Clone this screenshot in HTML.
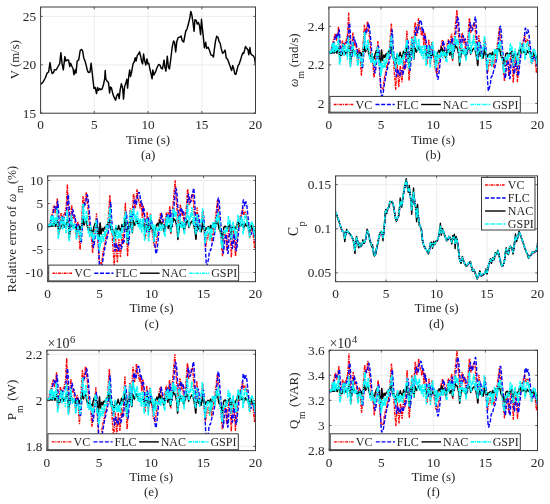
<!DOCTYPE html>
<html><head><meta charset="utf-8"><title>figure</title>
<style>html,body{margin:0;padding:0;background:#fff}svg{display:block}</style></head>
<body>
<svg width="550" height="504" viewBox="0 0 550 504">
<style>text{font-family:"Liberation Serif", "DejaVu Serif", serif;fill:#262626} .tk{font-size:13.3px} .lg{font-size:12px} .lb{font-size:13px} .sm{font-size:10px}</style>
<rect width="550" height="504" fill="#ffffff"/>
<clipPath id="clipa"><rect x="40.6" y="7.0" width="214.9" height="106.2"/></clipPath>
<line x1="94.3" y1="7.0" x2="94.3" y2="113.15" stroke="#e8e8e8" stroke-width="0.8"/>
<line x1="148.1" y1="7.0" x2="148.1" y2="113.15" stroke="#e8e8e8" stroke-width="0.8"/>
<line x1="201.8" y1="7.0" x2="201.8" y2="113.15" stroke="#e8e8e8" stroke-width="0.8"/>
<line x1="40.6" y1="64.8" x2="255.5" y2="64.8" stroke="#e8e8e8" stroke-width="0.8"/>
<line x1="40.6" y1="16.4" x2="255.5" y2="16.4" stroke="#e8e8e8" stroke-width="0.8"/>
<path clip-path="url(#clipa)" d="M40.6,84.6 L43.1,81.9 L45.3,78.0 L47.1,73.1 L48.6,72.0 L50.0,62.6 L51.1,69.8 L52.2,73.6 L53.5,72.5 L54.5,69.8 L56.2,69.8 L57.8,67.0 L59.7,63.7 L60.9,52.7 L62.0,63.2 L63.3,69.8 L64.9,56.6 L66.0,61.0 L67.4,59.9 L68.5,59.9 L69.8,66.5 L70.6,63.2 L72.0,66.5 L73.1,68.7 L73.9,74.7 L75.3,69.8 L76.0,73.1 L77.2,61.0 L78.7,59.9 L80.2,50.5 L81.5,49.4 L82.7,51.1 L83.8,58.2 L84.8,60.4 L86.2,65.4 L87.5,70.9 L88.5,72.5 L90.0,72.0 L91.1,63.2 L92.1,72.0 L93.2,81.9 L94.0,88.5 L95.2,87.5 L96.5,93.6 L97.6,87.5 L98.5,90.3 L99.6,88.6 L100.9,89.7 L102.2,88.6 L103.6,84.2 L104.7,78.7 L105.2,70.5 L105.8,78.7 L106.9,80.9 L108.5,82.6 L109.6,93.0 L110.5,87.0 L111.5,88.1 L112.9,94.1 L113.9,96.9 L115.6,100.2 L116.7,95.8 L118.1,93.6 L119.2,98.5 L120.2,89.7 L121.4,83.7 L122.7,88.6 L123.5,99.1 L124.6,86.4 L125.9,83.1 L126.8,79.3 L127.6,88.1 L128.7,76.5 L129.7,69.9 L130.5,76.5 L131.6,72.1 L133.0,63.9 L134.1,62.2 L135.2,57.8 L136.1,61.1 L137.2,55.6 L138.5,54.0 L139.5,51.8 L140.6,56.2 L141.7,61.7 L142.6,63.9 L143.6,54.0 L144.5,60.0 L145.8,65.0 L147.0,58.9 L147.9,63.9 L148.8,63.3 L149.9,68.8 L150.4,71.1 L152.1,78.8 L152.8,70.0 L153.9,75.0 L155.4,72.2 L157.0,67.8 L158.6,64.5 L160.0,65.1 L161.3,68.4 L162.4,68.9 L164.1,60.1 L164.8,66.7 L165.9,71.1 L167.3,56.3 L168.4,67.3 L169.5,68.9 L170.9,58.0 L172.2,47.0 L173.6,40.9 L174.6,42.6 L175.7,51.9 L176.8,41.5 L178.2,37.6 L179.7,37.1 L181.0,36.0 L182.3,40.9 L183.7,42.0 L184.8,36.0 L185.9,30.5 L186.1,30.7 L187.2,28.5 L188.6,23.0 L189.7,18.6 L190.8,11.5 L191.9,15.3 L193.0,22.5 L194.1,31.3 L194.9,19.7 L196.2,20.3 L197.3,24.1 L198.4,22.5 L199.5,25.8 L200.6,34.6 L201.5,19.2 L202.2,26.9 L203.3,36.8 L204.4,47.8 L205.7,42.3 L206.6,48.3 L208.2,47.2 L209.7,51.1 L211.0,54.9 L212.6,55.5 L213.4,57.1 L214.4,48.9 L215.5,41.2 L216.7,36.2 L218.0,37.3 L219.1,41.7 L220.2,43.4 L221.3,48.9 L222.6,53.3 L223.8,52.2 L225.1,50.0 L226.2,57.7 L227.9,59.9 L231.6,70.6 L232.7,65.6 L233.8,68.9 L234.8,73.9 L235.9,74.4 L237.0,70.0 L238.1,65.6 L239.2,64.0 L240.5,60.1 L241.6,56.3 L242.7,53.0 L243.6,53.6 L244.7,49.7 L245.5,46.4 L246.8,48.6 L247.9,49.7 L248.8,54.7 L249.9,47.5 L250.7,53.6 L252.1,55.2 L253.4,55.8 L254.5,58.0 L255.4,64.0" fill="none" stroke="#000" stroke-width="1.45" stroke-linejoin="round"/>
<rect x="40.6" y="7.0" width="214.9" height="106.2" fill="none" stroke="#3a3a3a" stroke-width="1"/>
<line x1="40.6" y1="113.15" x2="40.6" y2="110.95" stroke="#3a3a3a" stroke-width="0.8"/>
<line x1="40.6" y1="7.0" x2="40.6" y2="9.2" stroke="#3a3a3a" stroke-width="0.8"/>
<text x="40.6" y="129.2" text-anchor="middle" class="tk">0</text>
<line x1="94.3" y1="113.15" x2="94.3" y2="110.95" stroke="#3a3a3a" stroke-width="0.8"/>
<line x1="94.3" y1="7.0" x2="94.3" y2="9.2" stroke="#3a3a3a" stroke-width="0.8"/>
<text x="94.3" y="129.2" text-anchor="middle" class="tk">5</text>
<line x1="148.1" y1="113.15" x2="148.1" y2="110.95" stroke="#3a3a3a" stroke-width="0.8"/>
<line x1="148.1" y1="7.0" x2="148.1" y2="9.2" stroke="#3a3a3a" stroke-width="0.8"/>
<text x="148.1" y="129.2" text-anchor="middle" class="tk">10</text>
<line x1="201.8" y1="113.15" x2="201.8" y2="110.95" stroke="#3a3a3a" stroke-width="0.8"/>
<line x1="201.8" y1="7.0" x2="201.8" y2="9.2" stroke="#3a3a3a" stroke-width="0.8"/>
<text x="201.8" y="129.2" text-anchor="middle" class="tk">15</text>
<line x1="255.5" y1="113.15" x2="255.5" y2="110.95" stroke="#3a3a3a" stroke-width="0.8"/>
<line x1="255.5" y1="7.0" x2="255.5" y2="9.2" stroke="#3a3a3a" stroke-width="0.8"/>
<text x="255.5" y="129.2" text-anchor="middle" class="tk">20</text>
<line x1="40.6" y1="113.2" x2="42.800000000000004" y2="113.2" stroke="#3a3a3a" stroke-width="0.8"/>
<line x1="255.5" y1="113.2" x2="253.3" y2="113.2" stroke="#3a3a3a" stroke-width="0.8"/>
<text x="36.1" y="117.6" text-anchor="end" class="tk">15</text>
<line x1="40.6" y1="64.8" x2="42.800000000000004" y2="64.8" stroke="#3a3a3a" stroke-width="0.8"/>
<line x1="255.5" y1="64.8" x2="253.3" y2="64.8" stroke="#3a3a3a" stroke-width="0.8"/>
<text x="36.1" y="69.2" text-anchor="end" class="tk">20</text>
<line x1="40.6" y1="16.4" x2="42.800000000000004" y2="16.4" stroke="#3a3a3a" stroke-width="0.8"/>
<line x1="255.5" y1="16.4" x2="253.3" y2="16.4" stroke="#3a3a3a" stroke-width="0.8"/>
<text x="36.1" y="20.8" text-anchor="end" class="tk">25</text>
<text x="148.1" y="143.8" text-anchor="middle" class="lb">Time (s)</text>
<text x="148.1" y="158.9" text-anchor="middle" class="lb">(a)</text>
<g transform="translate(18.7,79.3) rotate(-90)">
<text x="0.0" y="0.0" font-size="12.8px">V (m/s)</text>
</g>
<clipPath id="clipb"><rect x="328.9" y="7.1" width="208.6" height="105.9"/></clipPath>
<line x1="381.0" y1="7.1" x2="381.0" y2="113.0" stroke="#e8e8e8" stroke-width="0.8"/>
<line x1="433.2" y1="7.1" x2="433.2" y2="113.0" stroke="#e8e8e8" stroke-width="0.8"/>
<line x1="485.4" y1="7.1" x2="485.4" y2="113.0" stroke="#e8e8e8" stroke-width="0.8"/>
<line x1="328.9" y1="103.4" x2="537.5" y2="103.4" stroke="#e8e8e8" stroke-width="0.8"/>
<line x1="328.9" y1="64.9" x2="537.5" y2="64.9" stroke="#e8e8e8" stroke-width="0.8"/>
<line x1="328.9" y1="26.4" x2="537.5" y2="26.4" stroke="#e8e8e8" stroke-width="0.8"/>
<path clip-path="url(#clipb)" d="M328.9,52.9 L329.2,52.6 L329.4,53.0 L329.7,52.9 L329.9,52.6 L330.2,51.6 L330.5,51.2 L330.7,50.5 L331.0,49.9 L331.2,49.5 L331.5,48.3 L331.8,46.9 L332.0,44.6 L332.3,43.7 L332.6,43.1 L332.8,43.0 L333.1,42.5 L333.3,40.9 L333.6,40.3 L333.9,39.2 L334.1,39.0 L334.4,36.6 L334.6,34.8 L334.9,34.3 L335.2,34.5 L335.4,33.8 L335.7,35.2 L335.9,37.1 L336.2,39.4 L336.5,40.1 L336.7,37.3 L337.0,36.6 L337.2,36.0 L337.5,36.0 L337.8,34.0 L338.0,31.6 L338.3,29.1 L338.5,26.6 L338.8,33.9 L339.1,41.9 L339.3,49.9 L339.6,57.7 L339.9,61.4 L340.1,59.7 L340.4,57.5 L340.6,54.6 L340.9,51.9 L341.2,51.3 L341.4,49.5 L341.7,47.4 L341.9,44.2 L342.2,41.9 L342.5,40.3 L342.7,41.4 L343.0,44.0 L343.2,45.6 L343.5,48.8 L343.8,47.9 L344.0,48.7 L344.3,46.5 L344.5,44.8 L344.8,43.2 L345.1,42.1 L345.3,42.4 L345.6,41.4 L345.8,41.5 L346.1,40.9 L346.4,39.9 L346.6,38.0 L346.9,37.1 L347.2,36.0 L347.4,36.2 L347.7,30.9 L347.9,26.6 L348.2,21.6 L348.5,17.7 L348.7,13.3 L349.0,21.9 L349.2,28.9 L349.5,37.2 L349.8,43.7 L350.0,51.6 L350.3,58.7 L350.5,66.2 L350.8,64.3 L351.1,59.9 L351.3,56.6 L351.6,55.0 L351.8,51.6 L352.1,46.6 L352.4,40.4 L352.6,35.6 L352.9,33.1 L353.1,35.3 L353.4,37.1 L353.7,39.2 L353.9,41.6 L354.2,43.9 L354.5,45.4 L354.7,44.0 L355.0,44.1 L355.2,44.9 L355.5,44.7 L355.8,42.9 L356.0,44.9 L356.3,48.3 L356.5,52.1 L356.8,54.6 L357.1,57.0 L357.3,59.6 L357.6,62.9 L357.8,62.5 L358.1,58.8 L358.4,55.9 L358.6,52.4 L358.9,49.2 L359.1,48.6 L359.4,50.2 L359.7,50.8 L359.9,52.9 L360.2,56.3 L360.5,61.5 L360.7,66.1 L361.0,70.3 L361.2,73.8 L361.5,75.2 L361.8,70.3 L362.0,65.9 L362.3,61.5 L362.5,56.8 L362.8,50.6 L363.1,45.4 L363.3,41.2 L363.6,37.6 L363.8,34.0 L364.1,29.6 L364.4,25.1 L364.6,27.1 L364.9,29.8 L365.1,32.7 L365.4,34.4 L365.7,34.6 L365.9,31.8 L366.2,30.5 L366.4,28.5 L366.7,27.3 L367.0,25.3 L367.2,23.5 L367.5,21.8 L367.8,21.3 L368.0,23.6 L368.3,26.8 L368.5,28.7 L368.8,31.6 L369.1,33.1 L369.3,35.9 L369.6,38.3 L369.8,41.6 L370.1,43.7 L370.4,47.2 L370.6,50.2 L370.9,53.9 L371.1,57.3 L371.4,57.5 L371.7,58.2 L371.9,59.1 L372.2,60.5 L372.4,61.9 L372.7,61.6 L373.0,65.2 L373.2,68.2 L373.5,71.9 L373.7,76.0 L374.0,77.8 L374.3,75.8 L374.5,73.6 L374.8,71.0 L375.1,67.0 L375.3,63.4 L375.6,59.6 L375.8,57.1 L376.1,55.0 L376.4,53.3 L376.6,52.8 L376.9,51.1 L377.1,49.6 L377.4,46.4 L377.7,43.6 L377.9,41.4 L378.2,46.9 L378.4,53.3 L378.7,58.1 L379.0,62.8 L379.2,65.7 L379.5,70.0 L379.7,73.1 L380.0,76.7 L380.3,80.3 L380.5,85.6 L380.8,87.0 L381.0,87.4 L381.3,87.6 L381.6,87.7 L381.8,87.9 L382.1,87.6 L382.4,87.8 L382.6,88.8 L382.9,88.5 L383.1,87.6 L383.4,86.2 L383.7,83.6 L383.9,81.9 L384.2,78.8 L384.4,78.3 L384.7,76.2 L385.0,75.4 L385.2,74.0 L385.5,72.7 L385.7,72.1 L386.0,71.2 L386.3,70.2 L386.5,69.2 L386.8,66.8 L387.0,65.8 L387.3,63.5 L387.6,64.9 L387.8,63.8 L388.1,63.5 L388.4,61.2 L388.6,59.6 L388.9,58.6 L389.1,55.8 L389.4,52.1 L389.7,47.0 L389.9,42.7 L390.2,38.6 L390.4,36.2 L390.7,32.0 L391.0,28.7 L391.2,24.4 L391.5,24.2 L391.7,31.8 L392.0,40.3 L392.3,50.0 L392.5,52.8 L392.8,54.6 L393.0,55.9 L393.3,58.2 L393.6,60.2 L393.8,63.7 L394.1,68.9 L394.3,72.6 L394.6,76.7 L394.9,79.3 L395.1,82.3 L395.4,86.2 L395.7,89.3 L395.9,86.6 L396.2,81.7 L396.4,77.2 L396.7,73.7 L397.0,70.0 L397.2,65.3 L397.5,69.2 L397.7,71.5 L398.0,76.1 L398.3,79.2 L398.5,83.3 L398.8,86.5 L399.0,83.0 L399.3,80.2 L399.6,75.4 L399.8,72.3 L400.1,68.2 L400.3,65.7 L400.6,68.0 L400.9,71.9 L401.1,74.4 L401.4,77.8 L401.6,79.1 L401.9,81.7 L402.2,79.8 L402.4,76.8 L402.7,72.1 L403.0,67.5 L403.2,63.5 L403.5,60.9 L403.7,63.7 L404.0,64.6 L404.3,65.3 L404.5,67.8 L404.8,69.3 L405.0,66.0 L405.3,61.1 L405.6,56.9 L405.8,51.2 L406.1,46.7 L406.3,40.5 L406.6,35.8 L406.9,31.3 L407.1,36.2 L407.4,42.6 L407.6,46.8 L407.9,52.2 L408.2,59.4 L408.4,67.1 L408.7,73.3 L409.0,79.8 L409.2,80.7 L409.5,74.9 L409.7,68.4 L410.0,63.9 L410.3,58.2 L410.5,53.2 L410.8,50.3 L411.0,46.6 L411.3,43.9 L411.6,39.0 L411.8,36.4 L412.1,37.1 L412.3,39.6 L412.6,41.1 L412.9,44.5 L413.1,48.1 L413.4,52.6 L413.6,48.5 L413.9,42.6 L414.2,36.5 L414.4,31.1 L414.7,26.3 L414.9,22.5 L415.2,22.2 L415.5,24.1 L415.7,25.9 L416.0,29.6 L416.3,33.2 L416.5,35.5 L416.8,35.6 L417.0,33.7 L417.3,31.1 L417.6,30.2 L417.8,27.0 L418.1,23.8 L418.3,19.6 L418.6,18.6 L418.9,20.8 L419.1,24.7 L419.4,25.2 L419.6,26.9 L419.9,27.3 L420.2,28.8 L420.4,30.2 L420.7,30.4 L420.9,31.7 L421.2,32.9 L421.5,35.7 L421.7,35.6 L422.0,34.7 L422.2,32.2 L422.5,30.3 L422.8,29.8 L423.0,33.9 L423.3,37.5 L423.6,41.6 L423.8,44.7 L424.1,41.6 L424.3,39.3 L424.6,35.7 L424.9,33.4 L425.1,36.4 L425.4,41.1 L425.6,44.1 L425.9,49.4 L426.2,53.0 L426.4,57.9 L426.7,61.0 L426.9,64.5 L427.2,61.1 L427.5,58.1 L427.7,55.5 L428.0,51.0 L428.2,47.5 L428.5,43.1 L428.8,40.1 L429.0,42.7 L429.3,47.7 L429.5,51.5 L429.8,56.0 L430.1,60.8 L430.3,64.2 L430.6,60.6 L430.9,58.5 L431.1,55.4 L431.4,51.9 L431.6,46.5 L431.9,41.8 L432.2,42.5 L432.4,45.3 L432.7,49.1 L432.9,51.6 L433.2,53.4 L433.5,54.3 L433.7,57.0 L434.0,59.3 L434.2,61.5 L434.5,61.9 L434.8,63.8 L435.0,66.5 L435.3,69.5 L435.5,70.8 L435.8,71.8 L436.1,71.9 L436.3,72.1 L436.6,72.3 L436.9,73.0 L437.1,73.2 L437.4,71.6 L437.6,70.6 L437.9,68.5 L438.2,66.2 L438.4,64.2 L438.7,63.5 L438.9,62.5 L439.2,61.0 L439.5,59.0 L439.7,57.5 L440.0,54.8 L440.2,51.2 L440.5,49.2 L440.8,47.4 L441.0,45.9 L441.3,44.8 L441.5,44.0 L441.8,43.3 L442.1,41.1 L442.3,40.6 L442.6,40.7 L442.8,42.1 L443.1,42.4 L443.4,43.1 L443.6,45.8 L443.9,47.4 L444.2,49.9 L444.4,51.9 L444.7,53.9 L444.9,55.8 L445.2,56.1 L445.5,58.0 L445.7,58.5 L446.0,56.2 L446.2,53.9 L446.5,51.6 L446.8,49.2 L447.0,46.8 L447.3,44.8 L447.5,43.4 L447.8,41.7 L448.1,41.0 L448.3,39.8 L448.6,40.3 L448.8,41.0 L449.1,42.7 L449.4,44.4 L449.6,48.0 L449.9,49.9 L450.1,46.4 L450.4,42.7 L450.7,40.1 L450.9,38.3 L451.2,36.6 L451.5,34.1 L451.7,34.3 L452.0,43.4 L452.2,51.9 L452.5,60.1 L452.8,60.5 L453.0,56.5 L453.3,53.4 L453.5,49.5 L453.8,45.7 L454.1,40.3 L454.3,37.1 L454.6,33.3 L454.8,31.0 L455.1,29.4 L455.4,26.4 L455.6,22.6 L455.9,19.8 L456.1,17.7 L456.4,15.0 L456.7,12.2 L456.9,10.0 L457.2,15.0 L457.4,19.1 L457.7,23.4 L458.0,27.1 L458.2,31.0 L458.5,34.5 L458.8,39.0 L459.0,40.9 L459.3,45.1 L459.5,45.5 L459.8,48.4 L460.1,49.3 L460.3,50.6 L460.6,47.7 L460.8,44.3 L461.1,41.7 L461.4,38.5 L461.6,35.8 L461.9,33.0 L462.1,33.1 L462.4,34.5 L462.7,36.1 L462.9,37.2 L463.2,39.6 L463.4,42.1 L463.7,42.7 L464.0,42.2 L464.2,40.4 L464.5,38.3 L464.8,38.4 L465.0,42.2 L465.3,47.5 L465.5,52.0 L465.8,56.7 L466.1,58.8 L466.3,54.7 L466.6,52.1 L466.8,49.8 L467.1,46.5 L467.4,42.2 L467.6,39.6 L467.9,37.3 L468.1,34.7 L468.4,31.1 L468.7,26.7 L468.9,22.5 L469.2,20.1 L469.4,18.2 L469.7,19.2 L470.0,23.2 L470.2,26.8 L470.5,30.8 L470.7,32.6 L471.0,31.1 L471.3,30.5 L471.5,30.1 L471.8,30.7 L472.1,30.1 L472.3,29.1 L472.6,28.2 L472.8,26.3 L473.1,25.1 L473.4,23.8 L473.6,24.2 L473.9,24.7 L474.1,24.5 L474.4,22.5 L474.7,22.3 L474.9,24.9 L475.2,29.5 L475.4,32.3 L475.7,36.6 L476.0,40.6 L476.2,45.3 L476.5,48.8 L476.7,52.0 L477.0,55.5 L477.3,59.8 L477.5,64.0 L477.8,64.2 L478.0,55.2 L478.3,47.0 L478.6,40.1 L478.8,35.7 L479.1,38.6 L479.4,40.6 L479.6,43.2 L479.9,45.9 L480.1,48.5 L480.4,49.9 L480.7,53.1 L480.9,53.7 L481.2,55.6 L481.4,56.1 L481.7,57.1 L482.0,56.4 L482.2,55.1 L482.5,53.1 L482.7,51.8 L483.0,51.3 L483.3,50.3 L483.5,48.3 L483.8,47.7 L484.0,44.1 L484.3,41.8 L484.6,38.9 L484.8,38.3 L485.1,42.9 L485.4,47.7 L485.6,51.9 L485.9,57.1 L486.1,60.8 L486.4,63.1 L486.7,65.4 L486.9,66.8 L487.2,69.5 L487.4,73.2 L487.7,71.5 L488.0,70.1 L488.2,68.1 L488.5,67.3 L488.7,65.5 L489.0,63.3 L489.3,62.3 L489.5,61.7 L489.8,61.1 L490.0,59.9 L490.3,61.0 L490.6,62.6 L490.8,64.4 L491.1,65.3 L491.3,65.6 L491.6,65.5 L491.9,64.2 L492.1,62.7 L492.4,62.2 L492.7,59.6 L492.9,61.8 L493.2,62.9 L493.4,65.8 L493.7,67.6 L494.0,66.7 L494.2,63.9 L494.5,62.1 L494.7,60.3 L495.0,60.3 L495.3,59.4 L495.5,57.5 L495.8,54.6 L496.0,53.1 L496.3,52.1 L496.6,51.2 L496.8,48.8 L497.1,47.3 L497.3,45.3 L497.6,42.6 L497.9,40.7 L498.1,38.8 L498.4,36.9 L498.6,33.8 L498.9,32.3 L499.2,29.8 L499.4,28.3 L499.7,29.7 L500.0,33.7 L500.2,37.8 L500.5,40.1 L500.7,44.5 L501.0,46.7 L501.3,50.7 L501.5,52.6 L501.8,54.8 L502.0,56.4 L502.3,59.2 L502.6,61.1 L502.8,64.6 L503.1,66.5 L503.3,70.3 L503.6,72.5 L503.9,75.7 L504.1,77.3 L504.4,81.0 L504.6,78.0 L504.9,75.3 L505.2,69.9 L505.4,66.8 L505.7,61.3 L505.9,61.8 L506.2,61.2 L506.5,62.0 L506.7,61.0 L507.0,59.0 L507.3,57.7 L507.5,60.0 L507.8,63.1 L508.0,66.0 L508.3,70.5 L508.6,73.1 L508.8,75.4 L509.1,71.6 L509.3,70.0 L509.6,68.4 L509.9,64.3 L510.1,60.7 L510.4,57.4 L510.6,57.4 L510.9,55.4 L511.2,54.0 L511.4,52.6 L511.7,52.5 L511.9,50.9 L512.2,54.1 L512.5,61.4 L512.7,68.8 L513.0,77.3 L513.3,82.7 L513.5,78.8 L513.8,74.6 L514.0,69.9 L514.3,65.4 L514.6,61.5 L514.8,60.9 L515.1,60.1 L515.3,58.5 L515.6,57.3 L515.9,60.5 L516.1,65.0 L516.4,68.4 L516.6,71.3 L516.9,74.7 L517.2,77.5 L517.4,81.5 L517.7,78.6 L517.9,76.8 L518.2,72.8 L518.5,69.5 L518.7,65.2 L519.0,61.8 L519.2,58.2 L519.5,57.1 L519.8,56.7 L520.0,54.8 L520.3,52.6 L520.6,50.4 L520.8,48.7 L521.1,47.9 L521.3,46.7 L521.6,46.5 L521.9,44.5 L522.1,43.8 L522.4,43.8 L522.6,44.7 L522.9,43.2 L523.2,41.9 L523.4,40.5 L523.7,40.1 L523.9,39.0 L524.2,37.1 L524.5,35.4 L524.7,35.6 L525.0,36.7 L525.2,39.3 L525.5,40.5 L525.8,42.2 L526.0,42.7 L526.3,41.6 L526.5,40.4 L526.8,40.4 L527.1,39.6 L527.3,40.2 L527.6,40.2 L527.9,40.5 L528.1,40.7 L528.4,43.1 L528.6,44.6 L528.9,46.0 L529.2,47.3 L529.4,49.6 L529.7,51.3 L529.9,51.8 L530.2,53.0 L530.5,54.8 L530.7,56.8 L531.0,58.6 L531.2,60.7 L531.5,63.1 L531.8,63.9 L532.0,62.8 L532.3,59.7 L532.5,58.2 L532.8,56.7 L533.1,56.8 L533.3,55.7 L533.6,56.2 L533.8,56.1 L534.1,56.4 L534.4,56.2 L534.6,57.3 L534.9,57.4 L535.2,59.9 L535.4,62.7 L535.7,65.3 L535.9,68.2 L536.2,70.3 L536.5,73.2 L536.7,72.7 L537.0,70.3 L537.2,68.9 L537.5,66.9" fill="none" stroke="#ff0000" stroke-width="1.4" stroke-dasharray="2.8 0.9 1.0 0.9" stroke-linejoin="round" />
<path clip-path="url(#clipb)" d="M328.9,53.2 L329.2,53.0 L329.4,53.2 L329.7,53.3 L329.9,53.6 L330.2,53.1 L330.5,52.6 L330.7,51.8 L331.0,51.3 L331.2,50.7 L331.5,49.9 L331.8,49.7 L332.0,48.8 L332.3,48.2 L332.6,47.4 L332.8,45.9 L333.1,44.1 L333.3,44.2 L333.6,44.6 L333.9,43.9 L334.1,41.9 L334.4,40.5 L334.6,39.3 L334.9,39.1 L335.2,37.5 L335.4,36.9 L335.7,35.1 L335.9,34.6 L336.2,34.4 L336.5,35.3 L336.7,36.6 L337.0,37.7 L337.2,37.8 L337.5,37.9 L337.8,37.2 L338.0,35.9 L338.3,33.5 L338.5,32.2 L338.8,30.5 L339.1,29.6 L339.3,31.3 L339.6,34.7 L339.9,39.2 L340.1,44.7 L340.4,49.1 L340.6,52.5 L340.9,53.6 L341.2,54.6 L341.4,52.8 L341.7,51.6 L341.9,50.3 L342.2,49.9 L342.5,48.8 L342.7,47.7 L343.0,45.6 L343.2,44.5 L343.5,43.7 L343.8,44.8 L344.0,44.9 L344.3,45.9 L344.5,46.5 L344.8,47.4 L345.1,46.6 L345.3,45.1 L345.6,44.9 L345.8,44.1 L346.1,43.1 L346.4,42.3 L346.6,42.1 L346.9,42.6 L347.2,41.4 L347.4,39.9 L347.7,38.1 L347.9,37.0 L348.2,35.0 L348.5,32.6 L348.7,29.4 L349.0,26.6 L349.2,23.1 L349.5,23.0 L349.8,25.0 L350.0,28.2 L350.3,32.7 L350.5,37.9 L350.8,44.6 L351.1,52.1 L351.3,55.7 L351.6,57.3 L351.8,56.8 L352.1,56.1 L352.4,53.7 L352.6,50.3 L352.9,46.9 L353.1,43.5 L353.4,40.0 L353.7,38.1 L353.9,36.9 L354.2,37.9 L354.5,38.7 L354.7,39.8 L355.0,41.0 L355.2,42.4 L355.5,43.6 L355.8,44.2 L356.0,44.0 L356.3,43.6 L356.5,44.6 L356.8,46.9 L357.1,48.7 L357.3,50.2 L357.6,51.3 L357.8,53.3 L358.1,55.8 L358.4,57.7 L358.6,58.1 L358.9,57.5 L359.1,55.3 L359.4,53.6 L359.7,52.0 L359.9,51.7 L360.2,51.5 L360.5,52.6 L360.7,54.1 L361.0,57.3 L361.2,59.4 L361.5,62.3 L361.8,64.1 L362.0,67.3 L362.3,68.5 L362.5,68.8 L362.8,66.0 L363.1,63.2 L363.3,58.6 L363.6,56.4 L363.8,51.8 L364.1,47.8 L364.4,42.6 L364.6,38.3 L364.9,34.6 L365.1,32.8 L365.4,31.4 L365.7,30.9 L365.9,31.2 L366.2,32.3 L366.4,32.9 L366.7,31.9 L367.0,30.6 L367.2,29.4 L367.5,28.5 L367.8,27.1 L368.0,25.6 L368.3,23.5 L368.5,23.2 L368.8,23.7 L369.1,25.2 L369.3,26.7 L369.6,28.9 L369.8,31.0 L370.1,33.8 L370.4,35.8 L370.6,38.3 L370.9,41.2 L371.1,44.5 L371.4,48.2 L371.7,51.0 L371.9,52.8 L372.2,54.3 L372.4,55.9 L372.7,57.6 L373.0,58.2 L373.2,59.0 L373.5,61.0 L373.7,63.9 L374.0,66.1 L374.3,68.8 L374.5,71.4 L374.8,72.9 L375.1,72.9 L375.3,71.5 L375.6,70.9 L375.8,68.1 L376.1,66.5 L376.4,63.9 L376.6,61.9 L376.9,59.9 L377.1,56.8 L377.4,54.4 L377.7,51.9 L377.9,50.1 L378.2,48.0 L378.4,46.0 L378.7,47.1 L379.0,50.8 L379.2,55.0 L379.5,61.2 L379.7,66.9 L380.0,72.4 L380.3,78.2 L380.5,83.2 L380.8,89.2 L381.0,93.6 L381.3,95.5 L381.6,96.1 L381.8,95.3 L382.1,95.9 L382.4,95.2 L382.6,95.0 L382.9,93.9 L383.1,92.9 L383.4,91.2 L383.7,88.9 L383.9,87.3 L384.2,85.5 L384.4,84.4 L384.7,82.5 L385.0,81.4 L385.2,79.1 L385.5,77.8 L385.7,75.9 L386.0,75.1 L386.3,73.4 L386.5,72.1 L386.8,71.0 L387.0,70.2 L387.3,69.3 L387.6,68.0 L387.8,66.9 L388.1,65.5 L388.4,64.2 L388.6,63.1 L388.9,63.2 L389.1,62.1 L389.4,60.5 L389.7,58.6 L389.9,57.1 L390.2,55.9 L390.4,52.3 L390.7,49.0 L391.0,43.8 L391.2,41.2 L391.5,36.8 L391.7,33.2 L392.0,29.9 L392.3,31.4 L392.5,35.1 L392.8,40.4 L393.0,44.8 L393.3,48.7 L393.6,51.8 L393.8,54.5 L394.1,56.6 L394.3,58.9 L394.6,60.9 L394.9,63.5 L395.1,65.1 L395.4,67.6 L395.7,69.0 L395.9,72.4 L396.2,74.2 L396.4,76.4 L396.7,75.0 L397.0,74.0 L397.2,72.8 L397.5,72.1 L397.7,70.1 L398.0,69.2 L398.3,69.3 L398.5,71.4 L398.8,73.4 L399.0,75.1 L399.3,75.6 L399.6,75.8 L399.8,75.5 L400.1,75.8 L400.3,73.7 L400.6,72.4 L400.9,70.4 L401.1,70.8 L401.4,70.8 L401.6,71.1 L401.9,70.8 L402.2,72.2 L402.4,73.2 L402.7,74.5 L403.0,73.7 L403.2,73.3 L403.5,72.2 L403.7,70.6 L404.0,67.4 L404.3,66.2 L404.5,65.8 L404.8,66.4 L405.0,67.6 L405.3,68.0 L405.6,67.6 L405.8,64.5 L406.1,61.3 L406.3,57.6 L406.6,53.8 L406.9,49.8 L407.1,45.3 L407.4,41.2 L407.6,39.8 L407.9,41.0 L408.2,42.3 L408.4,45.8 L408.7,49.2 L409.0,53.7 L409.2,57.9 L409.5,63.4 L409.7,68.5 L410.0,70.3 L410.3,69.1 L410.5,66.7 L410.8,63.4 L411.0,59.3 L411.3,56.2 L411.6,52.8 L411.8,50.4 L412.1,46.4 L412.3,42.5 L412.6,40.8 L412.9,40.4 L413.1,41.0 L413.4,42.3 L413.6,45.3 L413.9,47.3 L414.2,47.5 L414.4,45.3 L414.7,43.2 L414.9,40.0 L415.2,36.4 L415.5,32.3 L415.7,29.0 L416.0,27.3 L416.3,27.6 L416.5,28.2 L416.8,29.9 L417.0,31.3 L417.3,32.6 L417.6,32.6 L417.8,32.6 L418.1,31.7 L418.3,30.1 L418.6,27.4 L418.9,25.5 L419.1,23.7 L419.4,23.2 L419.6,21.6 L419.9,21.3 L420.2,21.0 L420.4,21.8 L420.7,22.1 L420.9,21.3 L421.2,22.1 L421.5,23.0 L421.7,26.1 L422.0,29.0 L422.2,30.6 L422.5,30.6 L422.8,29.5 L423.0,29.1 L423.3,30.1 L423.6,32.2 L423.8,34.6 L424.1,35.8 L424.3,38.5 L424.6,39.2 L424.9,39.6 L425.1,38.3 L425.4,36.5 L425.6,36.8 L425.9,39.1 L426.2,42.2 L426.4,44.1 L426.7,46.3 L426.9,49.4 L427.2,53.9 L427.5,57.2 L427.7,58.3 L428.0,57.7 L428.2,56.9 L428.5,54.9 L428.8,52.3 L429.0,48.9 L429.3,45.1 L429.5,44.4 L429.8,45.8 L430.1,48.2 L430.3,50.2 L430.6,53.6 L430.9,57.1 L431.1,58.5 L431.4,57.9 L431.6,56.7 L431.9,54.7 L432.2,51.9 L432.4,48.8 L432.7,47.1 L432.9,47.0 L433.2,48.0 L433.5,49.4 L433.7,50.6 L434.0,51.9 L434.2,53.2 L434.5,55.2 L434.8,57.1 L435.0,59.1 L435.3,61.7 L435.5,63.7 L435.8,66.1 L436.1,67.2 L436.3,69.5 L436.6,71.3 L436.9,74.0 L437.1,75.8 L437.4,77.8 L437.6,79.0 L437.9,79.2 L438.2,78.6 L438.4,76.8 L438.7,75.1 L438.9,73.1 L439.2,71.2 L439.5,69.0 L439.7,66.5 L440.0,63.6 L440.2,61.2 L440.5,58.5 L440.8,56.8 L441.0,54.3 L441.3,52.8 L441.5,51.3 L441.8,49.8 L442.1,48.9 L442.3,46.8 L442.6,45.0 L442.8,42.2 L443.1,40.8 L443.4,41.5 L443.6,42.9 L443.9,43.6 L444.2,44.2 L444.4,44.8 L444.7,47.3 L444.9,49.1 L445.2,51.7 L445.5,53.1 L445.7,53.8 L446.0,55.0 L446.2,56.0 L446.5,56.5 L446.8,55.2 L447.0,54.4 L447.3,53.0 L447.5,50.7 L447.8,49.2 L448.1,47.1 L448.3,45.5 L448.6,43.1 L448.8,41.0 L449.1,41.6 L449.4,41.8 L449.6,43.5 L449.9,43.5 L450.1,44.8 L450.4,45.7 L450.7,46.1 L450.9,45.1 L451.2,44.6 L451.5,42.2 L451.7,40.6 L452.0,38.5 L452.2,38.0 L452.5,40.3 L452.8,44.1 L453.0,48.9 L453.3,52.0 L453.5,52.8 L453.8,53.2 L454.1,53.1 L454.3,51.2 L454.6,48.3 L454.8,44.6 L455.1,41.9 L455.4,37.4 L455.6,35.1 L455.9,31.8 L456.1,29.2 L456.4,25.9 L456.7,23.6 L456.9,20.9 L457.2,18.9 L457.4,17.0 L457.7,17.8 L458.0,18.0 L458.2,19.1 L458.5,21.3 L458.8,23.8 L459.0,27.3 L459.3,30.4 L459.5,34.6 L459.8,37.3 L460.1,40.0 L460.3,42.4 L460.6,44.4 L460.8,45.9 L461.1,45.7 L461.4,46.1 L461.6,45.5 L461.9,43.9 L462.1,41.2 L462.4,38.3 L462.7,36.4 L462.9,35.5 L463.2,35.9 L463.4,36.6 L463.7,38.2 L464.0,39.5 L464.2,40.4 L464.5,40.1 L464.8,39.5 L465.0,39.2 L465.3,39.0 L465.5,40.1 L465.8,41.7 L466.1,44.7 L466.3,47.6 L466.6,51.2 L466.8,53.0 L467.1,53.9 L467.4,53.5 L467.6,51.3 L467.9,48.9 L468.1,46.0 L468.4,43.5 L468.7,40.0 L468.9,36.1 L469.2,33.1 L469.4,29.8 L469.7,27.4 L470.0,23.9 L470.2,22.6 L470.5,23.2 L470.7,24.7 L471.0,26.2 L471.3,28.5 L471.5,29.9 L471.8,30.7 L472.1,29.9 L472.3,30.0 L472.6,29.7 L472.8,28.9 L473.1,27.0 L473.4,25.9 L473.6,24.7 L473.9,24.1 L474.1,22.6 L474.4,21.6 L474.7,20.3 L474.9,19.1 L475.2,17.3 L475.4,17.0 L475.7,18.4 L476.0,21.0 L476.2,25.3 L476.5,29.2 L476.7,35.1 L477.0,40.1 L477.3,44.8 L477.5,48.4 L477.8,51.6 L478.0,55.2 L478.3,57.8 L478.6,57.6 L478.8,55.6 L479.1,51.3 L479.4,46.7 L479.6,44.3 L479.9,42.6 L480.1,42.9 L480.4,42.9 L480.7,44.8 L480.9,46.3 L481.2,49.1 L481.4,50.8 L481.7,52.4 L482.0,53.1 L482.2,53.5 L482.5,54.5 L482.7,55.5 L483.0,55.9 L483.3,54.8 L483.5,53.9 L483.8,52.9 L484.0,52.1 L484.3,50.5 L484.6,48.6 L484.8,46.8 L485.1,45.1 L485.4,43.1 L485.6,44.1 L485.9,47.5 L486.1,52.3 L486.4,57.7 L486.7,62.6 L486.9,67.6 L487.2,72.9 L487.4,77.7 L487.7,82.4 L488.0,86.7 L488.2,89.8 L488.5,91.0 L488.7,90.9 L489.0,89.3 L489.3,88.3 L489.5,86.9 L489.8,86.3 L490.0,85.2 L490.3,84.8 L490.6,82.6 L490.8,80.1 L491.1,77.4 L491.3,77.0 L491.6,76.7 L491.9,76.3 L492.1,75.5 L492.4,75.9 L492.7,75.0 L492.9,74.1 L493.2,72.6 L493.4,71.6 L493.7,70.6 L494.0,69.4 L494.2,68.8 L494.5,68.2 L494.7,67.9 L495.0,67.1 L495.3,65.8 L495.5,63.9 L495.8,62.7 L496.0,61.7 L496.3,60.7 L496.6,59.4 L496.8,57.4 L497.1,55.5 L497.3,53.3 L497.6,51.0 L497.9,49.4 L498.1,47.2 L498.4,45.7 L498.6,41.8 L498.9,39.6 L499.2,36.0 L499.4,33.3 L499.7,29.8 L500.0,27.0 L500.2,26.3 L500.5,26.3 L500.7,27.2 L501.0,28.8 L501.3,32.0 L501.5,35.9 L501.8,40.0 L502.0,43.7 L502.3,47.3 L502.6,49.2 L502.8,52.7 L503.1,54.5 L503.3,57.7 L503.6,59.5 L503.9,62.6 L504.1,66.0 L504.4,68.9 L504.6,73.2 L504.9,76.6 L505.2,78.6 L505.4,77.3 L505.7,75.6 L505.9,72.7 L506.2,68.9 L506.5,66.7 L506.7,64.4 L507.0,63.8 L507.3,62.7 L507.5,62.5 L507.8,60.6 L508.0,61.2 L508.3,62.5 L508.6,65.7 L508.8,68.4 L509.1,72.1 L509.3,76.0 L509.6,78.5 L509.9,78.7 L510.1,77.3 L510.4,73.5 L510.6,69.4 L510.9,65.6 L511.2,62.3 L511.4,60.3 L511.7,58.5 L511.9,56.9 L512.2,54.6 L512.5,52.1 L512.7,53.1 L513.0,55.8 L513.3,60.3 L513.5,65.5 L513.8,71.3 L514.0,73.4 L514.3,73.9 L514.6,73.4 L514.8,71.2 L515.1,69.1 L515.3,66.3 L515.6,64.6 L515.9,61.9 L516.1,60.7 L516.4,60.8 L516.6,61.7 L516.9,63.8 L517.2,66.1 L517.4,68.8 L517.7,71.7 L517.9,75.1 L518.2,76.0 L518.5,75.0 L518.7,73.7 L519.0,72.1 L519.2,69.9 L519.5,66.3 L519.8,63.1 L520.0,61.7 L520.3,60.2 L520.6,58.3 L520.8,55.0 L521.1,53.5 L521.3,53.0 L521.6,52.0 L521.9,50.6 L522.1,48.9 L522.4,48.4 L522.6,46.9 L522.9,45.8 L523.2,44.3 L523.4,44.2 L523.7,43.6 L523.9,42.4 L524.2,39.5 L524.5,37.1 L524.7,33.8 L525.0,30.6 L525.2,28.3 L525.5,28.1 L525.8,28.8 L526.0,29.1 L526.3,30.6 L526.5,32.7 L526.8,33.6 L527.1,33.3 L527.3,32.4 L527.6,31.3 L527.9,29.8 L528.1,30.8 L528.4,31.4 L528.6,33.1 L528.9,34.3 L529.2,36.6 L529.4,38.8 L529.7,41.0 L529.9,43.4 L530.2,45.7 L530.5,48.0 L530.7,50.3 L531.0,52.6 L531.2,54.5 L531.5,55.7 L531.8,56.9 L532.0,58.3 L532.3,59.2 L532.5,60.1 L532.8,60.4 L533.1,60.8 L533.3,60.4 L533.6,59.4 L533.8,57.6 L534.1,57.3 L534.4,56.6 L534.6,57.1 L534.9,56.3 L535.2,56.8 L535.4,56.7 L535.7,58.0 L535.9,58.6 L536.2,60.9 L536.5,62.0 L536.7,63.5 L537.0,65.0 L537.2,65.8 L537.5,67.0" fill="none" stroke="#0000ff" stroke-width="1.4" stroke-dasharray="4 1.7" stroke-linejoin="round" />
<path clip-path="url(#clipb)" d="M328.9,53.3 L329.2,53.2 L329.4,53.2 L329.7,52.9 L329.9,52.9 L330.2,53.0 L330.5,52.7 L330.7,52.7 L331.0,52.3 L331.2,53.3 L331.5,52.8 L331.8,52.3 L332.0,52.4 L332.3,52.8 L332.6,52.4 L332.8,50.9 L333.1,52.0 L333.3,52.9 L333.6,52.5 L333.9,52.2 L334.1,52.5 L334.4,53.0 L334.6,51.6 L334.9,50.4 L335.2,49.9 L335.4,49.0 L335.7,49.8 L335.9,51.5 L336.2,52.3 L336.5,52.8 L336.7,52.7 L337.0,53.2 L337.2,51.6 L337.5,50.9 L337.8,50.0 L338.0,49.4 L338.3,48.7 L338.5,47.6 L338.8,50.5 L339.1,51.3 L339.3,53.7 L339.6,55.3 L339.9,56.1 L340.1,55.5 L340.4,55.4 L340.6,55.6 L340.9,54.6 L341.2,54.3 L341.4,54.8 L341.7,55.4 L341.9,54.6 L342.2,53.2 L342.5,52.8 L342.7,53.0 L343.0,52.6 L343.2,52.2 L343.5,51.7 L343.8,51.8 L344.0,50.6 L344.3,51.1 L344.5,50.8 L344.8,51.8 L345.1,52.4 L345.3,52.4 L345.6,53.8 L345.8,53.3 L346.1,53.8 L346.4,52.5 L346.6,53.4 L346.9,53.2 L347.2,52.1 L347.4,52.0 L347.7,50.3 L347.9,49.9 L348.2,48.7 L348.5,46.8 L348.7,46.2 L349.0,48.1 L349.2,50.5 L349.5,51.3 L349.8,52.7 L350.0,55.1 L350.3,57.9 L350.5,62.1 L350.8,61.3 L351.1,59.5 L351.3,55.8 L351.6,54.6 L351.8,54.1 L352.1,52.5 L352.4,51.9 L352.6,50.2 L352.9,50.2 L353.1,50.2 L353.4,50.0 L353.7,50.6 L353.9,51.4 L354.2,52.3 L354.5,53.4 L354.7,53.0 L355.0,53.9 L355.2,54.0 L355.5,53.6 L355.8,54.1 L356.0,54.0 L356.3,54.7 L356.5,54.7 L356.8,54.0 L357.1,54.6 L357.3,55.1 L357.6,56.0 L357.8,55.6 L358.1,55.3 L358.4,54.6 L358.6,54.1 L358.9,53.9 L359.1,54.2 L359.4,53.8 L359.7,53.1 L359.9,53.0 L360.2,53.9 L360.5,53.7 L360.7,53.0 L361.0,53.4 L361.2,54.7 L361.5,55.7 L361.8,54.7 L362.0,53.8 L362.3,54.4 L362.5,54.0 L362.8,53.0 L363.1,52.9 L363.3,50.5 L363.6,49.0 L363.8,47.4 L364.1,48.0 L364.4,46.6 L364.6,48.4 L364.9,50.8 L365.1,51.7 L365.4,51.9 L365.7,51.4 L365.9,50.8 L366.2,49.2 L366.4,48.9 L366.7,49.0 L367.0,48.3 L367.2,48.2 L367.5,48.2 L367.8,48.0 L368.0,49.2 L368.3,50.5 L368.5,52.9 L368.8,53.3 L369.1,54.2 L369.3,55.7 L369.6,56.2 L369.8,55.9 L370.1,55.2 L370.4,55.7 L370.6,56.1 L370.9,55.6 L371.1,55.4 L371.4,55.7 L371.7,56.2 L371.9,56.9 L372.2,57.2 L372.4,57.3 L372.7,56.3 L373.0,57.6 L373.2,58.5 L373.5,58.0 L373.7,57.7 L374.0,58.4 L374.3,58.6 L374.5,57.6 L374.8,56.0 L375.1,53.9 L375.3,54.0 L375.6,52.8 L375.8,52.1 L376.1,51.1 L376.4,50.5 L376.6,51.6 L376.9,51.5 L377.1,51.9 L377.4,50.8 L377.7,50.5 L377.9,50.4 L378.2,51.8 L378.4,53.1 L378.7,53.2 L379.0,55.3 L379.2,56.9 L379.5,58.4 L379.7,60.0 L380.0,60.2 L380.3,63.6 L380.5,64.7 L380.8,61.0 L381.0,55.8 L381.3,50.9 L381.6,49.9 L381.8,52.0 L382.1,56.8 L382.4,60.1 L382.6,60.6 L382.9,58.5 L383.1,57.1 L383.4,56.3 L383.7,55.2 L383.9,55.0 L384.2,55.5 L384.4,56.3 L384.7,57.5 L385.0,57.5 L385.2,56.1 L385.5,55.7 L385.7,54.3 L386.0,54.5 L386.3,54.2 L386.5,53.8 L386.8,54.6 L387.0,54.1 L387.3,54.2 L387.6,53.3 L387.8,52.5 L388.1,52.2 L388.4,51.5 L388.6,51.9 L388.9,52.1 L389.1,51.3 L389.4,50.0 L389.7,49.7 L389.9,50.3 L390.2,49.5 L390.4,47.8 L390.7,48.0 L391.0,47.8 L391.2,47.6 L391.5,47.6 L391.7,50.1 L392.0,53.2 L392.3,55.6 L392.5,56.8 L392.8,55.5 L393.0,55.6 L393.3,56.3 L393.6,56.8 L393.8,56.8 L394.1,56.2 L394.3,57.7 L394.6,58.4 L394.9,58.2 L395.1,59.4 L395.4,61.0 L395.7,62.7 L395.9,64.1 L396.2,63.7 L396.4,61.9 L396.7,58.4 L397.0,55.3 L397.2,54.4 L397.5,54.5 L397.7,55.7 L398.0,56.2 L398.3,56.5 L398.5,57.8 L398.8,57.5 L399.0,56.6 L399.3,55.1 L399.6,55.0 L399.8,53.8 L400.1,52.3 L400.3,52.8 L400.6,55.2 L400.9,55.0 L401.1,55.7 L401.4,55.9 L401.6,57.1 L401.9,57.5 L402.2,55.7 L402.4,56.3 L402.7,54.8 L403.0,54.5 L403.2,52.8 L403.5,51.3 L403.7,52.4 L404.0,53.0 L404.3,52.8 L404.5,53.5 L404.8,54.1 L405.0,54.4 L405.3,53.5 L405.6,51.5 L405.8,51.4 L406.1,50.0 L406.3,48.7 L406.6,46.2 L406.9,45.7 L407.1,48.2 L407.4,51.1 L407.6,53.2 L407.9,56.2 L408.2,58.6 L408.4,61.5 L408.7,62.9 L409.0,65.1 L409.2,67.0 L409.5,62.9 L409.7,59.0 L410.0,54.6 L410.3,53.3 L410.5,51.6 L410.8,49.8 L411.0,49.5 L411.3,49.1 L411.6,49.5 L411.8,48.6 L412.1,50.6 L412.3,52.0 L412.6,53.4 L412.9,53.8 L413.1,54.4 L413.4,57.9 L413.6,58.7 L413.9,59.2 L414.2,55.6 L414.4,52.3 L414.7,49.6 L414.9,47.8 L415.2,48.9 L415.5,49.5 L415.7,50.3 L416.0,51.7 L416.3,52.1 L416.5,52.1 L416.8,51.1 L417.0,50.1 L417.3,49.4 L417.6,48.6 L417.8,47.3 L418.1,47.4 L418.3,47.7 L418.6,47.2 L418.9,48.7 L419.1,48.5 L419.4,50.5 L419.6,50.4 L419.9,49.8 L420.2,51.2 L420.4,50.8 L420.7,51.2 L420.9,51.0 L421.2,51.6 L421.5,52.5 L421.7,52.3 L422.0,52.7 L422.2,52.6 L422.5,51.9 L422.8,51.9 L423.0,52.4 L423.3,52.5 L423.6,52.9 L423.8,52.8 L424.1,52.6 L424.3,51.8 L424.6,51.3 L424.9,51.1 L425.1,50.8 L425.4,52.4 L425.6,53.4 L425.9,54.4 L426.2,55.3 L426.4,54.8 L426.7,57.0 L426.9,57.8 L427.2,56.2 L427.5,55.4 L427.7,53.7 L428.0,53.0 L428.2,51.0 L428.5,50.2 L428.8,49.4 L429.0,49.7 L429.3,51.6 L429.5,52.5 L429.8,55.0 L430.1,55.7 L430.3,56.6 L430.6,56.3 L430.9,56.0 L431.1,56.6 L431.4,54.7 L431.6,54.6 L431.9,53.8 L432.2,54.3 L432.4,54.6 L432.7,54.8 L432.9,55.2 L433.2,55.4 L433.5,55.3 L433.7,55.2 L434.0,54.7 L434.2,55.3 L434.5,55.9 L434.8,56.8 L435.0,57.6 L435.3,57.5 L435.5,58.2 L435.8,59.0 L436.1,61.5 L436.3,61.7 L436.6,59.0 L436.9,57.3 L437.1,55.5 L437.4,54.5 L437.6,52.7 L437.9,52.6 L438.2,51.7 L438.4,51.4 L438.7,51.2 L438.9,50.1 L439.2,51.0 L439.5,50.8 L439.7,52.4 L440.0,52.3 L440.2,51.2 L440.5,52.1 L440.8,49.9 L441.0,48.8 L441.3,47.5 L441.5,47.1 L441.8,48.7 L442.1,48.7 L442.3,49.2 L442.6,50.1 L442.8,51.4 L443.1,52.0 L443.4,51.0 L443.6,50.2 L443.9,51.2 L444.2,51.4 L444.4,51.4 L444.7,52.4 L444.9,53.8 L445.2,55.4 L445.5,56.3 L445.7,57.3 L446.0,56.6 L446.2,55.5 L446.5,53.6 L446.8,52.5 L447.0,51.3 L447.3,50.3 L447.5,50.1 L447.8,49.3 L448.1,50.2 L448.3,49.6 L448.6,50.4 L448.8,51.2 L449.1,52.7 L449.4,53.1 L449.6,54.0 L449.9,55.2 L450.1,53.6 L450.4,52.7 L450.7,52.3 L450.9,52.8 L451.2,52.2 L451.5,51.7 L451.7,52.4 L452.0,55.4 L452.2,57.7 L452.5,58.8 L452.8,57.5 L453.0,54.9 L453.3,53.8 L453.5,51.8 L453.8,50.2 L454.1,48.6 L454.3,48.8 L454.6,48.7 L454.8,46.9 L455.1,46.1 L455.4,45.4 L455.6,46.5 L455.9,46.5 L456.1,47.1 L456.4,46.9 L456.7,47.4 L456.9,47.1 L457.2,47.9 L457.4,49.3 L457.7,49.6 L458.0,51.4 L458.2,52.3 L458.5,53.5 L458.8,54.7 L459.0,57.6 L459.3,62.2 L459.5,65.6 L459.8,64.8 L460.1,60.9 L460.3,59.5 L460.6,57.5 L460.8,56.4 L461.1,54.4 L461.4,52.9 L461.6,52.5 L461.9,49.9 L462.1,49.2 L462.4,50.1 L462.7,51.6 L462.9,51.7 L463.2,51.3 L463.4,52.9 L463.7,53.2 L464.0,52.2 L464.2,52.5 L464.5,53.2 L464.8,53.3 L465.0,54.6 L465.3,55.4 L465.5,56.5 L465.8,56.9 L466.1,56.8 L466.3,56.1 L466.6,54.2 L466.8,52.5 L467.1,52.0 L467.4,50.6 L467.6,49.9 L467.9,49.3 L468.1,49.3 L468.4,49.2 L468.7,47.6 L468.9,47.6 L469.2,48.1 L469.4,48.2 L469.7,48.2 L470.0,50.2 L470.2,51.7 L470.5,53.3 L470.7,54.2 L471.0,52.8 L471.3,52.3 L471.5,51.1 L471.8,51.9 L472.1,50.8 L472.3,49.8 L472.6,50.1 L472.8,49.6 L473.1,49.3 L473.4,48.8 L473.6,48.3 L473.9,48.2 L474.1,48.3 L474.4,48.4 L474.7,48.8 L474.9,48.8 L475.2,50.5 L475.4,51.8 L475.7,52.7 L476.0,53.4 L476.2,55.1 L476.5,57.4 L476.7,58.3 L477.0,59.2 L477.3,61.2 L477.5,64.8 L477.8,65.5 L478.0,61.8 L478.3,57.2 L478.6,54.3 L478.8,52.7 L479.1,52.8 L479.4,53.3 L479.6,52.1 L479.9,52.9 L480.1,53.4 L480.4,54.0 L480.7,56.1 L480.9,54.4 L481.2,55.3 L481.4,54.5 L481.7,54.8 L482.0,55.7 L482.2,55.3 L482.5,56.6 L482.7,56.9 L483.0,58.3 L483.3,57.1 L483.5,56.2 L483.8,55.1 L484.0,53.5 L484.3,52.4 L484.6,50.7 L484.8,50.2 L485.1,51.0 L485.4,52.2 L485.6,54.5 L485.9,55.8 L486.1,55.9 L486.4,56.9 L486.7,57.1 L486.9,57.2 L487.2,56.8 L487.4,56.3 L487.7,55.9 L488.0,54.5 L488.2,55.5 L488.5,55.7 L488.7,55.3 L489.0,54.3 L489.3,55.1 L489.5,55.9 L489.8,54.4 L490.0,53.2 L490.3,53.8 L490.6,55.9 L490.8,55.0 L491.1,54.5 L491.3,54.6 L491.6,55.2 L491.9,54.1 L492.1,53.0 L492.4,52.5 L492.7,52.1 L492.9,52.9 L493.2,54.0 L493.4,55.1 L493.7,54.8 L494.0,55.0 L494.2,54.4 L494.5,53.9 L494.7,53.2 L495.0,52.1 L495.3,52.2 L495.5,50.4 L495.8,50.1 L496.0,50.2 L496.3,50.0 L496.6,51.1 L496.8,50.4 L497.1,51.1 L497.3,51.4 L497.6,51.6 L497.9,50.3 L498.1,48.4 L498.4,48.9 L498.6,49.3 L498.9,49.5 L499.2,48.1 L499.4,48.6 L499.7,49.9 L500.0,50.9 L500.2,52.2 L500.5,53.2 L500.7,55.3 L501.0,55.7 L501.3,56.4 L501.5,56.9 L501.8,56.8 L502.0,57.3 L502.3,57.9 L502.6,59.1 L502.8,59.7 L503.1,60.2 L503.3,60.1 L503.6,59.7 L503.9,60.1 L504.1,62.0 L504.4,63.8 L504.6,64.7 L504.9,62.7 L505.2,59.2 L505.4,56.0 L505.7,54.2 L505.9,54.1 L506.2,53.2 L506.5,53.4 L506.7,53.5 L507.0,53.6 L507.3,53.0 L507.5,53.5 L507.8,53.2 L508.0,54.8 L508.3,55.4 L508.6,55.6 L508.8,56.0 L509.1,55.9 L509.3,55.9 L509.6,53.7 L509.9,53.5 L510.1,54.0 L510.4,53.5 L510.6,52.8 L510.9,53.0 L511.2,52.5 L511.4,52.4 L511.7,51.1 L511.9,52.0 L512.2,53.7 L512.5,55.5 L512.7,58.3 L513.0,59.5 L513.3,60.4 L513.5,58.8 L513.8,56.6 L514.0,55.5 L514.3,54.9 L514.6,54.2 L514.8,53.3 L515.1,52.9 L515.3,54.3 L515.6,54.1 L515.9,54.0 L516.1,54.5 L516.4,56.1 L516.6,56.0 L516.9,55.0 L517.2,55.2 L517.4,55.8 L517.7,55.2 L517.9,54.1 L518.2,53.0 L518.5,52.9 L518.7,52.6 L519.0,51.5 L519.2,49.9 L519.5,49.9 L519.8,49.4 L520.0,48.9 L520.3,49.0 L520.6,49.6 L520.8,50.9 L521.1,51.2 L521.3,52.6 L521.6,53.1 L521.9,52.0 L522.1,52.9 L522.4,51.9 L522.6,51.7 L522.9,50.7 L523.2,50.9 L523.4,52.4 L523.7,51.3 L523.9,51.5 L524.2,51.1 L524.5,51.6 L524.7,52.3 L525.0,52.0 L525.2,52.8 L525.5,53.9 L525.8,54.4 L526.0,54.5 L526.3,53.3 L526.5,52.4 L526.8,51.9 L527.1,50.8 L527.3,50.8 L527.6,51.9 L527.9,52.1 L528.1,52.7 L528.4,52.9 L528.6,52.9 L528.9,52.8 L529.2,52.1 L529.4,51.9 L529.7,51.6 L529.9,51.4 L530.2,52.3 L530.5,53.9 L530.7,55.8 L531.0,57.6 L531.2,57.2 L531.5,58.0 L531.8,58.2 L532.0,56.3 L532.3,53.9 L532.5,52.8 L532.8,53.3 L533.1,52.6 L533.3,52.2 L533.6,52.9 L533.8,54.8 L534.1,55.1 L534.4,55.5 L534.6,55.7 L534.9,55.0 L535.2,56.1 L535.4,56.1 L535.7,56.2 L535.9,57.5 L536.2,58.1 L536.5,59.0 L536.7,57.4 L537.0,56.7 L537.2,56.2 L537.5,55.5" fill="none" stroke="#000000" stroke-width="1.4" stroke-linejoin="round" />
<path clip-path="url(#clipb)" d="M328.9,53.3 L329.2,53.3 L329.4,52.8 L329.7,52.3 L329.9,52.6 L330.2,51.1 L330.5,51.4 L330.7,52.7 L331.0,52.4 L331.2,51.3 L331.5,52.0 L331.8,49.4 L332.0,44.2 L332.3,44.5 L332.6,44.5 L332.8,43.3 L333.1,49.2 L333.3,51.8 L333.6,43.5 L333.9,46.9 L334.1,43.0 L334.4,42.9 L334.6,48.9 L334.9,46.4 L335.2,52.3 L335.4,51.4 L335.7,50.9 L335.9,50.6 L336.2,45.4 L336.5,46.6 L336.7,46.5 L337.0,48.7 L337.2,50.4 L337.5,47.7 L337.8,42.5 L338.0,42.1 L338.3,37.2 L338.5,36.6 L338.8,48.6 L339.1,52.6 L339.3,59.0 L339.6,64.2 L339.9,62.1 L340.1,60.6 L340.4,60.8 L340.6,56.2 L340.9,55.4 L341.2,54.2 L341.4,51.2 L341.7,48.7 L341.9,49.0 L342.2,49.6 L342.5,46.9 L342.7,47.5 L343.0,44.4 L343.2,44.8 L343.5,51.8 L343.8,52.9 L344.0,55.5 L344.3,51.4 L344.5,47.2 L344.8,46.0 L345.1,45.2 L345.3,46.5 L345.6,45.5 L345.8,51.1 L346.1,50.6 L346.4,49.8 L346.6,54.2 L346.9,53.7 L347.2,56.3 L347.4,59.1 L347.7,52.1 L347.9,45.2 L348.2,39.9 L348.5,37.7 L348.7,40.2 L349.0,45.2 L349.2,50.6 L349.5,51.7 L349.8,54.4 L350.0,63.9 L350.3,62.2 L350.5,66.6 L350.8,62.9 L351.1,58.6 L351.3,57.7 L351.6,54.9 L351.8,52.7 L352.1,47.7 L352.4,48.5 L352.6,42.4 L352.9,45.1 L353.1,45.3 L353.4,47.9 L353.7,53.0 L353.9,51.8 L354.2,53.4 L354.5,55.9 L354.7,55.9 L355.0,53.1 L355.2,55.0 L355.5,53.0 L355.8,50.9 L356.0,53.0 L356.3,53.9 L356.5,54.1 L356.8,58.0 L357.1,57.7 L357.3,60.5 L357.6,65.1 L357.8,61.7 L358.1,64.4 L358.4,62.4 L358.6,57.8 L358.9,55.7 L359.1,54.0 L359.4,53.4 L359.7,54.4 L359.9,55.8 L360.2,58.0 L360.5,58.6 L360.7,56.8 L361.0,59.9 L361.2,61.5 L361.5,64.8 L361.8,66.3 L362.0,65.7 L362.3,64.6 L362.5,61.4 L362.8,56.7 L363.1,51.0 L363.3,47.7 L363.6,43.9 L363.8,45.4 L364.1,40.3 L364.4,32.5 L364.6,34.9 L364.9,32.6 L365.1,38.1 L365.4,42.9 L365.7,44.8 L365.9,48.3 L366.2,46.1 L366.4,49.3 L366.7,46.6 L367.0,44.7 L367.2,47.3 L367.5,42.4 L367.8,39.5 L368.0,39.4 L368.3,40.0 L368.5,42.8 L368.8,48.5 L369.1,53.0 L369.3,53.4 L369.6,59.8 L369.8,59.2 L370.1,58.0 L370.4,59.0 L370.6,58.7 L370.9,62.4 L371.1,61.5 L371.4,59.5 L371.7,54.8 L371.9,52.5 L372.2,56.1 L372.4,57.8 L372.7,59.4 L373.0,62.3 L373.2,58.6 L373.5,62.8 L373.7,60.7 L374.0,62.1 L374.3,64.4 L374.5,61.4 L374.8,66.2 L375.1,64.4 L375.3,61.4 L375.6,63.3 L375.8,60.9 L376.1,61.5 L376.4,61.3 L376.6,54.5 L376.9,52.9 L377.1,49.6 L377.4,47.4 L377.7,51.4 L377.9,49.2 L378.2,52.9 L378.4,57.5 L378.7,61.4 L379.0,65.7 L379.2,64.4 L379.5,62.4 L379.7,61.2 L380.0,61.4 L380.3,66.1 L380.5,72.6 L380.8,75.5 L381.0,71.9 L381.3,73.0 L381.6,70.2 L381.8,63.1 L382.1,67.4 L382.4,65.6 L382.6,65.5 L382.9,68.7 L383.1,66.3 L383.4,65.6 L383.7,62.8 L383.9,60.0 L384.2,62.1 L384.4,63.3 L384.7,66.1 L385.0,67.8 L385.2,66.3 L385.5,61.0 L385.7,60.7 L386.0,59.8 L386.3,57.5 L386.5,63.0 L386.8,60.1 L387.0,57.6 L387.3,54.7 L387.6,52.2 L387.8,53.8 L388.1,54.2 L388.4,57.5 L388.6,58.2 L388.9,55.0 L389.1,54.8 L389.4,51.4 L389.7,48.8 L389.9,47.0 L390.2,45.3 L390.4,45.8 L390.7,40.2 L391.0,38.2 L391.2,37.8 L391.5,35.3 L391.7,38.7 L392.0,45.4 L392.3,51.0 L392.5,53.4 L392.8,55.3 L393.0,58.7 L393.3,53.0 L393.6,55.3 L393.8,59.3 L394.1,56.3 L394.3,60.7 L394.6,59.0 L394.9,60.1 L395.1,62.9 L395.4,64.6 L395.7,67.9 L395.9,65.6 L396.2,62.8 L396.4,61.0 L396.7,57.2 L397.0,56.4 L397.2,52.7 L397.5,52.7 L397.7,56.6 L398.0,59.6 L398.3,63.6 L398.5,63.6 L398.8,64.5 L399.0,59.0 L399.3,57.3 L399.6,59.1 L399.8,59.2 L400.1,63.6 L400.3,61.2 L400.6,61.9 L400.9,62.0 L401.1,57.7 L401.4,61.7 L401.6,59.5 L401.9,63.6 L402.2,64.0 L402.4,62.4 L402.7,64.6 L403.0,57.3 L403.2,59.2 L403.5,54.6 L403.7,55.0 L404.0,58.1 L404.3,55.5 L404.5,55.2 L404.8,54.6 L405.0,51.7 L405.3,48.0 L405.6,46.0 L405.8,45.1 L406.1,46.4 L406.3,44.7 L406.6,45.0 L406.9,39.5 L407.1,40.5 L407.4,47.9 L407.6,48.0 L407.9,55.9 L408.2,61.3 L408.4,59.8 L408.7,68.5 L409.0,67.4 L409.2,66.8 L409.5,64.9 L409.7,58.1 L410.0,61.4 L410.3,56.4 L410.5,55.4 L410.8,54.0 L411.0,47.5 L411.3,42.6 L411.6,40.7 L411.8,39.7 L412.1,38.2 L412.3,41.7 L412.6,41.2 L412.9,45.8 L413.1,54.7 L413.4,58.8 L413.6,58.3 L413.9,51.7 L414.2,40.7 L414.4,40.0 L414.7,38.3 L414.9,35.9 L415.2,41.2 L415.5,37.9 L415.7,39.2 L416.0,43.8 L416.3,41.4 L416.5,44.1 L416.8,46.8 L417.0,44.5 L417.3,47.8 L417.6,50.8 L417.8,45.6 L418.1,43.6 L418.3,43.2 L418.6,40.5 L418.9,39.7 L419.1,41.2 L419.4,43.0 L419.6,46.8 L419.9,53.3 L420.2,52.5 L420.4,48.5 L420.7,47.3 L420.9,49.9 L421.2,51.8 L421.5,55.6 L421.7,50.8 L422.0,47.3 L422.2,46.4 L422.5,49.5 L422.8,54.2 L423.0,55.7 L423.3,58.5 L423.6,55.2 L423.8,51.7 L424.1,51.9 L424.3,45.9 L424.6,47.0 L424.9,49.0 L425.1,45.8 L425.4,56.2 L425.6,59.6 L425.9,62.3 L426.2,66.2 L426.4,60.7 L426.7,57.0 L426.9,58.8 L427.2,55.0 L427.5,55.9 L427.7,52.9 L428.0,49.5 L428.2,46.8 L428.5,46.2 L428.8,45.8 L429.0,49.8 L429.3,54.4 L429.5,58.1 L429.8,62.3 L430.1,63.4 L430.3,67.0 L430.6,61.1 L430.9,57.3 L431.1,53.5 L431.4,49.1 L431.6,46.4 L431.9,43.9 L432.2,42.7 L432.4,43.7 L432.7,42.3 L432.9,47.0 L433.2,48.5 L433.5,52.8 L433.7,53.0 L434.0,53.3 L434.2,55.5 L434.5,51.1 L434.8,57.3 L435.0,59.3 L435.3,64.1 L435.5,67.8 L435.8,63.3 L436.1,61.5 L436.3,54.3 L436.6,52.3 L436.9,57.8 L437.1,60.5 L437.4,63.4 L437.6,62.8 L437.9,61.3 L438.2,57.0 L438.4,54.5 L438.7,55.6 L438.9,57.4 L439.2,57.6 L439.5,56.8 L439.7,57.0 L440.0,55.4 L440.2,56.1 L440.5,57.1 L440.8,54.9 L441.0,52.2 L441.3,52.3 L441.5,51.3 L441.8,51.9 L442.1,53.3 L442.3,54.0 L442.6,56.6 L442.8,57.8 L443.1,56.7 L443.4,53.1 L443.6,51.8 L443.9,51.1 L444.2,54.7 L444.4,54.5 L444.7,53.5 L444.9,53.2 L445.2,52.5 L445.5,54.9 L445.7,58.1 L446.0,60.9 L446.2,59.2 L446.5,61.0 L446.8,62.4 L447.0,57.3 L447.3,54.6 L447.5,48.8 L447.8,45.3 L448.1,45.7 L448.3,45.0 L448.6,48.0 L448.8,52.5 L449.1,49.0 L449.4,48.7 L449.6,46.3 L449.9,42.9 L450.1,47.8 L450.4,48.8 L450.7,49.5 L450.9,51.2 L451.2,49.3 L451.5,47.1 L451.7,44.6 L452.0,45.4 L452.2,49.9 L452.5,58.2 L452.8,57.3 L453.0,55.8 L453.3,51.0 L453.5,45.9 L453.8,50.7 L454.1,44.4 L454.3,43.2 L454.6,39.4 L454.8,37.0 L455.1,40.3 L455.4,37.7 L455.6,39.8 L455.9,38.6 L456.1,39.9 L456.4,44.6 L456.7,41.2 L456.9,39.6 L457.2,43.5 L457.4,39.9 L457.7,41.2 L458.0,40.9 L458.2,43.1 L458.5,47.6 L458.8,49.1 L459.0,55.1 L459.3,54.4 L459.5,55.6 L459.8,63.1 L460.1,61.0 L460.3,57.8 L460.6,54.0 L460.8,44.8 L461.1,43.3 L461.4,43.7 L461.6,43.8 L461.9,46.9 L462.1,49.4 L462.4,52.1 L462.7,53.1 L462.9,53.8 L463.2,52.4 L463.4,51.8 L463.7,49.6 L464.0,48.9 L464.2,52.8 L464.5,54.4 L464.8,51.8 L465.0,51.4 L465.3,50.0 L465.5,50.5 L465.8,56.7 L466.1,61.1 L466.3,57.9 L466.6,54.1 L466.8,49.6 L467.1,47.6 L467.4,47.0 L467.6,47.5 L467.9,48.5 L468.1,44.1 L468.4,43.7 L468.7,37.0 L468.9,34.6 L469.2,33.2 L469.4,32.3 L469.7,38.0 L470.0,42.8 L470.2,47.4 L470.5,52.1 L470.7,51.4 L471.0,53.2 L471.3,52.0 L471.5,45.1 L471.8,45.7 L472.1,42.1 L472.3,42.7 L472.6,44.8 L472.8,43.7 L473.1,41.3 L473.4,39.4 L473.6,35.6 L473.9,35.8 L474.1,38.6 L474.4,40.7 L474.7,46.2 L474.9,48.9 L475.2,51.2 L475.4,48.5 L475.7,46.7 L476.0,44.0 L476.2,48.6 L476.5,53.4 L476.7,53.8 L477.0,58.3 L477.3,56.7 L477.5,58.3 L477.8,60.4 L478.0,56.2 L478.3,50.4 L478.6,44.7 L478.8,41.5 L479.1,42.7 L479.4,44.7 L479.6,47.1 L479.9,50.4 L480.1,51.0 L480.4,53.0 L480.7,53.3 L480.9,53.2 L481.2,54.7 L481.4,54.6 L481.7,58.7 L482.0,55.5 L482.2,54.8 L482.5,53.3 L482.7,47.5 L483.0,49.4 L483.3,49.3 L483.5,46.1 L483.8,42.6 L484.0,40.9 L484.3,36.6 L484.6,37.7 L484.8,43.6 L485.1,45.3 L485.4,48.6 L485.6,50.9 L485.9,50.6 L486.1,55.0 L486.4,63.4 L486.7,64.4 L486.9,69.4 L487.2,68.4 L487.4,66.2 L487.7,65.4 L488.0,59.7 L488.2,62.2 L488.5,60.3 L488.7,60.2 L489.0,58.4 L489.3,54.5 L489.5,55.7 L489.8,56.3 L490.0,55.1 L490.3,57.4 L490.6,56.0 L490.8,54.6 L491.1,61.1 L491.3,61.3 L491.6,65.8 L491.9,67.3 L492.1,62.7 L492.4,59.7 L492.7,58.8 L492.9,54.9 L493.2,60.0 L493.4,63.4 L493.7,57.0 L494.0,58.2 L494.2,54.8 L494.5,48.9 L494.7,51.7 L495.0,51.2 L495.3,51.5 L495.5,54.2 L495.8,53.6 L496.0,51.1 L496.3,50.4 L496.6,49.8 L496.8,53.4 L497.1,58.4 L497.3,55.0 L497.6,54.6 L497.9,50.1 L498.1,44.7 L498.4,46.2 L498.6,44.6 L498.9,43.8 L499.2,48.7 L499.4,46.1 L499.7,44.2 L500.0,43.1 L500.2,40.6 L500.5,43.1 L500.7,47.1 L501.0,48.0 L501.3,47.2 L501.5,50.0 L501.8,52.0 L502.0,56.4 L502.3,61.0 L502.6,62.4 L502.8,63.3 L503.1,68.7 L503.3,68.3 L503.6,69.4 L503.9,73.1 L504.1,69.9 L504.4,73.5 L504.6,68.1 L504.9,65.2 L505.2,62.0 L505.4,57.3 L505.7,59.1 L505.9,59.1 L506.2,58.1 L506.5,59.4 L506.7,59.3 L507.0,59.5 L507.3,58.8 L507.5,56.4 L507.8,57.1 L508.0,54.5 L508.3,55.0 L508.6,57.4 L508.8,58.8 L509.1,57.0 L509.3,56.2 L509.6,51.5 L509.9,48.3 L510.1,45.7 L510.4,44.0 L510.6,47.3 L510.9,49.2 L511.2,50.2 L511.4,48.2 L511.7,49.8 L511.9,46.7 L512.2,51.3 L512.5,58.0 L512.7,60.6 L513.0,63.6 L513.3,65.3 L513.5,64.0 L513.8,63.4 L514.0,61.8 L514.3,58.4 L514.6,50.7 L514.8,50.4 L515.1,49.1 L515.3,50.1 L515.6,55.2 L515.9,53.6 L516.1,56.0 L516.4,55.6 L516.6,59.1 L516.9,57.6 L517.2,55.9 L517.4,59.9 L517.7,58.4 L517.9,63.0 L518.2,64.7 L518.5,63.3 L518.7,58.1 L519.0,56.2 L519.2,49.4 L519.5,47.5 L519.8,48.6 L520.0,42.7 L520.3,47.1 L520.6,46.2 L520.8,44.9 L521.1,47.4 L521.3,48.4 L521.6,48.1 L521.9,49.0 L522.1,52.7 L522.4,52.3 L522.6,52.1 L522.9,47.6 L523.2,44.1 L523.4,43.8 L523.7,43.6 L523.9,45.3 L524.2,49.9 L524.5,49.8 L524.7,54.7 L525.0,60.2 L525.2,57.9 L525.5,58.0 L525.8,54.2 L526.0,51.1 L526.3,46.5 L526.5,44.9 L526.8,43.7 L527.1,44.2 L527.3,42.7 L527.6,41.7 L527.9,44.3 L528.1,45.5 L528.4,48.4 L528.6,49.6 L528.9,49.6 L529.2,46.7 L529.4,51.5 L529.7,54.6 L529.9,52.7 L530.2,56.9 L530.5,54.9 L530.7,55.3 L531.0,58.6 L531.2,61.9 L531.5,63.5 L531.8,63.1 L532.0,61.3 L532.3,55.1 L532.5,51.7 L532.8,52.0 L533.1,52.1 L533.3,49.5 L533.6,49.8 L533.8,49.2 L534.1,49.3 L534.4,50.7 L534.6,50.5 L534.9,50.9 L535.2,50.8 L535.4,54.1 L535.7,57.5 L535.9,54.7 L536.2,59.3 L536.5,58.9 L536.7,59.9 L537.0,64.0 L537.2,58.7 L537.5,62.0" fill="none" stroke="#00ffff" stroke-width="1.5999999999999999" stroke-dasharray="3.4 0.9 1.1 0.9" stroke-linejoin="round" />
<rect x="328.9" y="7.1" width="208.6" height="105.9" fill="none" stroke="#3a3a3a" stroke-width="1"/>
<line x1="328.9" y1="113.0" x2="328.9" y2="110.8" stroke="#3a3a3a" stroke-width="0.8"/>
<line x1="328.9" y1="7.1" x2="328.9" y2="9.3" stroke="#3a3a3a" stroke-width="0.8"/>
<text x="328.9" y="129.1" text-anchor="middle" class="tk">0</text>
<line x1="381.0" y1="113.0" x2="381.0" y2="110.8" stroke="#3a3a3a" stroke-width="0.8"/>
<line x1="381.0" y1="7.1" x2="381.0" y2="9.3" stroke="#3a3a3a" stroke-width="0.8"/>
<text x="381.0" y="129.1" text-anchor="middle" class="tk">5</text>
<line x1="433.2" y1="113.0" x2="433.2" y2="110.8" stroke="#3a3a3a" stroke-width="0.8"/>
<line x1="433.2" y1="7.1" x2="433.2" y2="9.3" stroke="#3a3a3a" stroke-width="0.8"/>
<text x="433.2" y="129.1" text-anchor="middle" class="tk">10</text>
<line x1="485.4" y1="113.0" x2="485.4" y2="110.8" stroke="#3a3a3a" stroke-width="0.8"/>
<line x1="485.4" y1="7.1" x2="485.4" y2="9.3" stroke="#3a3a3a" stroke-width="0.8"/>
<text x="485.4" y="129.1" text-anchor="middle" class="tk">15</text>
<line x1="537.5" y1="113.0" x2="537.5" y2="110.8" stroke="#3a3a3a" stroke-width="0.8"/>
<line x1="537.5" y1="7.1" x2="537.5" y2="9.3" stroke="#3a3a3a" stroke-width="0.8"/>
<text x="537.5" y="129.1" text-anchor="middle" class="tk">20</text>
<line x1="328.9" y1="103.4" x2="331.09999999999997" y2="103.4" stroke="#3a3a3a" stroke-width="0.8"/>
<line x1="537.5" y1="103.4" x2="535.3" y2="103.4" stroke="#3a3a3a" stroke-width="0.8"/>
<text x="324.4" y="107.8" text-anchor="end" class="tk">2</text>
<line x1="328.9" y1="64.9" x2="331.09999999999997" y2="64.9" stroke="#3a3a3a" stroke-width="0.8"/>
<line x1="537.5" y1="64.9" x2="535.3" y2="64.9" stroke="#3a3a3a" stroke-width="0.8"/>
<text x="324.4" y="69.3" text-anchor="end" class="tk">2.2</text>
<line x1="328.9" y1="26.4" x2="331.09999999999997" y2="26.4" stroke="#3a3a3a" stroke-width="0.8"/>
<line x1="537.5" y1="26.4" x2="535.3" y2="26.4" stroke="#3a3a3a" stroke-width="0.8"/>
<text x="324.4" y="30.8" text-anchor="end" class="tk">2.4</text>
<rect x="329.9" y="96.4" width="190.4" height="15.8" fill="#ffffff" stroke="#3a3a3a" stroke-width="1"/>
<line x1="333.7" y1="104.5" x2="353.5" y2="104.5" stroke="#ff0000" stroke-width="1.4" stroke-dasharray="2.8 0.9 1.0 0.9"/>
<text x="355.5" y="108.7" class="lg">VC</text>
<line x1="375.5" y1="104.5" x2="394.7" y2="104.5" stroke="#0000ff" stroke-width="1.4" stroke-dasharray="4 1.7"/>
<text x="396.5" y="108.7" class="lg">FLC</text>
<line x1="421.1" y1="104.5" x2="440.8" y2="104.5" stroke="#000000" stroke-width="1.4"/>
<text x="442.7" y="108.7" class="lg">NAC</text>
<line x1="470.5" y1="104.5" x2="490.5" y2="104.5" stroke="#00ffff" stroke-width="1.5999999999999999" stroke-dasharray="3.4 0.9 1.1 0.9"/>
<text x="492.4" y="108.7" class="lg">GSPI</text>
<text x="433.2" y="143.6" text-anchor="middle" class="lb">Time (s)</text>
<text x="433.2" y="158.8" text-anchor="middle" class="lb">(b)</text>
<g transform="translate(297.9,86.9) rotate(-90)">
<text x="0.0" y="0.0" font-size="11.8px" font-style="italic">&#969;</text>
<text x="8.3" y="6.2" font-size="9.5px">m</text>
<text x="19.6" y="0.0" font-size="13px">(rad/s)</text>
</g>
<clipPath id="clipc"><rect x="47.7" y="175.9" width="207.8" height="105.8"/></clipPath>
<line x1="99.7" y1="175.9" x2="99.7" y2="281.75" stroke="#e8e8e8" stroke-width="0.8"/>
<line x1="151.6" y1="175.9" x2="151.6" y2="281.75" stroke="#e8e8e8" stroke-width="0.8"/>
<line x1="203.6" y1="175.9" x2="203.6" y2="281.75" stroke="#e8e8e8" stroke-width="0.8"/>
<line x1="47.7" y1="272.5" x2="255.5" y2="272.5" stroke="#e8e8e8" stroke-width="0.8"/>
<line x1="47.7" y1="249.5" x2="255.5" y2="249.5" stroke="#e8e8e8" stroke-width="0.8"/>
<line x1="47.7" y1="226.5" x2="255.5" y2="226.5" stroke="#e8e8e8" stroke-width="0.8"/>
<line x1="47.7" y1="203.5" x2="255.5" y2="203.5" stroke="#e8e8e8" stroke-width="0.8"/>
<line x1="47.7" y1="180.5" x2="255.5" y2="180.5" stroke="#e8e8e8" stroke-width="0.8"/>
<path clip-path="url(#clipc)" d="M47.7,226.1 L48.0,225.8 L48.2,226.2 L48.5,226.0 L48.7,225.8 L49.0,224.7 L49.3,224.3 L49.5,223.5 L49.8,223.0 L50.0,222.5 L50.3,221.3 L50.6,219.7 L50.8,217.3 L51.1,216.4 L51.3,215.7 L51.6,215.6 L51.9,215.1 L52.1,213.4 L52.4,212.8 L52.6,211.6 L52.9,211.4 L53.2,208.8 L53.4,207.0 L53.7,206.4 L53.9,206.6 L54.2,205.9 L54.5,207.4 L54.7,209.4 L55.0,211.8 L55.2,212.6 L55.5,209.6 L55.8,208.8 L56.0,208.2 L56.3,208.2 L56.5,206.1 L56.8,203.5 L57.1,200.9 L57.3,198.3 L57.6,205.9 L57.8,214.4 L58.1,222.9 L58.3,231.2 L58.6,235.1 L58.9,233.3 L59.1,230.9 L59.4,227.9 L59.6,225.1 L59.9,224.4 L60.2,222.4 L60.4,220.3 L60.7,216.9 L60.9,214.4 L61.2,212.8 L61.5,213.9 L61.7,216.7 L62.0,218.3 L62.2,221.8 L62.5,220.8 L62.8,221.7 L63.0,219.3 L63.3,217.5 L63.5,215.8 L63.8,214.7 L64.1,215.0 L64.3,213.9 L64.6,214.0 L64.8,213.4 L65.1,212.3 L65.4,210.4 L65.6,209.4 L65.9,208.2 L66.1,208.5 L66.4,202.8 L66.7,198.3 L66.9,193.0 L67.2,188.9 L67.4,184.2 L67.7,193.3 L68.0,200.7 L68.2,209.5 L68.5,216.4 L68.7,224.7 L69.0,232.3 L69.3,240.2 L69.5,238.1 L69.8,233.5 L70.0,230.0 L70.3,228.3 L70.6,224.7 L70.8,219.4 L71.1,212.9 L71.3,207.8 L71.6,205.1 L71.9,207.5 L72.1,209.4 L72.4,211.6 L72.6,214.1 L72.9,216.6 L73.2,218.1 L73.4,216.7 L73.7,216.8 L73.9,217.7 L74.2,217.4 L74.5,215.5 L74.7,217.6 L75.0,221.2 L75.2,225.3 L75.5,227.9 L75.8,230.4 L76.0,233.2 L76.3,236.6 L76.5,236.3 L76.8,232.3 L77.1,229.3 L77.3,225.5 L77.6,222.2 L77.8,221.6 L78.1,223.2 L78.4,223.8 L78.6,226.1 L78.9,229.7 L79.1,235.2 L79.4,240.1 L79.6,244.5 L79.9,248.2 L80.2,249.6 L80.4,244.5 L80.7,239.9 L80.9,235.1 L81.2,230.3 L81.5,223.6 L81.7,218.1 L82.0,213.7 L82.2,209.9 L82.5,206.1 L82.8,201.4 L83.0,196.7 L83.3,198.8 L83.5,201.6 L83.8,204.7 L84.1,206.5 L84.3,206.8 L84.6,203.7 L84.8,202.4 L85.1,200.3 L85.4,199.0 L85.6,196.9 L85.9,195.0 L86.1,193.2 L86.4,192.7 L86.7,195.1 L86.9,198.5 L87.2,200.5 L87.4,203.6 L87.7,205.1 L88.0,208.1 L88.2,210.6 L88.5,214.2 L88.7,216.4 L89.0,220.1 L89.3,223.2 L89.5,227.2 L89.8,230.7 L90.0,231.0 L90.3,231.7 L90.6,232.6 L90.8,234.2 L91.1,235.6 L91.3,235.3 L91.6,239.1 L91.9,242.3 L92.1,246.2 L92.4,250.5 L92.6,252.4 L92.9,250.3 L93.2,248.0 L93.4,245.3 L93.7,241.0 L93.9,237.1 L94.2,233.2 L94.5,230.5 L94.7,228.3 L95.0,226.5 L95.2,226.0 L95.5,224.2 L95.8,222.6 L96.0,219.2 L96.3,216.2 L96.5,213.9 L96.8,219.8 L97.1,226.5 L97.3,231.6 L97.6,236.6 L97.8,239.6 L98.1,244.2 L98.4,247.4 L98.6,251.2 L98.9,255.0 L99.1,260.7 L99.4,262.1 L99.7,262.5 L99.9,262.8 L100.2,262.9 L100.4,263.1 L100.7,262.8 L100.9,263.0 L101.2,264.0 L101.5,263.7 L101.7,262.8 L102.0,261.3 L102.2,258.6 L102.5,256.8 L102.8,253.5 L103.0,253.0 L103.3,250.7 L103.5,249.9 L103.8,248.4 L104.1,247.0 L104.3,246.4 L104.6,245.4 L104.8,244.4 L105.1,243.3 L105.4,240.8 L105.6,239.7 L105.9,237.3 L106.1,238.8 L106.4,237.6 L106.7,237.3 L106.9,234.8 L107.2,233.2 L107.4,232.1 L107.7,229.1 L108.0,225.3 L108.2,219.8 L108.5,215.3 L108.7,210.9 L109.0,208.4 L109.3,204.0 L109.5,200.5 L109.8,195.9 L110.0,195.7 L110.3,203.8 L110.6,212.8 L110.8,223.0 L111.1,226.0 L111.3,227.9 L111.6,229.3 L111.9,231.6 L112.1,233.8 L112.4,237.5 L112.6,243.0 L112.9,246.9 L113.2,251.3 L113.4,254.0 L113.7,257.2 L113.9,261.3 L114.2,264.6 L114.5,261.7 L114.7,256.5 L115.0,251.7 L115.2,248.1 L115.5,244.2 L115.8,239.2 L116.0,243.3 L116.3,245.7 L116.5,250.6 L116.8,253.9 L117.1,258.3 L117.3,261.7 L117.6,258.0 L117.8,255.0 L118.1,249.9 L118.4,246.7 L118.6,242.2 L118.9,239.6 L119.1,242.0 L119.4,246.2 L119.7,248.8 L119.9,252.4 L120.2,253.8 L120.4,256.5 L120.7,254.5 L120.9,251.3 L121.2,246.4 L121.5,241.5 L121.7,237.3 L122.0,234.5 L122.2,237.5 L122.5,238.5 L122.8,239.2 L123.0,241.9 L123.3,243.4 L123.5,240.0 L123.8,234.8 L124.1,230.3 L124.3,224.3 L124.6,219.6 L124.8,213.0 L125.1,208.0 L125.4,203.2 L125.6,208.4 L125.9,215.2 L126.1,219.6 L126.4,225.4 L126.7,232.9 L126.9,241.1 L127.2,247.7 L127.4,254.5 L127.7,255.5 L128.0,249.4 L128.2,242.5 L128.5,237.8 L128.7,231.7 L129.0,226.4 L129.3,223.4 L129.5,219.4 L129.8,216.5 L130.0,211.4 L130.3,208.6 L130.6,209.3 L130.8,212.1 L131.1,213.6 L131.3,217.2 L131.6,221.0 L131.9,225.8 L132.1,221.5 L132.4,215.1 L132.6,208.7 L132.9,203.1 L133.2,198.0 L133.4,193.9 L133.7,193.7 L133.9,195.6 L134.2,197.6 L134.5,201.4 L134.7,205.2 L135.0,207.7 L135.2,207.8 L135.5,205.7 L135.8,203.0 L136.0,202.1 L136.3,198.7 L136.5,195.4 L136.8,190.9 L137.1,189.8 L137.3,192.2 L137.6,196.2 L137.8,196.8 L138.1,198.6 L138.4,199.1 L138.6,200.6 L138.9,202.1 L139.1,202.3 L139.4,203.7 L139.7,204.9 L139.9,207.9 L140.2,207.8 L140.4,206.8 L140.7,204.2 L141.0,202.1 L141.2,201.6 L141.5,206.0 L141.7,209.8 L142.0,214.2 L142.2,217.4 L142.5,214.1 L142.8,211.7 L143.0,207.9 L143.3,205.5 L143.5,208.7 L143.8,213.7 L144.1,216.7 L144.3,222.3 L144.6,226.2 L144.8,231.4 L145.1,234.6 L145.4,238.4 L145.6,234.8 L145.9,231.6 L146.1,228.9 L146.4,224.0 L146.7,220.3 L146.9,215.7 L147.2,212.5 L147.4,215.3 L147.7,220.6 L148.0,224.6 L148.2,229.4 L148.5,234.4 L148.7,238.0 L149.0,234.3 L149.3,232.0 L149.5,228.7 L149.8,225.0 L150.0,219.3 L150.3,214.3 L150.6,215.1 L150.8,218.0 L151.1,222.0 L151.3,224.7 L151.6,226.6 L151.9,227.6 L152.1,230.5 L152.4,232.8 L152.6,235.1 L152.9,235.6 L153.2,237.6 L153.4,240.5 L153.7,243.6 L153.9,245.0 L154.2,246.1 L154.5,246.2 L154.7,246.4 L155.0,246.6 L155.2,247.4 L155.5,247.5 L155.8,245.8 L156.0,244.8 L156.3,242.6 L156.5,240.2 L156.8,238.1 L157.1,237.3 L157.3,236.2 L157.6,234.7 L157.8,232.6 L158.1,231.0 L158.4,228.1 L158.6,224.3 L158.9,222.2 L159.1,220.3 L159.4,218.6 L159.7,217.5 L159.9,216.7 L160.2,215.9 L160.4,213.7 L160.7,213.1 L161.0,213.2 L161.2,214.7 L161.5,215.0 L161.7,215.8 L162.0,218.6 L162.2,220.3 L162.5,222.9 L162.8,225.0 L163.0,227.1 L163.3,229.1 L163.5,229.5 L163.8,231.5 L164.1,232.0 L164.3,229.6 L164.6,227.1 L164.8,224.7 L165.1,222.2 L165.4,219.7 L165.6,217.5 L165.9,216.0 L166.1,214.3 L166.4,213.5 L166.7,212.2 L166.9,212.7 L167.2,213.5 L167.4,215.3 L167.7,217.1 L168.0,220.9 L168.2,222.9 L168.5,219.3 L168.7,215.3 L169.0,212.6 L169.3,210.7 L169.5,208.9 L169.8,206.2 L170.0,206.4 L170.3,216.1 L170.6,225.0 L170.8,233.7 L171.1,234.1 L171.3,229.9 L171.6,226.6 L171.9,222.5 L172.1,218.5 L172.4,212.8 L172.6,209.4 L172.9,205.3 L173.2,203.0 L173.4,201.3 L173.7,198.1 L173.9,194.1 L174.2,191.1 L174.5,188.8 L174.7,186.1 L175.0,183.0 L175.2,180.7 L175.5,186.0 L175.8,190.3 L176.0,194.9 L176.3,198.8 L176.5,202.9 L176.8,206.7 L177.1,211.4 L177.3,213.4 L177.6,217.9 L177.8,218.3 L178.1,221.3 L178.4,222.3 L178.6,223.7 L178.9,220.6 L179.1,217.0 L179.4,214.3 L179.7,210.8 L179.9,208.0 L180.2,205.1 L180.4,205.1 L180.7,206.6 L181.0,208.4 L181.2,209.5 L181.5,212.0 L181.7,214.7 L182.0,215.3 L182.3,214.8 L182.5,212.9 L182.8,210.7 L183.0,210.7 L183.3,214.8 L183.5,220.3 L183.8,225.1 L184.1,230.1 L184.3,232.4 L184.6,228.0 L184.8,225.3 L185.1,222.8 L185.4,219.3 L185.6,214.8 L185.9,212.0 L186.1,209.6 L186.4,206.8 L186.7,203.1 L186.9,198.4 L187.2,194.0 L187.4,191.4 L187.7,189.3 L188.0,190.4 L188.2,194.6 L188.5,198.5 L188.7,202.7 L189.0,204.7 L189.3,203.1 L189.5,202.3 L189.8,202.0 L190.0,202.6 L190.3,202.0 L190.6,200.9 L190.8,200.0 L191.1,197.9 L191.3,196.7 L191.6,195.3 L191.9,195.7 L192.1,196.2 L192.4,196.0 L192.6,193.9 L192.9,193.8 L193.2,196.5 L193.4,201.4 L193.7,204.3 L193.9,208.8 L194.2,213.1 L194.5,218.0 L194.7,221.8 L195.0,225.1 L195.2,228.9 L195.5,233.4 L195.8,237.9 L196.0,238.0 L196.3,228.5 L196.5,219.9 L196.8,212.6 L197.1,207.9 L197.3,210.9 L197.6,213.1 L197.8,215.8 L198.1,218.7 L198.4,221.4 L198.6,222.9 L198.9,226.3 L199.1,226.9 L199.4,229.0 L199.7,229.4 L199.9,230.6 L200.2,229.8 L200.4,228.4 L200.7,226.3 L201.0,224.9 L201.2,224.4 L201.5,223.4 L201.7,221.3 L202.0,220.5 L202.3,216.8 L202.5,214.3 L202.8,211.3 L203.0,210.7 L203.3,215.5 L203.6,220.6 L203.8,225.0 L204.1,230.6 L204.3,234.4 L204.6,236.9 L204.8,239.3 L205.1,240.8 L205.4,243.7 L205.6,247.5 L205.9,245.8 L206.1,244.2 L206.4,242.1 L206.7,241.3 L206.9,239.4 L207.2,237.1 L207.4,236.0 L207.7,235.4 L208.0,234.8 L208.2,233.5 L208.5,234.7 L208.7,236.3 L209.0,238.3 L209.3,239.2 L209.5,239.5 L209.8,239.5 L210.0,238.0 L210.3,236.5 L210.6,235.9 L210.8,233.2 L211.1,235.5 L211.3,236.6 L211.6,239.7 L211.9,241.6 L212.1,240.7 L212.4,237.7 L212.6,235.8 L212.9,233.9 L213.2,233.9 L213.4,232.9 L213.7,231.0 L213.9,227.9 L214.2,226.3 L214.5,225.2 L214.7,224.2 L215.0,221.8 L215.2,220.2 L215.5,218.1 L215.8,215.2 L216.0,213.2 L216.3,211.2 L216.5,209.2 L216.8,205.9 L217.1,204.4 L217.3,201.7 L217.6,200.1 L217.8,201.6 L218.1,205.8 L218.4,210.1 L218.6,212.5 L218.9,217.2 L219.1,219.5 L219.4,223.7 L219.7,225.7 L219.9,228.1 L220.2,229.8 L220.4,232.7 L220.7,234.8 L221.0,238.4 L221.2,240.5 L221.5,244.5 L221.7,246.8 L222.0,250.2 L222.3,251.9 L222.5,255.8 L222.8,252.6 L223.0,249.8 L223.3,244.0 L223.6,240.8 L223.8,235.0 L224.1,235.5 L224.3,234.9 L224.6,235.8 L224.8,234.7 L225.1,232.5 L225.4,231.1 L225.6,233.6 L225.9,236.8 L226.1,239.9 L226.4,244.7 L226.7,247.5 L226.9,249.9 L227.2,245.8 L227.4,244.1 L227.7,242.4 L228.0,238.2 L228.2,234.4 L228.5,230.9 L228.7,230.9 L229.0,228.7 L229.3,227.2 L229.5,225.8 L229.8,225.7 L230.0,223.9 L230.3,227.4 L230.6,235.0 L230.8,242.9 L231.1,251.9 L231.3,257.6 L231.6,253.5 L231.9,249.1 L232.1,244.0 L232.4,239.3 L232.6,235.2 L232.9,234.6 L233.2,233.7 L233.4,232.0 L233.7,230.8 L233.9,234.1 L234.2,238.9 L234.5,242.5 L234.7,245.6 L235.0,249.1 L235.2,252.1 L235.5,256.3 L235.8,253.3 L236.0,251.4 L236.3,247.1 L236.5,243.7 L236.8,239.1 L237.1,235.5 L237.3,231.7 L237.6,230.5 L237.8,230.1 L238.1,228.1 L238.4,225.8 L238.6,223.4 L238.9,221.7 L239.1,220.8 L239.4,219.5 L239.7,219.4 L239.9,217.2 L240.2,216.4 L240.4,216.4 L240.7,217.4 L241.0,215.8 L241.2,214.4 L241.5,213.0 L241.7,212.6 L242.0,211.4 L242.3,209.4 L242.5,207.6 L242.8,207.7 L243.0,208.9 L243.3,211.7 L243.6,213.0 L243.8,214.7 L244.1,215.3 L244.3,214.1 L244.6,212.8 L244.9,212.9 L245.1,212.0 L245.4,212.6 L245.6,212.6 L245.9,212.9 L246.1,213.2 L246.4,215.7 L246.7,217.4 L246.9,218.8 L247.2,220.2 L247.4,222.6 L247.7,224.4 L248.0,224.9 L248.2,226.2 L248.5,228.1 L248.7,230.2 L249.0,232.1 L249.3,234.4 L249.5,236.9 L249.8,237.7 L250.0,236.5 L250.3,233.3 L250.6,231.7 L250.8,230.1 L251.1,230.2 L251.3,229.0 L251.6,229.6 L251.9,229.5 L252.1,229.8 L252.4,229.6 L252.6,230.7 L252.9,230.9 L253.2,233.5 L253.4,236.5 L253.7,239.2 L253.9,242.3 L254.2,244.5 L254.5,247.6 L254.7,247.1 L255.0,244.5 L255.2,243.0 L255.5,240.9" fill="none" stroke="#ff0000" stroke-width="1.4" stroke-dasharray="2.8 0.9 1.0 0.9" stroke-linejoin="round" />
<path clip-path="url(#clipc)" d="M47.7,226.4 L48.0,226.2 L48.2,226.4 L48.5,226.6 L48.7,226.8 L49.0,226.3 L49.3,225.7 L49.5,224.9 L49.8,224.4 L50.0,223.8 L50.3,223.0 L50.6,222.8 L50.8,221.8 L51.1,221.1 L51.3,220.3 L51.6,218.7 L51.9,216.7 L52.1,216.8 L52.4,217.3 L52.6,216.5 L52.9,214.5 L53.2,212.9 L53.4,211.7 L53.7,211.5 L53.9,209.8 L54.2,209.2 L54.5,207.2 L54.7,206.8 L55.0,206.5 L55.2,207.5 L55.5,208.8 L55.8,210.0 L56.0,210.1 L56.3,210.2 L56.5,209.4 L56.8,208.1 L57.1,205.5 L57.3,204.2 L57.6,202.4 L57.8,201.4 L58.1,203.3 L58.3,206.9 L58.6,211.6 L58.9,217.4 L59.1,222.0 L59.4,225.6 L59.6,226.9 L59.9,227.9 L60.2,226.0 L60.4,224.7 L60.7,223.4 L60.9,222.9 L61.2,221.7 L61.5,220.6 L61.7,218.3 L62.0,217.2 L62.2,216.3 L62.5,217.5 L62.8,217.6 L63.0,218.7 L63.3,219.3 L63.5,220.3 L63.8,219.4 L64.1,217.9 L64.3,217.6 L64.6,216.8 L64.8,215.7 L65.1,214.9 L65.4,214.6 L65.6,215.2 L65.9,213.9 L66.1,212.4 L66.4,210.5 L66.7,209.3 L66.9,207.2 L67.2,204.7 L67.4,201.2 L67.7,198.3 L68.0,194.5 L68.2,194.4 L68.5,196.6 L68.7,200.0 L69.0,204.7 L69.3,210.2 L69.5,217.3 L69.8,225.2 L70.0,229.1 L70.3,230.7 L70.6,230.2 L70.8,229.5 L71.1,226.9 L71.3,223.4 L71.6,219.7 L71.9,216.1 L72.1,212.4 L72.4,210.4 L72.6,209.2 L72.9,210.2 L73.2,211.0 L73.4,212.3 L73.7,213.5 L73.9,215.0 L74.2,216.2 L74.5,216.9 L74.7,216.7 L75.0,216.2 L75.2,217.3 L75.5,219.7 L75.8,221.6 L76.0,223.2 L76.3,224.4 L76.5,226.5 L76.8,229.2 L77.1,231.2 L77.3,231.6 L77.6,231.0 L77.8,228.7 L78.1,226.8 L78.4,225.1 L78.6,224.8 L78.9,224.6 L79.1,225.8 L79.4,227.4 L79.6,230.8 L79.9,233.0 L80.2,236.0 L80.4,237.9 L80.7,241.3 L80.9,242.6 L81.2,242.9 L81.5,239.9 L81.7,236.9 L82.0,232.1 L82.2,229.7 L82.5,224.9 L82.8,220.7 L83.0,215.2 L83.3,210.7 L83.5,206.8 L83.8,204.8 L84.1,203.4 L84.3,202.8 L84.6,203.1 L84.8,204.3 L85.1,204.9 L85.4,203.9 L85.6,202.5 L85.9,201.3 L86.1,200.3 L86.4,198.8 L86.7,197.2 L86.9,195.0 L87.2,194.7 L87.4,195.2 L87.7,196.8 L88.0,198.4 L88.2,200.7 L88.5,202.9 L88.7,205.9 L89.0,208.0 L89.3,210.7 L89.5,213.7 L89.8,217.2 L90.0,221.2 L90.3,224.1 L90.6,226.0 L90.8,227.5 L91.1,229.3 L91.3,231.0 L91.6,231.7 L91.9,232.6 L92.1,234.7 L92.4,237.7 L92.6,240.1 L92.9,243.0 L93.2,245.7 L93.4,247.2 L93.7,247.2 L93.9,245.7 L94.2,245.1 L94.5,242.2 L94.7,240.5 L95.0,237.7 L95.2,235.6 L95.5,233.5 L95.8,230.3 L96.0,227.7 L96.3,225.0 L96.5,223.2 L96.8,220.9 L97.1,218.8 L97.3,220.0 L97.6,223.9 L97.8,228.3 L98.1,234.9 L98.4,240.9 L98.6,246.7 L98.9,252.8 L99.1,258.1 L99.4,264.5 L99.7,269.2 L99.9,271.2 L100.2,271.8 L100.4,270.9 L100.7,271.6 L100.9,270.8 L101.2,270.6 L101.5,269.5 L101.7,268.4 L102.0,266.6 L102.2,264.1 L102.5,262.5 L102.8,260.6 L103.0,259.4 L103.3,257.4 L103.5,256.2 L103.8,253.8 L104.1,252.4 L104.3,250.4 L104.6,249.6 L104.8,247.8 L105.1,246.4 L105.4,245.2 L105.6,244.4 L105.9,243.4 L106.1,242.0 L106.4,240.8 L106.7,239.4 L106.9,238.0 L107.2,236.9 L107.4,236.9 L107.7,235.8 L108.0,234.2 L108.2,232.1 L108.5,230.6 L108.7,229.3 L109.0,225.4 L109.3,222.0 L109.5,216.5 L109.8,213.7 L110.0,209.0 L110.3,205.2 L110.6,201.8 L110.8,203.3 L111.1,207.3 L111.3,212.9 L111.6,217.6 L111.9,221.6 L112.1,225.0 L112.4,227.8 L112.6,230.1 L112.9,232.4 L113.2,234.5 L113.4,237.4 L113.7,239.0 L113.9,241.7 L114.2,243.1 L114.5,246.7 L114.7,248.6 L115.0,250.9 L115.2,249.4 L115.5,248.4 L115.8,247.2 L116.0,246.4 L116.3,244.3 L116.5,243.4 L116.8,243.4 L117.1,245.7 L117.3,247.8 L117.6,249.6 L117.8,250.1 L118.1,250.3 L118.4,250.0 L118.6,250.3 L118.9,248.1 L119.1,246.8 L119.4,244.6 L119.7,245.0 L119.9,245.0 L120.2,245.4 L120.4,245.0 L120.7,246.5 L120.9,247.6 L121.2,248.9 L121.5,248.1 L121.7,247.7 L122.0,246.5 L122.2,244.8 L122.5,241.4 L122.8,240.2 L123.0,239.7 L123.3,240.4 L123.5,241.7 L123.8,242.1 L124.1,241.7 L124.3,238.4 L124.6,235.0 L124.8,231.0 L125.1,227.1 L125.4,222.8 L125.6,218.1 L125.9,213.8 L126.1,212.2 L126.4,213.5 L126.7,214.9 L126.9,218.6 L127.2,222.2 L127.4,226.9 L127.7,231.4 L128.0,237.2 L128.2,242.5 L128.5,244.5 L128.7,243.2 L129.0,240.6 L129.3,237.2 L129.5,232.8 L129.8,229.5 L130.0,226.0 L130.3,223.4 L130.6,219.2 L130.8,215.1 L131.1,213.3 L131.3,212.9 L131.6,213.5 L131.9,214.9 L132.1,218.1 L132.4,220.2 L132.6,220.4 L132.9,218.1 L133.2,215.8 L133.4,212.5 L133.7,208.6 L133.9,204.3 L134.2,200.8 L134.5,199.1 L134.7,199.3 L135.0,200.0 L135.2,201.8 L135.5,203.2 L135.8,204.6 L136.0,204.6 L136.3,204.6 L136.5,203.7 L136.8,202.0 L137.1,199.1 L137.3,197.1 L137.6,195.2 L137.8,194.7 L138.1,193.0 L138.4,192.7 L138.6,192.4 L138.9,193.2 L139.1,193.5 L139.4,192.7 L139.7,193.6 L139.9,194.5 L140.2,197.7 L140.4,200.8 L140.7,202.5 L141.0,202.5 L141.2,201.3 L141.5,200.9 L141.7,202.0 L142.0,204.2 L142.2,206.7 L142.5,208.0 L142.8,210.9 L143.0,211.6 L143.3,212.0 L143.5,210.7 L143.8,208.7 L144.1,209.0 L144.3,211.5 L144.6,214.8 L144.8,216.8 L145.1,219.1 L145.4,222.4 L145.6,227.1 L145.9,230.6 L146.1,231.8 L146.4,231.1 L146.7,230.3 L146.9,228.2 L147.2,225.5 L147.4,221.8 L147.7,217.8 L148.0,217.1 L148.2,218.5 L148.5,221.1 L148.7,223.2 L149.0,226.8 L149.3,230.5 L149.5,232.0 L149.8,231.4 L150.0,230.1 L150.3,228.0 L150.6,225.0 L150.8,221.7 L151.1,219.9 L151.3,219.8 L151.6,220.9 L151.9,222.4 L152.1,223.6 L152.4,225.0 L152.6,226.4 L152.9,228.5 L153.2,230.5 L153.4,232.6 L153.7,235.4 L153.9,237.5 L154.2,240.0 L154.5,241.2 L154.7,243.6 L155.0,245.6 L155.2,248.4 L155.5,250.3 L155.8,252.4 L156.0,253.7 L156.3,253.9 L156.5,253.2 L156.8,251.3 L157.1,249.6 L157.3,247.4 L157.6,245.5 L157.8,243.2 L158.1,240.4 L158.4,237.4 L158.6,234.8 L158.9,232.0 L159.1,230.3 L159.4,227.5 L159.7,226.0 L159.9,224.4 L160.2,222.8 L160.4,221.9 L160.7,219.6 L161.0,217.7 L161.2,214.8 L161.5,213.3 L161.7,214.1 L162.0,215.5 L162.2,216.2 L162.5,216.9 L162.8,217.5 L163.0,220.1 L163.3,222.0 L163.5,224.9 L163.8,226.3 L164.1,227.0 L164.3,228.3 L164.6,229.3 L164.8,229.9 L165.1,228.5 L165.4,227.7 L165.6,226.2 L165.9,223.7 L166.1,222.2 L166.4,220.0 L166.7,218.3 L166.9,215.7 L167.2,213.5 L167.4,214.2 L167.7,214.4 L168.0,216.1 L168.2,216.1 L168.5,217.5 L168.7,218.4 L169.0,218.9 L169.3,217.8 L169.5,217.3 L169.8,214.8 L170.0,213.1 L170.3,210.9 L170.6,210.3 L170.8,212.8 L171.1,216.7 L171.3,221.9 L171.6,225.1 L171.9,226.0 L172.1,226.4 L172.4,226.3 L172.6,224.3 L172.9,221.3 L173.2,217.3 L173.4,214.4 L173.7,209.7 L173.9,207.3 L174.2,203.8 L174.5,201.0 L174.7,197.5 L175.0,195.1 L175.2,192.3 L175.5,190.1 L175.8,188.1 L176.0,189.0 L176.3,189.1 L176.5,190.3 L176.8,192.7 L177.1,195.3 L177.3,199.0 L177.6,202.3 L177.8,206.8 L178.1,209.6 L178.4,212.5 L178.6,215.0 L178.9,217.1 L179.1,218.7 L179.4,218.5 L179.7,218.9 L179.9,218.3 L180.2,216.6 L180.4,213.7 L180.7,210.6 L181.0,208.7 L181.2,207.7 L181.5,208.1 L181.7,208.8 L182.0,210.5 L182.3,211.9 L182.5,212.8 L182.8,212.5 L183.0,211.9 L183.3,211.6 L183.5,211.4 L183.8,212.6 L184.1,214.3 L184.3,217.5 L184.6,220.5 L184.8,224.3 L185.1,226.2 L185.4,227.1 L185.6,226.8 L185.9,224.4 L186.1,221.8 L186.4,218.8 L186.7,216.1 L186.9,212.4 L187.2,208.3 L187.4,205.2 L187.7,201.7 L188.0,199.2 L188.2,195.4 L188.5,194.1 L188.7,194.6 L189.0,196.2 L189.3,197.9 L189.5,200.3 L189.8,201.7 L190.0,202.7 L190.3,201.8 L190.6,201.9 L190.8,201.6 L191.1,200.7 L191.3,198.7 L191.6,197.5 L191.9,196.3 L192.1,195.6 L192.4,194.0 L192.6,193.0 L192.9,191.6 L193.2,190.4 L193.4,188.5 L193.7,188.1 L193.9,189.6 L194.2,192.4 L194.5,196.9 L194.7,201.0 L195.0,207.2 L195.2,212.5 L195.5,217.6 L195.8,221.3 L196.0,224.7 L196.3,228.5 L196.5,231.3 L196.8,231.1 L197.1,228.9 L197.3,224.3 L197.6,219.5 L197.8,216.9 L198.1,215.2 L198.4,215.6 L198.6,215.5 L198.9,217.5 L199.1,219.1 L199.4,222.0 L199.7,223.8 L199.9,225.6 L200.2,226.3 L200.4,226.7 L200.7,227.8 L201.0,228.9 L201.2,229.3 L201.5,228.1 L201.7,227.1 L202.0,226.1 L202.3,225.2 L202.5,223.5 L202.8,221.5 L203.0,219.7 L203.3,217.9 L203.6,215.7 L203.8,216.7 L204.1,220.4 L204.3,225.4 L204.6,231.2 L204.8,236.3 L205.1,241.7 L205.4,247.2 L205.6,252.3 L205.9,257.3 L206.1,261.8 L206.4,265.2 L206.7,266.3 L206.9,266.2 L207.2,264.6 L207.4,263.5 L207.7,262.1 L208.0,261.4 L208.2,260.2 L208.5,259.8 L208.7,257.4 L209.0,254.9 L209.3,252.0 L209.5,251.6 L209.8,251.3 L210.0,250.9 L210.3,250.0 L210.6,250.4 L210.8,249.5 L211.1,248.5 L211.3,246.9 L211.6,245.9 L211.9,244.8 L212.1,243.6 L212.4,242.9 L212.6,242.3 L212.9,241.9 L213.2,241.1 L213.4,239.7 L213.7,237.7 L213.9,236.5 L214.2,235.4 L214.5,234.3 L214.7,232.9 L215.0,230.8 L215.2,228.8 L215.5,226.5 L215.8,224.1 L216.0,222.4 L216.3,220.1 L216.5,218.5 L216.8,214.4 L217.1,212.0 L217.3,208.3 L217.6,205.3 L217.8,201.7 L218.1,198.7 L218.4,197.9 L218.6,197.9 L218.9,198.9 L219.1,200.6 L219.4,204.0 L219.7,208.2 L219.9,212.4 L220.2,216.3 L220.4,220.2 L220.7,222.2 L221.0,225.9 L221.2,227.8 L221.5,231.1 L221.7,233.1 L222.0,236.3 L222.3,239.9 L222.5,243.0 L222.8,247.6 L223.0,251.2 L223.3,253.2 L223.6,251.9 L223.8,250.1 L224.1,247.0 L224.3,243.0 L224.6,240.7 L224.8,238.2 L225.1,237.6 L225.4,236.4 L225.6,236.2 L225.9,234.3 L226.1,234.9 L226.4,236.3 L226.7,239.6 L226.9,242.5 L227.2,246.4 L227.4,250.5 L227.7,253.2 L228.0,253.4 L228.2,251.9 L228.5,247.8 L228.7,243.5 L229.0,239.5 L229.3,236.1 L229.5,233.9 L229.8,232.0 L230.0,230.4 L230.3,227.9 L230.6,225.3 L230.8,226.3 L231.1,229.2 L231.3,233.9 L231.6,239.4 L231.9,245.5 L232.1,247.8 L232.4,248.3 L232.6,247.8 L232.9,245.4 L233.2,243.2 L233.4,240.3 L233.7,238.5 L233.9,235.6 L234.2,234.4 L234.5,234.4 L234.7,235.4 L235.0,237.6 L235.2,240.0 L235.5,242.9 L235.8,246.0 L236.0,249.5 L236.3,250.5 L236.5,249.4 L236.8,248.1 L237.1,246.4 L237.3,244.1 L237.6,240.3 L237.8,236.9 L238.1,235.4 L238.4,233.9 L238.6,231.8 L238.9,228.3 L239.1,226.7 L239.4,226.1 L239.7,225.1 L239.9,223.6 L240.2,221.8 L240.4,221.3 L240.7,219.7 L241.0,218.5 L241.2,217.0 L241.5,216.9 L241.7,216.3 L242.0,214.9 L242.3,211.9 L242.5,209.4 L242.8,205.9 L243.0,202.5 L243.3,200.1 L243.6,199.9 L243.8,200.6 L244.1,200.9 L244.3,202.5 L244.6,204.7 L244.9,205.7 L245.1,205.4 L245.4,204.4 L245.6,203.3 L245.9,201.7 L246.1,202.8 L246.4,203.4 L246.7,205.1 L246.9,206.4 L247.2,208.9 L247.4,211.2 L247.7,213.5 L248.0,216.0 L248.2,218.5 L248.5,220.9 L248.7,223.4 L249.0,225.8 L249.3,227.8 L249.5,229.1 L249.8,230.3 L250.0,231.8 L250.3,232.7 L250.6,233.7 L250.8,234.0 L251.1,234.5 L251.3,234.1 L251.6,233.0 L251.9,231.1 L252.1,230.7 L252.4,230.1 L252.6,230.5 L252.9,229.6 L253.2,230.2 L253.4,230.1 L253.7,231.4 L253.9,232.1 L254.2,234.6 L254.5,235.7 L254.7,237.3 L255.0,238.9 L255.2,239.8 L255.5,241.0" fill="none" stroke="#0000ff" stroke-width="1.4" stroke-dasharray="4 1.7" stroke-linejoin="round" />
<path clip-path="url(#clipc)" d="M47.7,226.5 L48.0,226.4 L48.2,226.4 L48.5,226.1 L48.7,226.0 L49.0,226.2 L49.3,225.9 L49.5,225.9 L49.8,225.5 L50.0,226.5 L50.3,226.0 L50.6,225.4 L50.8,225.5 L51.1,225.9 L51.3,225.6 L51.6,223.9 L51.9,225.1 L52.1,226.0 L52.4,225.7 L52.6,225.4 L52.9,225.6 L53.2,226.2 L53.4,224.7 L53.7,223.5 L53.9,222.9 L54.2,222.0 L54.5,222.8 L54.7,224.6 L55.0,225.4 L55.2,226.0 L55.5,225.9 L55.8,226.4 L56.0,224.7 L56.3,224.0 L56.5,223.1 L56.8,222.4 L57.1,221.6 L57.3,220.5 L57.6,223.5 L57.8,224.4 L58.1,227.0 L58.3,228.6 L58.6,229.5 L58.9,228.8 L59.1,228.8 L59.4,228.9 L59.6,227.9 L59.9,227.5 L60.2,228.1 L60.4,228.7 L60.7,227.9 L60.9,226.5 L61.2,226.0 L61.5,226.1 L61.7,225.8 L62.0,225.4 L62.2,224.8 L62.5,224.9 L62.8,223.6 L63.0,224.2 L63.3,223.8 L63.5,225.0 L63.8,225.6 L64.1,225.6 L64.3,227.0 L64.6,226.5 L64.8,227.0 L65.1,225.7 L65.4,226.6 L65.6,226.4 L65.9,225.2 L66.1,225.2 L66.4,223.3 L66.7,222.9 L66.9,221.6 L67.2,219.7 L67.4,219.0 L67.7,221.0 L68.0,223.5 L68.2,224.4 L68.5,225.8 L68.7,228.4 L69.0,231.4 L69.3,235.8 L69.5,235.0 L69.8,233.1 L70.0,229.1 L70.3,227.9 L70.6,227.4 L70.8,225.7 L71.1,225.0 L71.3,223.3 L71.6,223.2 L71.9,223.3 L72.1,223.1 L72.4,223.6 L72.6,224.5 L72.9,225.5 L73.2,226.7 L73.4,226.2 L73.7,227.1 L73.9,227.3 L74.2,226.9 L74.5,227.3 L74.7,227.2 L75.0,228.0 L75.2,228.0 L75.5,227.2 L75.8,227.9 L76.0,228.4 L76.3,229.4 L76.5,229.0 L76.8,228.7 L77.1,227.9 L77.3,227.3 L77.6,227.1 L77.8,227.5 L78.1,227.0 L78.4,226.3 L78.6,226.1 L78.9,227.1 L79.1,226.9 L79.4,226.2 L79.6,226.6 L79.9,228.0 L80.2,229.0 L80.4,228.0 L80.7,227.0 L80.9,227.7 L81.2,227.3 L81.5,226.2 L81.7,226.1 L82.0,223.6 L82.2,222.0 L82.5,220.3 L82.8,220.9 L83.0,219.4 L83.3,221.3 L83.5,223.8 L83.8,224.8 L84.1,225.0 L84.3,224.5 L84.6,223.9 L84.8,222.2 L85.1,221.9 L85.4,222.0 L85.6,221.2 L85.9,221.1 L86.1,221.1 L86.4,220.9 L86.7,222.1 L86.9,223.5 L87.2,226.1 L87.4,226.5 L87.7,227.5 L88.0,229.1 L88.2,229.5 L88.5,229.2 L88.7,228.5 L89.0,229.1 L89.3,229.4 L89.5,229.0 L89.8,228.8 L90.0,229.1 L90.3,229.6 L90.6,230.3 L90.8,230.7 L91.1,230.7 L91.3,229.7 L91.6,231.0 L91.9,232.0 L92.1,231.5 L92.4,231.2 L92.6,231.9 L92.9,232.1 L93.2,231.0 L93.4,229.3 L93.7,227.2 L93.9,227.2 L94.2,225.9 L94.5,225.2 L94.7,224.2 L95.0,223.5 L95.2,224.8 L95.5,224.6 L95.8,225.0 L96.0,223.9 L96.3,223.6 L96.5,223.4 L96.8,224.9 L97.1,226.3 L97.3,226.4 L97.6,228.7 L97.8,230.3 L98.1,231.9 L98.4,233.6 L98.6,233.9 L98.9,237.4 L99.1,238.5 L99.4,234.7 L99.7,229.1 L99.9,224.0 L100.2,222.9 L100.4,225.1 L100.7,230.2 L100.9,233.7 L101.2,234.2 L101.5,232.0 L101.7,230.6 L102.0,229.7 L102.2,228.5 L102.5,228.3 L102.8,228.9 L103.0,229.7 L103.3,231.0 L103.5,230.9 L103.8,229.5 L104.1,229.1 L104.3,227.6 L104.6,227.8 L104.8,227.4 L105.1,227.0 L105.4,227.9 L105.6,227.3 L105.9,227.4 L106.1,226.5 L106.4,225.6 L106.7,225.4 L106.9,224.6 L107.2,225.1 L107.4,225.2 L107.7,224.4 L108.0,223.0 L108.2,222.7 L108.5,223.4 L108.7,222.5 L109.0,220.7 L109.3,220.9 L109.5,220.7 L109.8,220.5 L110.0,220.5 L110.3,223.2 L110.6,226.4 L110.8,229.0 L111.1,230.2 L111.3,228.8 L111.6,229.0 L111.9,229.7 L112.1,230.2 L112.4,230.2 L112.6,229.6 L112.9,231.2 L113.2,231.9 L113.4,231.7 L113.7,232.9 L113.9,234.7 L114.2,236.4 L114.5,238.0 L114.7,237.6 L115.0,235.6 L115.2,231.9 L115.5,228.6 L115.8,227.7 L116.0,227.8 L116.3,229.1 L116.5,229.6 L116.8,229.9 L117.1,231.3 L117.3,231.0 L117.6,230.0 L117.8,228.4 L118.1,228.3 L118.4,227.0 L118.6,225.4 L118.9,226.0 L119.1,228.5 L119.4,228.4 L119.7,229.1 L119.9,229.3 L120.2,230.5 L120.4,231.0 L120.7,229.1 L120.9,229.7 L121.2,228.1 L121.5,227.8 L121.7,226.0 L122.0,224.4 L122.2,225.6 L122.5,226.2 L122.8,226.0 L123.0,226.7 L123.3,227.3 L123.5,227.7 L123.8,226.7 L124.1,224.6 L124.3,224.5 L124.6,223.0 L124.8,221.7 L125.1,219.0 L125.4,218.5 L125.6,221.1 L125.9,224.1 L126.1,226.4 L126.4,229.6 L126.7,232.1 L126.9,235.1 L127.2,236.7 L127.4,239.0 L127.7,241.0 L128.0,236.7 L128.2,232.6 L128.5,227.9 L128.7,226.5 L129.0,224.8 L129.3,222.8 L129.5,222.5 L129.8,222.1 L130.0,222.5 L130.3,221.5 L130.6,223.7 L130.8,225.1 L131.1,226.6 L131.3,227.1 L131.6,227.7 L131.9,231.4 L132.1,232.3 L132.4,232.7 L132.6,229.0 L132.9,225.4 L133.2,222.6 L133.4,220.7 L133.7,221.9 L133.9,222.5 L134.2,223.4 L134.5,224.8 L134.7,225.3 L135.0,225.2 L135.2,224.2 L135.5,223.1 L135.8,222.4 L136.0,221.6 L136.3,220.1 L136.5,220.3 L136.8,220.6 L137.1,220.1 L137.3,221.6 L137.6,221.4 L137.8,223.6 L138.1,223.4 L138.4,222.8 L138.6,224.3 L138.9,223.9 L139.1,224.3 L139.4,224.1 L139.7,224.7 L139.9,225.7 L140.2,225.5 L140.4,225.9 L140.7,225.8 L141.0,225.0 L141.2,225.0 L141.5,225.6 L141.7,225.7 L142.0,226.1 L142.2,226.0 L142.5,225.7 L142.8,224.9 L143.0,224.4 L143.3,224.2 L143.5,223.9 L143.8,225.5 L144.1,226.6 L144.3,227.7 L144.6,228.6 L144.8,228.1 L145.1,230.4 L145.4,231.3 L145.6,229.5 L145.9,228.8 L146.1,226.9 L146.4,226.2 L146.7,224.0 L146.9,223.2 L147.2,222.3 L147.4,222.7 L147.7,224.7 L148.0,225.7 L148.2,228.3 L148.5,229.1 L148.7,230.0 L149.0,229.7 L149.3,229.3 L149.5,230.0 L149.8,228.0 L150.0,227.8 L150.3,227.0 L150.6,227.6 L150.8,227.9 L151.1,228.1 L151.3,228.5 L151.6,228.7 L151.9,228.6 L152.1,228.5 L152.4,228.0 L152.6,228.6 L152.9,229.3 L153.2,230.2 L153.4,231.1 L153.7,230.9 L153.9,231.7 L154.2,232.5 L154.5,235.2 L154.7,235.4 L155.0,232.6 L155.2,230.8 L155.5,228.9 L155.8,227.7 L156.0,225.8 L156.3,225.7 L156.5,224.8 L156.8,224.5 L157.1,224.3 L157.3,223.2 L157.6,224.1 L157.8,223.8 L158.1,225.6 L158.4,225.5 L158.6,224.3 L158.9,225.2 L159.1,222.9 L159.4,221.7 L159.7,220.3 L159.9,219.9 L160.2,221.7 L160.4,221.7 L160.7,222.2 L161.0,223.1 L161.2,224.5 L161.5,225.2 L161.7,224.1 L162.0,223.2 L162.2,224.3 L162.5,224.5 L162.8,224.5 L163.0,225.5 L163.3,227.0 L163.5,228.7 L163.8,229.6 L164.1,230.8 L164.3,230.1 L164.6,228.9 L164.8,226.8 L165.1,225.6 L165.4,224.4 L165.6,223.4 L165.9,223.1 L166.1,222.3 L166.4,223.2 L166.7,222.6 L166.9,223.5 L167.2,224.2 L167.4,225.9 L167.7,226.3 L168.0,227.2 L168.2,228.5 L168.5,226.8 L168.7,225.9 L169.0,225.5 L169.3,226.0 L169.5,225.3 L169.8,224.8 L170.0,225.6 L170.3,228.8 L170.6,231.1 L170.8,232.3 L171.1,231.0 L171.3,228.2 L171.6,227.1 L171.9,224.9 L172.1,223.2 L172.4,221.6 L172.6,221.7 L172.9,221.6 L173.2,219.8 L173.4,218.9 L173.7,218.2 L173.9,219.3 L174.2,219.3 L174.5,220.0 L174.7,219.8 L175.0,220.3 L175.2,220.0 L175.5,220.8 L175.8,222.3 L176.0,222.6 L176.3,224.5 L176.5,225.5 L176.8,226.7 L177.1,228.0 L177.3,231.0 L177.6,235.9 L177.8,239.5 L178.1,238.7 L178.4,234.6 L178.6,233.0 L178.9,231.0 L179.1,229.8 L179.4,227.7 L179.7,226.0 L179.9,225.7 L180.2,222.9 L180.4,222.2 L180.7,223.2 L181.0,224.7 L181.2,224.8 L181.5,224.4 L181.7,226.1 L182.0,226.4 L182.3,225.4 L182.5,225.6 L182.8,226.4 L183.0,226.5 L183.3,227.8 L183.5,228.7 L183.8,229.9 L184.1,230.4 L184.3,230.2 L184.6,229.4 L184.8,227.4 L185.1,225.6 L185.4,225.2 L185.6,223.7 L185.9,222.9 L186.1,222.3 L186.4,222.3 L186.7,222.2 L186.9,220.5 L187.2,220.5 L187.4,221.0 L187.7,221.1 L188.0,221.1 L188.2,223.2 L188.5,224.8 L188.7,226.5 L189.0,227.5 L189.3,226.0 L189.5,225.5 L189.8,224.2 L190.0,225.0 L190.3,223.9 L190.6,222.8 L190.8,223.1 L191.1,222.6 L191.3,222.2 L191.6,221.7 L191.9,221.3 L192.1,221.1 L192.4,221.2 L192.6,221.3 L192.9,221.7 L193.2,221.8 L193.4,223.6 L193.7,225.0 L193.9,225.9 L194.2,226.6 L194.5,228.4 L194.7,230.8 L195.0,231.8 L195.2,232.8 L195.5,234.9 L195.8,238.7 L196.0,239.4 L196.3,235.5 L196.5,230.6 L196.8,227.6 L197.1,225.9 L197.3,226.0 L197.6,226.5 L197.8,225.3 L198.1,226.1 L198.4,226.6 L198.6,227.3 L198.9,229.4 L199.1,227.6 L199.4,228.6 L199.7,227.8 L199.9,228.1 L200.2,229.1 L200.4,228.7 L200.7,230.0 L201.0,230.3 L201.2,231.8 L201.5,230.5 L201.7,229.6 L202.0,228.5 L202.3,226.7 L202.5,225.6 L202.8,223.8 L203.0,223.3 L203.3,224.1 L203.6,225.4 L203.8,227.8 L204.1,229.1 L204.3,229.2 L204.6,230.4 L204.8,230.5 L205.1,230.6 L205.4,230.2 L205.6,229.7 L205.9,229.2 L206.1,227.8 L206.4,228.8 L206.7,229.1 L206.9,228.6 L207.2,227.6 L207.4,228.5 L207.7,229.2 L208.0,227.7 L208.2,226.4 L208.5,227.0 L208.7,229.3 L209.0,228.3 L209.3,227.7 L209.5,227.9 L209.8,228.5 L210.0,227.4 L210.3,226.2 L210.6,225.7 L210.8,225.2 L211.1,226.1 L211.3,227.3 L211.6,228.4 L211.9,228.1 L212.1,228.3 L212.4,227.6 L212.6,227.1 L212.9,226.4 L213.2,225.3 L213.4,225.3 L213.7,223.5 L213.9,223.1 L214.2,223.3 L214.5,223.0 L214.7,224.2 L215.0,223.5 L215.2,224.1 L215.5,224.5 L215.8,224.7 L216.0,223.4 L216.3,221.4 L216.5,221.9 L216.8,222.3 L217.1,222.5 L217.3,221.1 L217.6,221.6 L217.8,222.9 L218.1,223.9 L218.4,225.4 L218.6,226.4 L218.9,228.6 L219.1,229.1 L219.4,229.8 L219.7,230.4 L219.9,230.2 L220.2,230.8 L220.4,231.3 L220.7,232.7 L221.0,233.3 L221.2,233.8 L221.5,233.7 L221.7,233.3 L222.0,233.7 L222.3,235.7 L222.5,237.6 L222.8,238.6 L223.0,236.4 L223.3,232.8 L223.6,229.4 L223.8,227.4 L224.1,227.4 L224.3,226.4 L224.6,226.6 L224.8,226.8 L225.1,226.8 L225.4,226.1 L225.6,226.7 L225.9,226.4 L226.1,228.1 L226.4,228.7 L226.7,228.9 L226.9,229.4 L227.2,229.2 L227.4,229.3 L227.7,226.9 L228.0,226.8 L228.2,227.3 L228.5,226.7 L228.7,225.9 L229.0,226.2 L229.3,225.6 L229.5,225.5 L229.8,224.2 L230.0,225.2 L230.3,226.9 L230.6,228.9 L230.8,231.8 L231.1,233.0 L231.3,234.0 L231.6,232.3 L231.9,230.0 L232.1,228.8 L232.4,228.2 L232.6,227.5 L232.9,226.6 L233.2,226.1 L233.4,227.6 L233.7,227.3 L233.9,227.3 L234.2,227.8 L234.5,229.5 L234.7,229.4 L235.0,228.3 L235.2,228.5 L235.5,229.1 L235.8,228.5 L236.0,227.4 L236.3,226.2 L236.5,226.1 L236.8,225.7 L237.1,224.6 L237.3,223.0 L237.6,222.9 L237.8,222.4 L238.1,221.9 L238.4,222.0 L238.6,222.6 L238.9,224.0 L239.1,224.3 L239.4,225.7 L239.7,226.3 L239.9,225.2 L240.2,226.0 L240.4,225.0 L240.7,224.8 L241.0,223.8 L241.2,224.0 L241.5,225.5 L241.7,224.4 L242.0,224.6 L242.3,224.2 L242.5,224.7 L242.8,225.4 L243.0,225.1 L243.3,226.0 L243.6,227.2 L243.8,227.7 L244.1,227.8 L244.3,226.5 L244.6,225.6 L244.9,225.0 L245.1,223.9 L245.4,223.8 L245.6,225.0 L245.9,225.3 L246.1,225.8 L246.4,226.1 L246.7,226.0 L246.9,226.0 L247.2,225.3 L247.4,225.1 L247.7,224.7 L248.0,224.5 L248.2,225.4 L248.5,227.1 L248.7,229.2 L249.0,231.1 L249.3,230.7 L249.5,231.5 L249.8,231.7 L250.0,229.7 L250.3,227.2 L250.6,226.0 L250.8,226.5 L251.1,225.8 L251.3,225.4 L251.6,226.1 L251.9,228.1 L252.1,228.5 L252.4,228.9 L252.6,229.0 L252.9,228.3 L253.2,229.4 L253.4,229.4 L253.7,229.6 L253.9,231.0 L254.2,231.6 L254.5,232.6 L254.7,230.9 L255.0,230.1 L255.2,229.6 L255.5,228.8" fill="none" stroke="#000000" stroke-width="1.4" stroke-linejoin="round" />
<path clip-path="url(#clipc)" d="M47.7,226.5 L48.0,226.5 L48.2,226.0 L48.5,225.4 L48.7,225.7 L49.0,224.2 L49.3,224.5 L49.5,225.8 L49.8,225.6 L50.0,224.4 L50.3,225.2 L50.6,222.4 L50.8,216.9 L51.1,217.3 L51.3,217.2 L51.6,216.0 L51.9,222.2 L52.1,224.9 L52.4,216.1 L52.6,219.7 L52.9,215.6 L53.2,215.5 L53.4,221.8 L53.7,219.3 L53.9,225.5 L54.2,224.6 L54.5,224.0 L54.7,223.7 L55.0,218.1 L55.2,219.5 L55.5,219.3 L55.8,221.6 L56.0,223.4 L56.3,220.5 L56.5,215.1 L56.8,214.7 L57.1,209.4 L57.3,208.8 L57.6,221.5 L57.8,225.8 L58.1,232.5 L58.3,238.1 L58.6,235.8 L58.9,234.2 L59.1,234.4 L59.4,229.6 L59.6,228.8 L59.9,227.5 L60.2,224.3 L60.4,221.6 L60.7,222.0 L60.9,222.6 L61.2,219.8 L61.5,220.4 L61.7,217.1 L62.0,217.5 L62.2,224.9 L62.5,226.1 L62.8,228.9 L63.0,224.5 L63.3,220.0 L63.5,218.8 L63.8,217.9 L64.1,219.3 L64.3,218.2 L64.6,224.2 L64.8,223.7 L65.1,222.8 L65.4,227.4 L65.6,226.9 L65.9,229.7 L66.1,232.6 L66.4,225.2 L66.7,218.0 L66.9,212.3 L67.2,210.0 L67.4,212.7 L67.7,218.0 L68.0,223.7 L68.2,224.8 L68.5,227.7 L68.7,237.8 L69.0,235.9 L69.3,240.6 L69.5,236.7 L69.8,232.1 L70.0,231.1 L70.3,228.2 L70.6,225.9 L70.8,220.6 L71.1,221.4 L71.3,215.0 L71.6,217.9 L71.9,218.1 L72.1,220.8 L72.4,226.2 L72.6,224.9 L72.9,226.6 L73.2,229.2 L73.4,229.2 L73.7,226.3 L73.9,228.3 L74.2,226.2 L74.5,224.0 L74.7,226.2 L75.0,227.1 L75.2,227.4 L75.5,231.5 L75.8,231.2 L76.0,234.1 L76.3,239.0 L76.5,235.4 L76.8,238.3 L77.1,236.1 L77.3,231.3 L77.6,229.0 L77.8,227.3 L78.1,226.7 L78.4,227.6 L78.6,229.2 L78.9,231.5 L79.1,232.1 L79.4,230.2 L79.6,233.5 L79.9,235.2 L80.2,238.6 L80.4,240.3 L80.7,239.6 L80.9,238.5 L81.2,235.0 L81.5,230.1 L81.7,224.1 L82.0,220.6 L82.2,216.5 L82.5,218.2 L82.8,212.7 L83.0,204.5 L83.3,207.1 L83.5,204.6 L83.8,210.4 L84.1,215.5 L84.3,217.5 L84.6,221.2 L84.8,218.9 L85.1,222.3 L85.4,219.4 L85.6,217.4 L85.9,220.2 L86.1,214.9 L86.4,211.9 L86.7,211.8 L86.9,212.5 L87.2,215.4 L87.4,221.5 L87.7,226.2 L88.0,226.6 L88.2,233.4 L88.5,232.7 L88.7,231.5 L89.0,232.5 L89.3,232.2 L89.5,236.2 L89.8,235.1 L90.0,233.1 L90.3,228.1 L90.6,225.6 L90.8,229.4 L91.1,231.3 L91.3,233.0 L91.6,236.0 L91.9,232.2 L92.1,236.5 L92.4,234.3 L92.6,235.8 L92.9,238.3 L93.2,235.1 L93.4,240.2 L93.7,238.2 L93.9,235.1 L94.2,237.1 L94.5,234.5 L94.7,235.2 L95.0,235.0 L95.2,227.8 L95.5,226.1 L95.8,222.6 L96.0,220.3 L96.3,224.5 L96.5,222.2 L96.8,226.0 L97.1,230.9 L97.3,235.1 L97.6,239.7 L97.8,238.2 L98.1,236.1 L98.4,234.9 L98.6,235.1 L98.9,240.1 L99.1,246.9 L99.4,250.0 L99.7,246.2 L99.9,247.3 L100.2,244.3 L100.4,236.9 L100.7,241.4 L100.9,239.5 L101.2,239.4 L101.5,242.8 L101.7,240.3 L102.0,239.5 L102.2,236.5 L102.5,233.6 L102.8,235.8 L103.0,237.0 L103.3,240.0 L103.5,241.8 L103.8,240.3 L104.1,234.7 L104.3,234.3 L104.6,233.4 L104.8,230.9 L105.1,236.8 L105.4,233.7 L105.6,231.1 L105.9,228.0 L106.1,225.4 L106.4,227.0 L106.7,227.5 L106.9,231.0 L107.2,231.7 L107.4,228.3 L107.7,228.1 L108.0,224.5 L108.2,221.8 L108.5,219.8 L108.7,218.1 L109.0,218.6 L109.3,212.6 L109.5,210.6 L109.8,210.1 L110.0,207.5 L110.3,211.1 L110.6,218.1 L110.8,224.1 L111.1,226.7 L111.3,228.7 L111.6,232.3 L111.9,226.2 L112.1,228.7 L112.4,232.8 L112.6,229.7 L112.9,234.3 L113.2,232.6 L113.4,233.8 L113.7,236.7 L113.9,238.4 L114.2,242.0 L114.5,239.5 L114.7,236.6 L115.0,234.7 L115.2,230.7 L115.5,229.8 L115.8,225.9 L116.0,225.8 L116.3,230.0 L116.5,233.2 L116.8,237.4 L117.1,237.4 L117.3,238.4 L117.6,232.5 L117.8,230.8 L118.1,232.6 L118.4,232.7 L118.6,237.4 L118.9,234.8 L119.1,235.6 L119.4,235.7 L119.7,231.2 L119.9,235.4 L120.2,233.0 L120.4,237.4 L120.7,237.8 L120.9,236.2 L121.2,238.5 L121.5,230.8 L121.7,232.7 L122.0,227.9 L122.2,228.3 L122.5,231.6 L122.8,228.8 L123.0,228.5 L123.3,227.9 L123.5,224.8 L123.8,220.9 L124.1,218.8 L124.3,217.8 L124.6,219.2 L124.8,217.4 L125.1,217.7 L125.4,211.9 L125.6,212.9 L125.9,220.8 L126.1,220.9 L126.4,229.3 L126.7,235.0 L126.9,233.4 L127.2,242.6 L127.4,241.5 L127.7,240.8 L128.0,238.8 L128.2,231.5 L128.5,235.1 L128.7,229.8 L129.0,228.8 L129.3,227.2 L129.5,220.4 L129.8,215.2 L130.0,213.2 L130.3,212.1 L130.6,210.5 L130.8,214.2 L131.1,213.8 L131.3,218.6 L131.6,228.0 L131.9,232.3 L132.1,231.8 L132.4,224.8 L132.6,213.2 L132.9,212.4 L133.2,210.6 L133.4,208.1 L133.7,213.7 L133.9,210.2 L134.2,211.6 L134.5,216.5 L134.7,213.9 L135.0,216.8 L135.2,219.7 L135.5,217.2 L135.8,220.7 L136.0,223.8 L136.3,218.4 L136.5,216.2 L136.8,215.8 L137.1,213.0 L137.3,212.1 L137.6,213.7 L137.8,215.6 L138.1,219.6 L138.4,226.5 L138.6,225.6 L138.9,221.4 L139.1,220.2 L139.4,222.9 L139.7,224.9 L139.9,228.9 L140.2,223.9 L140.4,220.2 L140.7,219.2 L141.0,222.5 L141.2,227.5 L141.5,229.0 L141.7,232.1 L142.0,228.5 L142.2,224.8 L142.5,225.0 L142.8,218.6 L143.0,219.9 L143.3,222.0 L143.5,218.5 L143.8,229.6 L144.1,233.2 L144.3,236.0 L144.6,240.2 L144.8,234.3 L145.1,230.5 L145.4,232.4 L145.6,228.3 L145.9,229.2 L146.1,226.1 L146.4,222.5 L146.7,219.7 L146.9,219.0 L147.2,218.6 L147.4,222.8 L147.7,227.7 L148.0,231.5 L148.2,236.1 L148.5,237.2 L148.7,241.0 L149.0,234.8 L149.3,230.7 L149.5,226.8 L149.8,222.1 L150.0,219.2 L150.3,216.5 L150.6,215.3 L150.8,216.4 L151.1,214.8 L151.3,219.8 L151.6,221.5 L151.9,226.0 L152.1,226.2 L152.4,226.6 L152.6,228.9 L152.9,224.2 L153.2,230.7 L153.4,232.9 L153.7,237.9 L153.9,241.8 L154.2,237.1 L154.5,235.2 L154.7,227.6 L155.0,225.4 L155.2,231.2 L155.5,234.1 L155.8,237.2 L156.0,236.5 L156.3,234.9 L156.5,230.4 L156.8,227.8 L157.1,229.0 L157.3,230.8 L157.6,231.0 L157.8,230.2 L158.1,230.4 L158.4,228.8 L158.6,229.5 L158.9,230.5 L159.1,228.2 L159.4,225.3 L159.7,225.4 L159.9,224.4 L160.2,225.0 L160.4,226.5 L160.7,227.3 L161.0,230.0 L161.2,231.3 L161.5,230.2 L161.7,226.3 L162.0,224.9 L162.2,224.2 L162.5,228.0 L162.8,227.8 L163.0,226.8 L163.3,226.4 L163.5,225.6 L163.8,228.2 L164.1,231.6 L164.3,234.5 L164.6,232.8 L164.8,234.6 L165.1,236.2 L165.4,230.8 L165.6,227.9 L165.9,221.8 L166.1,218.0 L166.4,218.4 L166.7,217.7 L166.9,220.9 L167.2,225.7 L167.4,222.0 L167.7,221.6 L168.0,219.1 L168.2,215.5 L168.5,220.7 L168.7,221.8 L169.0,222.5 L169.3,224.3 L169.5,222.3 L169.8,220.0 L170.0,217.3 L170.3,218.1 L170.6,222.9 L170.8,231.7 L171.1,230.8 L171.3,229.2 L171.6,224.0 L171.9,218.7 L172.1,223.8 L172.4,217.1 L172.6,215.8 L172.9,211.8 L173.2,209.2 L173.4,212.8 L173.7,210.0 L173.9,212.2 L174.2,211.0 L174.5,212.4 L174.7,217.3 L175.0,213.7 L175.2,212.0 L175.5,216.1 L175.8,212.3 L176.0,213.7 L176.3,213.4 L176.5,215.7 L176.8,220.5 L177.1,222.0 L177.3,228.4 L177.6,227.6 L177.8,229.0 L178.1,236.9 L178.4,234.7 L178.6,231.3 L178.9,227.2 L179.1,217.5 L179.4,215.9 L179.7,216.4 L179.9,216.5 L180.2,219.7 L180.4,222.4 L180.7,225.3 L181.0,226.3 L181.2,227.1 L181.5,225.6 L181.7,224.9 L182.0,222.6 L182.3,221.9 L182.5,226.0 L182.8,227.7 L183.0,224.9 L183.3,224.5 L183.5,223.1 L183.8,223.6 L184.1,230.1 L184.3,234.8 L184.6,231.3 L184.8,227.4 L185.1,222.6 L185.4,220.5 L185.6,219.8 L185.9,220.4 L186.1,221.4 L186.4,216.8 L186.7,216.3 L186.9,209.3 L187.2,206.8 L187.4,205.3 L187.7,204.3 L188.0,210.3 L188.2,215.4 L188.5,220.3 L188.7,225.2 L189.0,224.5 L189.3,226.4 L189.5,225.1 L189.8,217.8 L190.0,218.5 L190.3,214.6 L190.6,215.3 L190.8,217.6 L191.1,216.4 L191.3,213.8 L191.6,211.8 L191.9,207.8 L192.1,208.0 L192.4,210.9 L192.6,213.2 L192.9,219.0 L193.2,221.9 L193.4,224.3 L193.7,221.4 L193.9,219.6 L194.2,216.7 L194.5,221.5 L194.7,226.6 L195.0,227.0 L195.2,231.8 L195.5,230.1 L195.8,231.8 L196.0,234.0 L196.3,229.6 L196.5,223.5 L196.8,217.4 L197.1,214.0 L197.3,215.3 L197.6,217.4 L197.8,219.9 L198.1,223.4 L198.4,224.1 L198.6,226.2 L198.9,226.5 L199.1,226.4 L199.4,228.0 L199.7,227.9 L199.9,232.2 L200.2,228.8 L200.4,228.1 L200.7,226.5 L201.0,220.4 L201.2,222.4 L201.5,222.2 L201.7,218.9 L202.0,215.2 L202.3,213.4 L202.5,208.8 L202.8,210.0 L203.0,216.2 L203.3,218.1 L203.6,221.5 L203.8,224.0 L204.1,223.7 L204.3,228.3 L204.6,237.2 L204.8,238.2 L205.1,243.6 L205.4,242.5 L205.6,240.1 L205.9,239.3 L206.1,233.3 L206.4,235.9 L206.7,234.0 L206.9,233.8 L207.2,231.9 L207.4,227.8 L207.7,229.0 L208.0,229.7 L208.2,228.4 L208.5,230.9 L208.7,229.4 L209.0,227.9 L209.3,234.7 L209.5,234.9 L209.8,239.7 L210.0,241.3 L210.3,236.5 L210.6,233.3 L210.8,232.3 L211.1,228.2 L211.3,233.6 L211.6,237.2 L211.9,230.4 L212.1,231.7 L212.4,228.1 L212.6,221.9 L212.9,224.8 L213.2,224.3 L213.4,224.6 L213.7,227.5 L213.9,226.8 L214.2,224.2 L214.5,223.5 L214.7,222.8 L215.0,226.6 L215.2,232.0 L215.5,228.3 L215.8,227.9 L216.0,223.2 L216.3,217.4 L216.5,219.0 L216.8,217.3 L217.1,216.5 L217.3,221.6 L217.6,218.9 L217.8,216.9 L218.1,215.7 L218.4,213.1 L218.6,215.7 L218.9,219.9 L219.1,220.9 L219.4,220.1 L219.7,223.0 L219.9,225.1 L220.2,229.8 L220.4,234.7 L220.7,236.2 L221.0,237.1 L221.2,242.8 L221.5,242.3 L221.7,243.5 L222.0,247.4 L222.3,244.0 L222.5,247.9 L222.8,242.2 L223.0,239.0 L223.3,235.7 L223.6,230.7 L223.8,232.6 L224.1,232.6 L224.3,231.6 L224.6,233.0 L224.8,232.9 L225.1,233.1 L225.4,232.3 L225.6,229.8 L225.9,230.6 L226.1,227.8 L226.4,228.3 L226.7,230.8 L226.9,232.3 L227.2,230.5 L227.4,229.6 L227.7,224.6 L228.0,221.2 L228.2,218.5 L228.5,216.7 L228.7,220.2 L229.0,222.2 L229.3,223.2 L229.5,221.1 L229.8,222.8 L230.0,219.5 L230.3,224.4 L230.6,231.5 L230.8,234.2 L231.1,237.4 L231.3,239.2 L231.6,237.9 L231.9,237.1 L232.1,235.5 L232.4,231.9 L232.6,223.8 L232.9,223.4 L233.2,222.1 L233.4,223.1 L233.7,228.5 L233.9,226.9 L234.2,229.4 L234.5,229.0 L234.7,232.6 L235.0,231.1 L235.2,229.2 L235.5,233.5 L235.8,232.0 L236.0,236.8 L236.3,238.6 L236.5,237.0 L236.8,231.6 L237.1,229.6 L237.3,222.4 L237.6,220.4 L237.8,221.5 L238.1,215.3 L238.4,220.0 L238.6,219.0 L238.9,217.6 L239.1,220.2 L239.4,221.4 L239.7,221.0 L239.9,222.0 L240.2,225.9 L240.4,225.5 L240.7,225.2 L241.0,220.5 L241.2,216.8 L241.5,216.5 L241.7,216.2 L242.0,218.0 L242.3,222.9 L242.5,222.8 L242.8,228.0 L243.0,233.8 L243.3,231.4 L243.6,231.5 L243.8,227.5 L244.1,224.2 L244.3,219.3 L244.6,217.6 L244.9,216.4 L245.1,216.9 L245.4,215.4 L245.6,214.3 L245.9,217.0 L246.1,218.2 L246.4,221.4 L246.7,222.6 L246.9,222.6 L247.2,219.6 L247.4,224.6 L247.7,227.9 L248.0,225.9 L248.2,230.3 L248.5,228.2 L248.7,228.6 L249.0,232.1 L249.3,235.6 L249.5,237.3 L249.8,236.9 L250.0,235.0 L250.3,228.4 L250.6,224.9 L250.8,225.2 L251.1,225.3 L251.3,222.5 L251.6,222.8 L251.9,222.2 L252.1,222.3 L252.4,223.8 L252.6,223.6 L252.9,224.0 L253.2,223.9 L253.4,227.3 L253.7,230.9 L253.9,228.0 L254.2,232.9 L254.5,232.5 L254.7,233.5 L255.0,237.8 L255.2,232.3 L255.5,235.7" fill="none" stroke="#00ffff" stroke-width="1.5999999999999999" stroke-dasharray="3.4 0.9 1.1 0.9" stroke-linejoin="round" />
<rect x="47.7" y="175.9" width="207.8" height="105.8" fill="none" stroke="#3a3a3a" stroke-width="1"/>
<line x1="47.7" y1="281.75" x2="47.7" y2="279.55" stroke="#3a3a3a" stroke-width="0.8"/>
<line x1="47.7" y1="175.9" x2="47.7" y2="178.1" stroke="#3a3a3a" stroke-width="0.8"/>
<text x="47.7" y="297.9" text-anchor="middle" class="tk">0</text>
<line x1="99.7" y1="281.75" x2="99.7" y2="279.55" stroke="#3a3a3a" stroke-width="0.8"/>
<line x1="99.7" y1="175.9" x2="99.7" y2="178.1" stroke="#3a3a3a" stroke-width="0.8"/>
<text x="99.7" y="297.9" text-anchor="middle" class="tk">5</text>
<line x1="151.6" y1="281.75" x2="151.6" y2="279.55" stroke="#3a3a3a" stroke-width="0.8"/>
<line x1="151.6" y1="175.9" x2="151.6" y2="178.1" stroke="#3a3a3a" stroke-width="0.8"/>
<text x="151.6" y="297.9" text-anchor="middle" class="tk">10</text>
<line x1="203.6" y1="281.75" x2="203.6" y2="279.55" stroke="#3a3a3a" stroke-width="0.8"/>
<line x1="203.6" y1="175.9" x2="203.6" y2="178.1" stroke="#3a3a3a" stroke-width="0.8"/>
<text x="203.6" y="297.9" text-anchor="middle" class="tk">15</text>
<line x1="255.5" y1="281.75" x2="255.5" y2="279.55" stroke="#3a3a3a" stroke-width="0.8"/>
<line x1="255.5" y1="175.9" x2="255.5" y2="178.1" stroke="#3a3a3a" stroke-width="0.8"/>
<text x="255.5" y="297.9" text-anchor="middle" class="tk">20</text>
<line x1="47.7" y1="272.5" x2="49.900000000000006" y2="272.5" stroke="#3a3a3a" stroke-width="0.8"/>
<line x1="255.5" y1="272.5" x2="253.3" y2="272.5" stroke="#3a3a3a" stroke-width="0.8"/>
<text x="43.2" y="276.9" text-anchor="end" class="tk">-10</text>
<line x1="47.7" y1="249.5" x2="49.900000000000006" y2="249.5" stroke="#3a3a3a" stroke-width="0.8"/>
<line x1="255.5" y1="249.5" x2="253.3" y2="249.5" stroke="#3a3a3a" stroke-width="0.8"/>
<text x="43.2" y="253.9" text-anchor="end" class="tk">-5</text>
<line x1="47.7" y1="226.5" x2="49.900000000000006" y2="226.5" stroke="#3a3a3a" stroke-width="0.8"/>
<line x1="255.5" y1="226.5" x2="253.3" y2="226.5" stroke="#3a3a3a" stroke-width="0.8"/>
<text x="43.2" y="230.9" text-anchor="end" class="tk">0</text>
<line x1="47.7" y1="203.5" x2="49.900000000000006" y2="203.5" stroke="#3a3a3a" stroke-width="0.8"/>
<line x1="255.5" y1="203.5" x2="253.3" y2="203.5" stroke="#3a3a3a" stroke-width="0.8"/>
<text x="43.2" y="207.9" text-anchor="end" class="tk">5</text>
<line x1="47.7" y1="180.5" x2="49.900000000000006" y2="180.5" stroke="#3a3a3a" stroke-width="0.8"/>
<line x1="255.5" y1="180.5" x2="253.3" y2="180.5" stroke="#3a3a3a" stroke-width="0.8"/>
<text x="43.2" y="184.9" text-anchor="end" class="tk">10</text>
<rect x="48.7" y="265.1" width="189.9" height="15.8" fill="#ffffff" stroke="#3a3a3a" stroke-width="1"/>
<line x1="52.5" y1="273.2" x2="72.3" y2="273.2" stroke="#ff0000" stroke-width="1.4" stroke-dasharray="2.8 0.9 1.0 0.9"/>
<text x="74.3" y="277.4" class="lg">VC</text>
<line x1="94.3" y1="273.2" x2="113.5" y2="273.2" stroke="#0000ff" stroke-width="1.4" stroke-dasharray="4 1.7"/>
<text x="115.3" y="277.4" class="lg">FLC</text>
<line x1="139.9" y1="273.2" x2="159.6" y2="273.2" stroke="#000000" stroke-width="1.4"/>
<text x="161.5" y="277.4" class="lg">NAC</text>
<line x1="189.3" y1="273.2" x2="209.3" y2="273.2" stroke="#00ffff" stroke-width="1.5999999999999999" stroke-dasharray="3.4 0.9 1.1 0.9"/>
<text x="211.2" y="277.4" class="lg">GSPI</text>
<text x="151.6" y="312.4" text-anchor="middle" class="lb">Time (s)</text>
<text x="151.6" y="327.6" text-anchor="middle" class="lb">(c)</text>
<g transform="translate(16.4,292.5) rotate(-90)">
<text x="0.0" y="0.0" font-size="13.1px">Relative error of</text>
<text x="90.6" y="0.0" font-size="11.6px" font-style="italic">&#969;</text>
<text x="99.6" y="6.2" font-size="9.5px">m</text>
<text x="108.4" y="0.0" font-size="12px">(%)</text>
</g>
<clipPath id="clipd"><rect x="335.6" y="175.9" width="201.9" height="105.8"/></clipPath>
<line x1="386.1" y1="175.9" x2="386.1" y2="281.75" stroke="#e8e8e8" stroke-width="0.8"/>
<line x1="436.6" y1="175.9" x2="436.6" y2="281.75" stroke="#e8e8e8" stroke-width="0.8"/>
<line x1="487.0" y1="175.9" x2="487.0" y2="281.75" stroke="#e8e8e8" stroke-width="0.8"/>
<line x1="335.6" y1="272.9" x2="537.5" y2="272.9" stroke="#e8e8e8" stroke-width="0.8"/>
<line x1="335.6" y1="228.8" x2="537.5" y2="228.8" stroke="#e8e8e8" stroke-width="0.8"/>
<line x1="335.6" y1="184.7" x2="537.5" y2="184.7" stroke="#e8e8e8" stroke-width="0.8"/>
<path clip-path="url(#clipd)" d="M335.6,213.3 L335.8,213.6 L336.0,213.9 L336.2,214.3 L336.4,214.8 L336.6,215.3 L336.8,215.9 L337.0,216.4 L337.2,216.9 L337.4,217.5 L337.6,218.1 L337.8,218.7 L338.0,219.2 L338.2,219.8 L338.4,220.4 L338.6,221.0 L338.8,221.7 L339.0,222.3 L339.2,222.9 L339.4,223.6 L339.6,224.2 L339.8,224.9 L340.0,225.5 L340.2,226.2 L340.4,226.8 L340.6,227.5 L340.8,228.1 L341.1,228.7 L341.3,229.3 L341.5,229.8 L341.7,230.3 L341.9,230.7 L342.1,231.1 L342.3,231.4 L342.5,231.6 L342.7,231.8 L342.9,232.0 L343.1,232.2 L343.3,232.5 L343.5,233.1 L343.7,233.9 L343.9,234.9 L344.1,235.9 L344.3,236.6 L344.5,237.2 L344.7,237.5 L344.9,237.5 L345.1,237.4 L345.3,236.9 L345.5,236.2 L345.7,235.1 L345.9,233.9 L346.1,233.0 L346.3,232.4 L346.5,231.9 L346.7,231.7 L346.9,231.5 L347.1,231.5 L347.3,231.6 L347.5,231.8 L347.7,232.1 L347.9,232.3 L348.1,232.6 L348.3,232.8 L348.5,233.0 L348.7,233.2 L348.9,233.4 L349.1,233.6 L349.3,233.8 L349.5,234.0 L349.7,234.3 L349.9,234.5 L350.1,234.8 L350.3,235.1 L350.5,235.4 L350.7,235.7 L350.9,236.1 L351.1,236.4 L351.3,236.7 L351.6,237.1 L351.8,237.5 L352.0,237.9 L352.2,238.3 L352.4,238.7 L352.6,239.2 L352.8,239.8 L353.0,240.4 L353.2,241.2 L353.4,242.0 L353.6,243.1 L353.8,244.3 L354.0,245.7 L354.2,247.0 L354.4,248.0 L354.6,248.5 L354.8,248.5 L355.0,248.2 L355.2,247.5 L355.4,246.5 L355.6,245.2 L355.8,243.5 L356.0,242.0 L356.2,240.8 L356.4,240.0 L356.6,239.7 L356.8,239.7 L357.0,239.9 L357.2,240.5 L357.4,241.3 L357.6,242.2 L357.8,243.2 L358.0,244.2 L358.2,245.0 L358.4,245.6 L358.6,246.0 L358.8,246.2 L359.0,246.2 L359.2,246.1 L359.4,245.9 L359.6,245.7 L359.8,245.6 L360.0,245.6 L360.2,245.6 L360.4,245.8 L360.6,245.9 L360.8,246.1 L361.0,246.2 L361.2,246.1 L361.4,245.9 L361.6,245.4 L361.8,244.8 L362.0,244.1 L362.3,243.6 L362.5,243.1 L362.7,242.8 L362.9,242.6 L363.1,242.5 L363.3,242.5 L363.5,242.6 L363.7,242.8 L363.9,242.9 L364.1,243.0 L364.3,242.9 L364.5,242.7 L364.7,242.3 L364.9,241.8 L365.1,241.1 L365.3,240.4 L365.5,239.6 L365.7,238.7 L365.9,237.7 L366.1,236.7 L366.3,235.5 L366.5,234.5 L366.7,233.6 L366.9,232.9 L367.1,232.4 L367.3,232.0 L367.5,231.9 L367.7,232.0 L367.9,232.3 L368.1,232.9 L368.3,233.6 L368.5,234.3 L368.7,235.2 L368.9,236.1 L369.1,237.1 L369.3,238.1 L369.5,239.1 L369.7,240.0 L369.9,240.8 L370.1,241.6 L370.3,242.3 L370.5,243.0 L370.7,243.6 L370.9,244.2 L371.1,244.8 L371.3,245.2 L371.5,245.6 L371.7,245.9 L371.9,246.4 L372.1,246.9 L372.3,247.6 L372.5,248.4 L372.7,249.2 L373.0,250.0 L373.2,251.0 L373.4,252.0 L373.6,253.2 L373.8,254.1 L374.0,254.8 L374.2,255.3 L374.4,255.6 L374.6,255.7 L374.8,255.7 L375.0,255.4 L375.2,254.9 L375.4,254.2 L375.6,253.5 L375.8,252.7 L376.0,251.8 L376.2,250.9 L376.4,249.9 L376.6,248.9 L376.8,248.0 L377.0,247.1 L377.2,246.2 L377.4,245.3 L377.6,244.4 L377.8,243.4 L378.0,242.4 L378.2,241.4 L378.4,240.4 L378.6,239.4 L378.8,238.5 L379.0,237.6 L379.2,236.8 L379.4,236.0 L379.6,235.2 L379.8,234.6 L380.0,234.1 L380.2,233.6 L380.4,233.3 L380.6,233.0 L380.8,232.7 L381.0,232.6 L381.2,232.7 L381.4,232.9 L381.6,233.3 L381.8,233.8 L382.0,234.5 L382.2,235.4 L382.4,236.0 L382.6,236.3 L382.8,236.2 L383.0,235.8 L383.2,235.1 L383.5,233.9 L383.7,232.4 L383.9,230.4 L384.1,227.9 L384.3,225.4 L384.5,222.8 L384.7,220.5 L384.9,218.4 L385.1,216.5 L385.3,214.9 L385.5,213.6 L385.7,212.7 L385.9,212.2 L386.1,212.0 L386.3,211.9 L386.5,211.7 L386.7,211.5 L386.9,211.3 L387.1,211.0 L387.3,210.7 L387.5,210.2 L387.7,209.6 L387.9,209.0 L388.1,208.5 L388.3,208.1 L388.5,207.6 L388.7,207.0 L388.9,206.4 L389.1,205.7 L389.3,205.1 L389.5,204.5 L389.7,203.9 L389.9,203.4 L390.1,203.1 L390.3,202.9 L390.5,202.7 L390.7,202.7 L390.9,202.7 L391.1,202.7 L391.3,202.7 L391.5,202.7 L391.7,202.7 L391.9,202.8 L392.1,202.9 L392.3,203.2 L392.5,203.5 L392.7,204.0 L392.9,204.6 L393.1,205.4 L393.3,206.4 L393.5,207.5 L393.7,208.6 L393.9,209.8 L394.2,211.1 L394.4,212.4 L394.6,213.7 L394.8,214.9 L395.0,216.1 L395.2,217.1 L395.4,218.0 L395.6,218.9 L395.8,219.5 L396.0,220.0 L396.2,220.3 L396.4,220.3 L396.6,220.2 L396.8,220.0 L397.0,219.7 L397.2,219.3 L397.4,218.8 L397.6,218.3 L397.8,217.9 L398.0,217.3 L398.2,216.7 L398.4,215.9 L398.6,214.9 L398.8,213.8 L399.0,212.4 L399.2,210.8 L399.4,208.9 L399.6,207.2 L399.8,205.8 L400.0,204.8 L400.2,204.2 L400.4,203.8 L400.6,203.7 L400.8,203.9 L401.0,204.4 L401.2,205.0 L401.4,205.4 L401.6,205.3 L401.8,204.9 L402.0,204.1 L402.2,203.1 L402.4,202.0 L402.6,200.6 L402.8,199.0 L403.0,197.4 L403.2,195.9 L403.4,194.5 L403.6,193.2 L403.8,192.0 L404.0,190.8 L404.2,189.7 L404.4,188.6 L404.6,187.6 L404.9,186.6 L405.1,185.7 L405.3,184.7 L405.5,183.8 L405.7,183.2 L405.9,182.8 L406.1,182.7 L406.3,182.8 L406.5,183.2 L406.7,183.8 L406.9,184.6 L407.1,185.7 L407.3,187.0 L407.5,188.1 L407.7,189.0 L407.9,189.7 L408.1,190.0 L408.3,190.2 L408.5,190.1 L408.7,190.0 L408.9,190.1 L409.1,190.2 L409.3,190.5 L409.5,191.2 L409.7,192.1 L409.9,193.2 L410.1,194.7 L410.3,196.5 L410.5,198.4 L410.7,200.5 L410.9,202.7 L411.1,204.4 L411.3,205.7 L411.5,206.6 L411.7,207.0 L411.9,207.0 L412.1,206.5 L412.3,205.3 L412.5,203.5 L412.7,201.0 L412.9,199.0 L413.1,197.6 L413.3,196.6 L413.5,196.2 L413.7,196.3 L413.9,196.8 L414.1,197.8 L414.3,199.1 L414.5,200.9 L414.7,202.6 L414.9,204.3 L415.1,206.0 L415.4,207.7 L415.6,209.5 L415.8,211.4 L416.0,212.9 L416.2,213.9 L416.4,214.3 L416.6,214.2 L416.8,213.8 L417.0,213.5 L417.2,213.3 L417.4,213.1 L417.6,213.0 L417.8,213.2 L418.0,214.0 L418.2,215.4 L418.4,217.4 L418.6,219.5 L418.8,221.3 L419.0,222.8 L419.2,223.9 L419.4,224.8 L419.6,225.6 L419.8,226.3 L420.0,226.8 L420.2,227.3 L420.4,227.6 L420.6,228.0 L420.8,228.6 L421.0,229.5 L421.2,230.7 L421.4,232.1 L421.6,233.5 L421.8,235.0 L422.0,236.5 L422.2,238.0 L422.4,239.5 L422.6,240.9 L422.8,242.1 L423.0,243.0 L423.2,243.7 L423.4,244.4 L423.6,245.1 L423.8,245.7 L424.0,246.3 L424.2,246.8 L424.4,247.2 L424.6,247.7 L424.8,248.1 L425.0,248.5 L425.2,248.8 L425.4,249.2 L425.6,249.5 L425.8,249.8 L426.1,250.1 L426.3,250.4 L426.5,250.8 L426.7,251.1 L426.9,251.4 L427.1,251.8 L427.3,252.1 L427.5,252.5 L427.7,252.9 L427.9,253.1 L428.1,253.2 L428.3,253.1 L428.5,252.9 L428.7,252.5 L428.9,251.9 L429.1,251.1 L429.3,250.2 L429.5,249.0 L429.7,248.0 L429.9,247.0 L430.1,246.1 L430.3,245.2 L430.5,244.6 L430.7,244.0 L430.9,243.8 L431.1,243.8 L431.3,244.0 L431.5,244.4 L431.7,244.9 L431.9,245.4 L432.1,245.8 L432.3,246.0 L432.5,246.1 L432.7,246.0 L432.9,245.7 L433.1,245.4 L433.3,245.0 L433.5,244.5 L433.7,244.2 L433.9,244.1 L434.1,244.0 L434.3,244.0 L434.5,244.0 L434.7,244.0 L434.9,243.9 L435.1,243.7 L435.3,243.4 L435.5,243.1 L435.7,242.7 L435.9,242.4 L436.1,242.1 L436.3,241.8 L436.6,241.5 L436.8,241.3 L437.0,241.1 L437.2,240.8 L437.4,240.4 L437.6,240.0 L437.8,239.5 L438.0,238.8 L438.2,238.2 L438.4,237.4 L438.6,236.6 L438.8,235.6 L439.0,234.5 L439.2,233.4 L439.4,232.1 L439.6,230.9 L439.8,229.9 L440.0,229.4 L440.2,229.2 L440.4,229.4 L440.6,229.9 L440.8,230.3 L441.0,230.8 L441.2,231.4 L441.4,231.9 L441.6,232.2 L441.8,232.2 L442.0,232.0 L442.2,231.6 L442.4,231.3 L442.6,231.1 L442.8,231.1 L443.0,231.3 L443.2,231.7 L443.4,232.3 L443.6,232.8 L443.8,233.4 L444.0,234.0 L444.2,234.6 L444.4,235.2 L444.6,235.8 L444.8,236.4 L445.0,237.0 L445.2,237.5 L445.4,238.1 L445.6,238.7 L445.8,239.2 L446.0,239.7 L446.2,240.1 L446.4,240.3 L446.6,240.5 L446.8,240.6 L447.0,240.6 L447.3,240.5 L447.5,240.3 L447.7,239.9 L447.9,239.5 L448.1,239.1 L448.3,238.7 L448.5,238.4 L448.7,238.1 L448.9,237.9 L449.1,237.8 L449.3,237.8 L449.5,237.9 L449.7,238.1 L449.9,238.4 L450.1,238.7 L450.3,239.1 L450.5,239.5 L450.7,240.1 L450.9,240.7 L451.1,241.3 L451.3,241.6 L451.5,241.7 L451.7,241.6 L451.9,241.3 L452.1,240.9 L452.3,240.5 L452.5,240.0 L452.7,239.5 L452.9,239.0 L453.1,238.5 L453.3,238.1 L453.5,237.8 L453.7,238.0 L453.9,238.4 L454.1,239.1 L454.3,240.1 L454.5,240.8 L454.7,241.2 L454.9,241.5 L455.1,241.6 L455.3,241.8 L455.5,241.8 L455.7,241.5 L455.9,240.9 L456.1,240.1 L456.3,239.6 L456.5,239.6 L456.7,239.9 L456.9,240.7 L457.1,241.7 L457.3,242.8 L457.5,244.1 L457.7,245.6 L458.0,247.2 L458.2,248.8 L458.4,250.4 L458.6,252.1 L458.8,253.7 L459.0,255.3 L459.2,256.7 L459.4,258.0 L459.6,259.2 L459.8,260.2 L460.0,261.0 L460.2,261.7 L460.4,262.1 L460.6,262.4 L460.8,262.4 L461.0,262.2 L461.2,261.9 L461.4,261.5 L461.6,260.9 L461.8,260.4 L462.0,259.9 L462.2,259.6 L462.4,259.4 L462.6,259.4 L462.8,259.6 L463.0,259.9 L463.2,260.4 L463.4,261.0 L463.6,261.6 L463.8,262.2 L464.0,262.7 L464.2,263.2 L464.4,263.7 L464.6,264.1 L464.8,264.5 L465.0,264.9 L465.2,265.2 L465.4,265.5 L465.6,265.8 L465.8,266.0 L466.0,266.2 L466.2,266.2 L466.4,266.2 L466.6,266.2 L466.8,266.1 L467.0,265.9 L467.2,265.6 L467.4,265.3 L467.6,265.1 L467.8,264.8 L468.0,264.5 L468.2,264.2 L468.5,264.0 L468.7,263.7 L468.9,263.5 L469.1,263.4 L469.3,263.2 L469.5,263.0 L469.7,262.9 L469.9,262.9 L470.1,263.1 L470.3,263.4 L470.5,263.8 L470.7,264.3 L470.9,265.0 L471.1,265.7 L471.3,266.6 L471.5,267.5 L471.7,268.4 L471.9,269.2 L472.1,269.8 L472.3,270.2 L472.5,270.6 L472.7,270.8 L472.9,270.9 L473.1,270.9 L473.3,270.9 L473.5,270.8 L473.7,270.9 L473.9,271.0 L474.1,271.3 L474.3,271.5 L474.5,271.9 L474.7,272.4 L474.9,272.9 L475.1,273.4 L475.3,274.0 L475.5,274.5 L475.7,275.1 L475.9,275.6 L476.1,276.2 L476.3,276.7 L476.5,277.3 L476.7,277.7 L476.9,278.0 L477.1,278.1 L477.3,278.2 L477.5,278.1 L477.7,277.9 L477.9,277.6 L478.1,277.2 L478.3,276.6 L478.5,276.0 L478.7,275.4 L478.9,274.7 L479.2,274.2 L479.4,273.7 L479.6,273.5 L479.8,273.4 L480.0,273.4 L480.2,273.6 L480.4,274.0 L480.6,274.4 L480.8,274.9 L481.0,275.3 L481.2,275.6 L481.4,275.8 L481.6,275.9 L481.8,275.9 L482.0,275.8 L482.2,275.6 L482.4,275.4 L482.6,275.3 L482.8,275.1 L483.0,275.0 L483.2,274.9 L483.4,274.8 L483.6,274.7 L483.8,274.6 L484.0,274.4 L484.2,274.2 L484.4,273.9 L484.6,273.6 L484.8,273.2 L485.0,272.8 L485.2,272.3 L485.4,271.9 L485.6,271.7 L485.8,271.6 L486.0,271.6 L486.2,271.8 L486.4,272.0 L486.6,272.1 L486.8,272.2 L487.0,272.1 L487.2,271.8 L487.4,271.3 L487.6,270.6 L487.8,269.7 L488.0,268.8 L488.2,267.7 L488.4,266.8 L488.6,265.9 L488.8,265.1 L489.0,264.4 L489.2,263.7 L489.4,263.1 L489.6,262.5 L489.9,262.0 L490.1,261.7 L490.3,261.5 L490.5,261.4 L490.7,261.5 L490.9,261.7 L491.1,261.8 L491.3,261.8 L491.5,261.9 L491.7,261.7 L491.9,261.4 L492.1,261.1 L492.3,260.7 L492.5,260.2 L492.7,259.9 L492.9,259.7 L493.1,259.6 L493.3,259.6 L493.5,259.5 L493.7,259.4 L493.9,259.2 L494.1,258.8 L494.3,258.3 L494.5,257.7 L494.7,257.0 L494.9,256.3 L495.1,255.7 L495.3,255.3 L495.5,254.9 L495.7,254.7 L495.9,254.5 L496.1,254.4 L496.3,254.3 L496.5,254.2 L496.7,253.9 L496.9,253.7 L497.1,253.3 L497.3,252.9 L497.5,252.7 L497.7,252.6 L497.9,252.6 L498.1,252.9 L498.3,253.2 L498.5,253.8 L498.7,254.4 L498.9,255.3 L499.1,256.2 L499.3,257.2 L499.5,258.2 L499.7,259.1 L499.9,260.0 L500.1,260.9 L500.4,261.8 L500.6,262.7 L500.8,263.5 L501.0,264.1 L501.2,264.7 L501.4,265.3 L501.6,265.7 L501.8,266.0 L502.0,266.2 L502.2,266.3 L502.4,266.2 L502.6,266.1 L502.8,265.9 L503.0,265.6 L503.2,265.1 L503.4,264.6 L503.6,264.0 L503.8,263.3 L504.0,262.4 L504.2,261.3 L504.4,260.1 L504.6,258.8 L504.8,257.5 L505.0,256.2 L505.2,254.8 L505.4,253.5 L505.6,252.3 L505.8,251.5 L506.0,251.1 L506.2,251.0 L506.4,251.1 L506.6,251.4 L506.8,251.7 L507.0,252.2 L507.2,252.9 L507.4,253.4 L507.6,253.8 L507.8,254.0 L508.0,254.0 L508.2,253.8 L508.4,253.3 L508.6,252.7 L508.8,252.0 L509.0,251.3 L509.2,250.5 L509.4,249.7 L509.6,248.9 L509.8,248.3 L510.0,247.9 L510.2,247.6 L510.4,247.5 L510.6,247.5 L510.8,247.6 L511.1,247.8 L511.3,248.1 L511.5,248.5 L511.7,249.0 L511.9,249.5 L512.1,250.2 L512.3,250.8 L512.5,251.3 L512.7,251.5 L512.9,251.5 L513.1,251.3 L513.3,250.7 L513.5,249.9 L513.7,248.9 L513.9,247.6 L514.1,246.0 L514.3,244.5 L514.5,243.0 L514.7,241.4 L514.9,240.3 L515.1,239.4 L515.3,238.8 L515.5,238.5 L515.7,238.5 L515.9,238.7 L516.1,239.0 L516.3,239.3 L516.5,239.7 L516.7,239.8 L516.9,239.8 L517.1,239.5 L517.3,239.0 L517.5,238.2 L517.7,237.4 L517.9,236.6 L518.1,235.8 L518.3,235.0 L518.5,234.5 L518.7,234.0 L518.9,233.7 L519.1,233.5 L519.3,233.5 L519.5,233.6 L519.7,233.9 L519.9,234.4 L520.1,234.9 L520.3,235.4 L520.5,235.9 L520.7,236.5 L520.9,237.1 L521.1,237.7 L521.3,238.3 L521.5,238.9 L521.8,239.5 L522.0,240.1 L522.2,240.7 L522.4,241.4 L522.6,242.0 L522.8,242.6 L523.0,243.2 L523.2,243.8 L523.4,244.4 L523.6,245.0 L523.8,245.6 L524.0,246.2 L524.2,246.8 L524.4,247.4 L524.6,248.0 L524.8,248.6 L525.0,249.2 L525.2,249.7 L525.4,250.3 L525.6,250.8 L525.8,251.3 L526.0,251.8 L526.2,252.3 L526.4,252.7 L526.6,253.2 L526.8,253.6 L527.0,254.1 L527.2,254.6 L527.4,255.1 L527.6,255.7 L527.8,256.2 L528.0,256.7 L528.2,257.1 L528.4,257.4 L528.6,257.6 L528.8,257.7 L529.0,257.7 L529.2,257.6 L529.4,257.4 L529.6,257.1 L529.8,256.8 L530.0,256.5 L530.2,256.3 L530.4,256.0 L530.6,255.7 L530.8,255.4 L531.0,255.0 L531.2,254.6 L531.4,254.3 L531.6,254.0 L531.8,253.7 L532.0,253.4 L532.3,253.3 L532.5,253.2 L532.7,253.1 L532.9,253.1 L533.1,253.1 L533.3,253.1 L533.5,253.0 L533.7,253.0 L533.9,252.9 L534.1,252.7 L534.3,252.6 L534.5,252.5 L534.7,252.3 L534.9,252.2 L535.1,252.1 L535.3,252.0 L535.5,251.8 L535.7,251.6 L535.9,251.3 L536.1,250.9 L536.3,250.5 L536.5,249.9 L536.7,249.0 L536.9,248.2 L537.1,247.4 L537.3,246.6 L537.5,246.0" fill="none" stroke="#ff0000" stroke-width="1.4" stroke-dasharray="2.8 0.9 1.0 0.9" stroke-linejoin="round" />
<path clip-path="url(#clipd)" d="M335.9,212.9 L336.1,213.2 L336.3,213.6 L336.5,214.0 L336.7,214.4 L336.9,215.0 L337.1,215.5 L337.3,216.0 L337.5,216.6 L337.7,217.2 L337.9,217.7 L338.1,218.3 L338.3,218.9 L338.5,219.5 L338.7,220.1 L338.9,220.7 L339.1,221.3 L339.3,221.9 L339.5,222.6 L339.7,223.2 L339.9,223.9 L340.1,224.5 L340.3,225.2 L340.5,225.8 L340.7,226.5 L341.0,227.1 L341.2,227.7 L341.4,228.4 L341.6,229.0 L341.8,229.5 L342.0,230.0 L342.2,230.4 L342.4,230.7 L342.6,231.0 L342.8,231.2 L343.0,231.4 L343.2,231.6 L343.4,231.8 L343.6,232.2 L343.8,232.7 L344.0,233.5 L344.2,234.5 L344.4,235.5 L344.6,236.3 L344.8,236.8 L345.0,237.1 L345.2,237.2 L345.4,237.1 L345.6,236.6 L345.8,235.8 L346.0,234.7 L346.2,233.6 L346.4,232.7 L346.6,232.0 L346.8,231.6 L347.0,231.3 L347.2,231.2 L347.4,231.2 L347.6,231.2 L347.8,231.4 L348.0,231.7 L348.2,232.0 L348.4,232.2 L348.6,232.4 L348.8,232.6 L349.0,232.8 L349.2,233.0 L349.4,233.2 L349.6,233.4 L349.8,233.7 L350.0,233.9 L350.2,234.2 L350.4,234.4 L350.6,234.7 L350.8,235.1 L351.0,235.4 L351.2,235.7 L351.4,236.0 L351.7,236.4 L351.9,236.8 L352.1,237.1 L352.3,237.5 L352.5,238.0 L352.7,238.4 L352.9,238.9 L353.1,239.4 L353.3,240.1 L353.5,240.8 L353.7,241.7 L353.9,242.7 L354.1,244.0 L354.3,245.3 L354.5,246.7 L354.7,247.6 L354.9,248.1 L355.1,248.2 L355.3,247.9 L355.5,247.2 L355.7,246.2 L355.9,244.8 L356.1,243.2 L356.3,241.6 L356.5,240.4 L356.7,239.7 L356.9,239.3 L357.1,239.3 L357.3,239.6 L357.5,240.1 L357.7,240.9 L357.9,241.9 L358.1,242.9 L358.3,243.8 L358.5,244.6 L358.7,245.2 L358.9,245.6 L359.1,245.8 L359.3,245.8 L359.5,245.7 L359.7,245.6 L359.9,245.4 L360.1,245.2 L360.3,245.2 L360.5,245.3 L360.7,245.4 L360.9,245.6 L361.1,245.8 L361.3,245.8 L361.5,245.8 L361.7,245.5 L361.9,245.1 L362.1,244.4 L362.4,243.8 L362.6,243.2 L362.8,242.8 L363.0,242.5 L363.2,242.3 L363.4,242.2 L363.6,242.2 L363.8,242.3 L364.0,242.4 L364.2,242.6 L364.4,242.6 L364.6,242.5 L364.8,242.3 L365.0,242.0 L365.2,241.4 L365.4,240.8 L365.6,240.1 L365.8,239.3 L366.0,238.4 L366.2,237.4 L366.4,236.3 L366.6,235.1 L366.8,234.1 L367.0,233.3 L367.2,232.6 L367.4,232.0 L367.6,231.7 L367.8,231.6 L368.0,231.6 L368.2,232.0 L368.4,232.6 L368.6,233.2 L368.8,234.0 L369.0,234.8 L369.2,235.7 L369.4,236.8 L369.6,237.8 L369.8,238.7 L370.0,239.6 L370.2,240.5 L370.4,241.3 L370.6,242.0 L370.8,242.7 L371.0,243.3 L371.2,243.9 L371.4,244.4 L371.6,244.9 L371.8,245.3 L372.0,245.6 L372.2,246.0 L372.4,246.6 L372.6,247.3 L372.9,248.0 L373.1,248.8 L373.3,249.7 L373.5,250.6 L373.7,251.7 L373.9,252.8 L374.1,253.8 L374.3,254.5 L374.5,255.0 L374.7,255.2 L374.9,255.4 L375.1,255.3 L375.3,255.0 L375.5,254.5 L375.7,253.9 L375.9,253.1 L376.1,252.3 L376.3,251.5 L376.5,250.5 L376.7,249.5 L376.9,248.6 L377.1,247.6 L377.3,246.7 L377.5,245.8 L377.7,244.9 L377.9,244.0 L378.1,243.1 L378.3,242.1 L378.5,241.1 L378.7,240.1 L378.9,239.1 L379.1,238.1 L379.3,237.2 L379.5,236.4 L379.7,235.6 L379.9,234.9 L380.1,234.2 L380.3,233.7 L380.5,233.3 L380.7,232.9 L380.9,232.6 L381.1,232.4 L381.3,232.3 L381.5,232.3 L381.7,232.6 L381.9,232.9 L382.1,233.5 L382.3,234.2 L382.5,235.0 L382.7,235.6 L382.9,235.9 L383.1,235.9 L383.3,235.5 L383.6,234.7 L383.8,233.6 L384.0,232.0 L384.2,230.0 L384.4,227.5 L384.6,225.0 L384.8,222.5 L385.0,220.2 L385.2,218.1 L385.4,216.2 L385.6,214.5 L385.8,213.3 L386.0,212.4 L386.2,211.9 L386.4,211.7 L386.6,211.6 L386.8,211.4 L387.0,211.1 L387.2,210.9 L387.4,210.7 L387.6,210.3 L387.8,209.8 L388.0,209.2 L388.2,208.7 L388.4,208.2 L388.6,207.7 L388.8,207.2 L389.0,206.7 L389.2,206.1 L389.4,205.4 L389.6,204.7 L389.8,204.1 L390.0,203.6 L390.2,203.1 L390.4,202.8 L390.6,202.5 L390.8,202.4 L391.0,202.3 L391.2,202.3 L391.4,202.3 L391.6,202.3 L391.8,202.3 L392.0,202.3 L392.2,202.4 L392.4,202.6 L392.6,202.8 L392.8,203.1 L393.0,203.6 L393.2,204.3 L393.4,205.1 L393.6,206.1 L393.8,207.1 L394.1,208.3 L394.3,209.5 L394.5,210.7 L394.7,212.1 L394.9,213.4 L395.1,214.6 L395.3,215.7 L395.5,216.7 L395.7,217.6 L395.9,218.5 L396.1,219.2 L396.3,219.7 L396.5,219.9 L396.7,220.0 L396.9,219.9 L397.1,219.7 L397.3,219.4 L397.5,219.0 L397.7,218.5 L397.9,218.0 L398.1,217.5 L398.3,217.0 L398.5,216.3 L398.7,215.5 L398.9,214.6 L399.1,213.4 L399.3,212.0 L399.5,210.4 L399.7,208.6 L399.9,206.8 L400.1,205.5 L400.3,204.5 L400.5,203.8 L400.7,203.4 L400.9,203.3 L401.1,203.5 L401.3,204.0 L401.5,204.7 L401.7,205.0 L401.9,205.0 L402.1,204.5 L402.3,203.8 L402.5,202.8 L402.7,201.6 L402.9,200.2 L403.1,198.7 L403.3,197.1 L403.5,195.6 L403.7,194.2 L403.9,192.9 L404.1,191.7 L404.3,190.5 L404.5,189.3 L404.8,188.3 L405.0,187.2 L405.2,186.3 L405.4,185.3 L405.6,184.4 L405.8,183.5 L406.0,182.8 L406.2,182.4 L406.4,182.3 L406.6,182.4 L406.8,182.8 L407.0,183.4 L407.2,184.2 L407.4,185.3 L407.6,186.6 L407.8,187.8 L408.0,188.7 L408.2,189.3 L408.4,189.7 L408.6,189.8 L408.8,189.7 L409.0,189.7 L409.2,189.7 L409.4,189.9 L409.6,190.2 L409.8,190.8 L410.0,191.7 L410.2,192.9 L410.4,194.4 L410.6,196.1 L410.8,198.0 L411.0,200.1 L411.2,202.3 L411.4,204.0 L411.6,205.3 L411.8,206.2 L412.0,206.7 L412.2,206.6 L412.4,206.1 L412.6,205.0 L412.8,203.1 L413.0,200.7 L413.2,198.7 L413.4,197.2 L413.6,196.3 L413.8,195.9 L414.0,196.0 L414.2,196.5 L414.4,197.4 L414.6,198.8 L414.8,200.6 L415.0,202.3 L415.2,204.0 L415.5,205.7 L415.7,207.4 L415.9,209.1 L416.1,211.0 L416.3,212.5 L416.5,213.5 L416.7,214.0 L416.9,213.9 L417.1,213.5 L417.3,213.2 L417.5,212.9 L417.7,212.8 L417.9,212.6 L418.1,212.9 L418.3,213.7 L418.5,215.1 L418.7,217.1 L418.9,219.2 L419.1,221.0 L419.3,222.4 L419.5,223.6 L419.7,224.5 L419.9,225.3 L420.1,225.9 L420.3,226.5 L420.5,226.9 L420.7,227.3 L420.9,227.7 L421.1,228.3 L421.3,229.2 L421.5,230.3 L421.7,231.7 L421.9,233.2 L422.1,234.6 L422.3,236.1 L422.5,237.6 L422.7,239.1 L422.9,240.6 L423.1,241.7 L423.3,242.7 L423.5,243.4 L423.7,244.1 L423.9,244.7 L424.1,245.3 L424.3,245.9 L424.5,246.4 L424.7,246.9 L424.9,247.3 L425.1,247.7 L425.3,248.1 L425.5,248.5 L425.7,248.8 L426.0,249.1 L426.2,249.4 L426.4,249.8 L426.6,250.1 L426.8,250.4 L427.0,250.7 L427.2,251.1 L427.4,251.4 L427.6,251.8 L427.8,252.2 L428.0,252.5 L428.2,252.7 L428.4,252.8 L428.6,252.7 L428.8,252.5 L429.0,252.1 L429.2,251.5 L429.4,250.8 L429.6,249.8 L429.8,248.7 L430.0,247.6 L430.2,246.6 L430.4,245.7 L430.6,244.9 L430.8,244.2 L431.0,243.7 L431.2,243.4 L431.4,243.4 L431.6,243.6 L431.8,244.1 L432.0,244.6 L432.2,245.1 L432.4,245.4 L432.6,245.7 L432.8,245.8 L433.0,245.7 L433.2,245.4 L433.4,245.0 L433.6,244.6 L433.8,244.2 L434.0,243.9 L434.2,243.7 L434.4,243.7 L434.6,243.6 L434.8,243.7 L435.0,243.7 L435.2,243.5 L435.4,243.3 L435.6,243.1 L435.8,242.7 L436.0,242.3 L436.2,242.0 L436.4,241.7 L436.7,241.4 L436.9,241.2 L437.1,241.0 L437.3,240.7 L437.5,240.4 L437.7,240.1 L437.9,239.6 L438.1,239.1 L438.3,238.5 L438.5,237.8 L438.7,237.1 L438.9,236.2 L439.1,235.2 L439.3,234.2 L439.5,233.0 L439.7,231.8 L439.9,230.5 L440.1,229.6 L440.3,229.0 L440.5,228.8 L440.7,229.1 L440.9,229.5 L441.1,230.0 L441.3,230.5 L441.5,231.0 L441.7,231.6 L441.9,231.8 L442.1,231.8 L442.3,231.7 L442.5,231.3 L442.7,230.9 L442.9,230.8 L443.1,230.8 L443.3,231.0 L443.5,231.4 L443.7,231.9 L443.9,232.5 L444.1,233.0 L444.3,233.6 L444.5,234.2 L444.7,234.8 L444.9,235.4 L445.1,236.0 L445.3,236.6 L445.5,237.2 L445.7,237.7 L445.9,238.3 L446.1,238.8 L446.3,239.3 L446.5,239.7 L446.7,240.0 L446.9,240.2 L447.1,240.2 L447.4,240.2 L447.6,240.1 L447.8,239.9 L448.0,239.6 L448.2,239.2 L448.4,238.7 L448.6,238.4 L448.8,238.1 L449.0,237.8 L449.2,237.6 L449.4,237.5 L449.6,237.4 L449.8,237.5 L450.0,237.7 L450.2,238.0 L450.4,238.3 L450.6,238.7 L450.8,239.2 L451.0,239.7 L451.2,240.3 L451.4,240.9 L451.6,241.3 L451.8,241.4 L452.0,241.3 L452.2,240.9 L452.4,240.5 L452.6,240.1 L452.8,239.7 L453.0,239.2 L453.2,238.6 L453.4,238.2 L453.6,237.8 L453.8,237.5 L454.0,237.6 L454.2,238.1 L454.4,238.8 L454.6,239.7 L454.8,240.4 L455.0,240.9 L455.2,241.1 L455.4,241.3 L455.6,241.5 L455.8,241.5 L456.0,241.1 L456.2,240.5 L456.4,239.7 L456.6,239.3 L456.8,239.2 L457.0,239.6 L457.2,240.3 L457.4,241.3 L457.6,242.5 L457.9,243.8 L458.1,245.2 L458.3,246.8 L458.5,248.4 L458.7,250.1 L458.9,251.8 L459.1,253.4 L459.3,254.9 L459.5,256.4 L459.7,257.7 L459.9,258.8 L460.1,259.8 L460.3,260.7 L460.5,261.4 L460.7,261.8 L460.9,262.0 L461.1,262.0 L461.3,261.9 L461.5,261.6 L461.7,261.1 L461.9,260.6 L462.1,260.0 L462.3,259.5 L462.5,259.2 L462.7,259.1 L462.9,259.1 L463.1,259.3 L463.3,259.6 L463.5,260.1 L463.7,260.7 L463.9,261.3 L464.1,261.8 L464.3,262.4 L464.5,262.9 L464.7,263.3 L464.9,263.8 L465.1,264.2 L465.3,264.5 L465.5,264.9 L465.7,265.2 L465.9,265.5 L466.1,265.7 L466.3,265.8 L466.5,265.9 L466.7,265.9 L466.9,265.8 L467.1,265.7 L467.3,265.5 L467.5,265.3 L467.7,265.0 L467.9,264.7 L468.1,264.4 L468.3,264.1 L468.6,263.9 L468.8,263.6 L469.0,263.4 L469.2,263.2 L469.4,263.0 L469.6,262.8 L469.8,262.7 L470.0,262.6 L470.2,262.6 L470.4,262.8 L470.6,263.0 L470.8,263.4 L471.0,264.0 L471.2,264.6 L471.4,265.4 L471.6,266.2 L471.8,267.2 L472.0,268.1 L472.2,268.8 L472.4,269.4 L472.6,269.9 L472.8,270.2 L473.0,270.4 L473.2,270.5 L473.4,270.5 L473.6,270.5 L473.8,270.5 L474.0,270.6 L474.2,270.7 L474.4,270.9 L474.6,271.2 L474.8,271.6 L475.0,272.1 L475.2,272.6 L475.4,273.1 L475.6,273.6 L475.8,274.2 L476.0,274.7 L476.2,275.3 L476.4,275.8 L476.6,276.4 L476.8,276.9 L477.0,277.3 L477.2,277.6 L477.4,277.8 L477.6,277.8 L477.8,277.8 L478.0,277.6 L478.2,277.3 L478.4,276.8 L478.6,276.2 L478.8,275.6 L479.0,275.0 L479.3,274.4 L479.5,273.8 L479.7,273.4 L479.9,273.1 L480.1,273.0 L480.3,273.1 L480.5,273.3 L480.7,273.6 L480.9,274.0 L481.1,274.5 L481.3,274.9 L481.5,275.2 L481.7,275.4 L481.9,275.5 L482.1,275.5 L482.3,275.4 L482.5,275.2 L482.7,275.1 L482.9,274.9 L483.1,274.8 L483.3,274.6 L483.5,274.5 L483.7,274.4 L483.9,274.4 L484.1,274.2 L484.3,274.1 L484.5,273.9 L484.7,273.6 L484.9,273.3 L485.1,272.9 L485.3,272.5 L485.5,272.0 L485.7,271.6 L485.9,271.3 L486.1,271.2 L486.3,271.2 L486.5,271.4 L486.7,271.7 L486.9,271.8 L487.1,271.8 L487.3,271.7 L487.5,271.5 L487.7,270.9 L487.9,270.2 L488.1,269.4 L488.3,268.4 L488.5,267.4 L488.7,266.4 L488.9,265.5 L489.1,264.7 L489.3,264.0 L489.5,263.4 L489.8,262.7 L490.0,262.1 L490.2,261.6 L490.4,261.3 L490.6,261.1 L490.8,261.1 L491.0,261.2 L491.2,261.3 L491.4,261.4 L491.6,261.5 L491.8,261.5 L492.0,261.3 L492.2,261.1 L492.4,260.7 L492.6,260.3 L492.8,259.9 L493.0,259.6 L493.2,259.3 L493.4,259.2 L493.6,259.2 L493.8,259.2 L494.0,259.1 L494.2,258.8 L494.4,258.5 L494.6,258.0 L494.8,257.3 L495.0,256.6 L495.2,256.0 L495.4,255.4 L495.6,254.9 L495.8,254.6 L496.0,254.3 L496.2,254.1 L496.4,254.0 L496.6,253.9 L496.8,253.8 L497.0,253.6 L497.2,253.3 L497.4,252.9 L497.6,252.6 L497.8,252.3 L498.0,252.2 L498.2,252.3 L498.4,252.5 L498.6,252.9 L498.8,253.4 L499.0,254.1 L499.2,254.9 L499.4,255.9 L499.6,256.8 L499.8,257.8 L500.0,258.7 L500.2,259.7 L500.5,260.6 L500.7,261.5 L500.9,262.3 L501.1,263.1 L501.3,263.8 L501.5,264.4 L501.7,264.9 L501.9,265.4 L502.1,265.7 L502.3,265.9 L502.5,265.9 L502.7,265.9 L502.9,265.7 L503.1,265.5 L503.3,265.2 L503.5,264.8 L503.7,264.2 L503.9,263.6 L504.1,263.0 L504.3,262.1 L504.5,261.0 L504.7,259.7 L504.9,258.4 L505.1,257.1 L505.3,255.8 L505.5,254.5 L505.7,253.1 L505.9,252.0 L506.1,251.2 L506.3,250.8 L506.5,250.7 L506.7,250.8 L506.9,251.0 L507.1,251.4 L507.3,251.9 L507.5,252.5 L507.7,253.0 L507.9,253.5 L508.1,253.7 L508.3,253.7 L508.5,253.4 L508.7,253.0 L508.9,252.4 L509.1,251.7 L509.3,250.9 L509.5,250.1 L509.7,249.3 L509.9,248.6 L510.1,248.0 L510.3,247.6 L510.5,247.3 L510.7,247.2 L511.0,247.2 L511.2,247.2 L511.4,247.4 L511.6,247.7 L511.8,248.1 L512.0,248.6 L512.2,249.2 L512.4,249.8 L512.6,250.5 L512.8,250.9 L513.0,251.2 L513.2,251.2 L513.4,250.9 L513.6,250.4 L513.8,249.6 L514.0,248.5 L514.2,247.2 L514.4,245.7 L514.6,244.1 L514.8,242.6 L515.0,241.1 L515.2,239.9 L515.4,239.0 L515.6,238.4 L515.8,238.2 L516.0,238.2 L516.2,238.4 L516.4,238.6 L516.6,238.9 L516.8,239.3 L517.0,239.5 L517.2,239.4 L517.4,239.1 L517.6,238.6 L517.8,237.9 L518.0,237.1 L518.2,236.2 L518.4,235.4 L518.6,234.7 L518.8,234.1 L519.0,233.7 L519.2,233.3 L519.4,233.2 L519.6,233.1 L519.8,233.3 L520.0,233.6 L520.2,234.0 L520.4,234.5 L520.6,235.0 L520.8,235.6 L521.0,236.1 L521.2,236.7 L521.4,237.3 L521.7,237.9 L521.9,238.6 L522.1,239.2 L522.3,239.8 L522.5,240.4 L522.7,241.0 L522.9,241.6 L523.1,242.2 L523.3,242.8 L523.5,243.4 L523.7,244.0 L523.9,244.6 L524.1,245.3 L524.3,245.9 L524.5,246.5 L524.7,247.1 L524.9,247.7 L525.1,248.3 L525.3,248.8 L525.5,249.4 L525.7,249.9 L525.9,250.5 L526.1,251.0 L526.3,251.5 L526.5,251.9 L526.7,252.4 L526.9,252.8 L527.1,253.3 L527.3,253.8 L527.5,254.3 L527.7,254.8 L527.9,255.3 L528.1,255.9 L528.3,256.4 L528.5,256.8 L528.7,257.1 L528.9,257.3 L529.1,257.4 L529.3,257.4 L529.5,257.2 L529.7,257.0 L529.9,256.7 L530.1,256.4 L530.3,256.2 L530.5,255.9 L530.7,255.6 L530.9,255.3 L531.1,255.0 L531.3,254.7 L531.5,254.3 L531.7,253.9 L531.9,253.6 L532.1,253.3 L532.4,253.1 L532.6,252.9 L532.8,252.8 L533.0,252.7 L533.2,252.7 L533.4,252.7 L533.6,252.7 L533.8,252.7 L534.0,252.6 L534.2,252.5 L534.4,252.4 L534.6,252.3 L534.8,252.1 L535.0,252.0 L535.2,251.8 L535.4,251.7 L535.6,251.6 L535.8,251.4 L536.0,251.2 L536.2,250.9 L536.4,250.6 L536.6,250.2 L536.8,249.5 L537.0,248.7 L537.2,247.8 L537.4,247.0 L537.6,246.3 L537.8,245.6" fill="none" stroke="#0000ff" stroke-width="1.4" stroke-dasharray="4 1.7" stroke-linejoin="round" />
<path clip-path="url(#clipd)" d="M335.6,211.8 L335.8,212.4 L336.0,213.0 L336.2,213.5 L336.4,214.1 L336.6,214.6 L336.8,215.1 L337.0,215.7 L337.2,216.2 L337.4,216.7 L337.6,217.3 L337.8,217.9 L338.0,218.5 L338.2,219.1 L338.4,219.7 L338.6,220.3 L338.8,220.9 L339.0,221.5 L339.2,222.2 L339.4,222.8 L339.6,223.5 L339.8,224.2 L340.0,224.8 L340.2,225.5 L340.4,226.2 L340.6,226.9 L340.8,227.5 L341.1,228.1 L341.3,228.6 L341.5,229.2 L341.7,229.9 L341.9,230.5 L342.1,231.1 L342.3,231.1 L342.5,231.1 L342.7,231.1 L342.9,231.2 L343.1,231.2 L343.3,231.2 L343.5,231.2 L343.7,231.7 L343.9,232.2 L344.1,233.5 L344.3,236.2 L344.5,238.9 L344.7,241.6 L344.9,241.1 L345.1,238.8 L345.3,236.6 L345.5,234.5 L345.7,233.0 L345.9,232.4 L346.1,231.8 L346.3,231.1 L346.5,230.3 L346.7,229.5 L346.9,229.9 L347.1,230.3 L347.3,230.7 L347.5,231.1 L347.7,231.5 L347.9,231.8 L348.1,232.1 L348.3,232.2 L348.5,232.4 L348.7,232.5 L348.9,232.6 L349.1,232.8 L349.3,232.9 L349.5,233.1 L349.7,233.4 L349.9,233.8 L350.1,234.1 L350.3,234.4 L350.5,234.7 L350.7,235.0 L350.9,235.3 L351.1,235.7 L351.3,236.0 L351.6,236.3 L351.8,236.6 L352.0,237.0 L352.2,237.5 L352.4,238.0 L352.6,238.4 L352.8,238.9 L353.0,239.3 L353.2,239.6 L353.4,240.4 L353.6,241.6 L353.8,242.7 L354.0,243.8 L354.2,245.7 L354.4,248.1 L354.6,250.6 L354.8,253.3 L355.0,253.4 L355.2,249.9 L355.4,246.5 L355.6,243.3 L355.8,240.4 L356.0,239.4 L356.2,238.3 L356.4,237.0 L356.6,236.4 L356.8,237.5 L357.0,238.5 L357.2,239.4 L357.4,240.2 L357.6,240.9 L357.8,242.2 L358.0,243.5 L358.2,244.8 L358.4,246.2 L358.6,247.7 L358.8,247.8 L359.0,246.7 L359.2,245.7 L359.4,244.7 L359.6,243.7 L359.8,242.9 L360.0,243.7 L360.2,244.5 L360.4,245.2 L360.6,246.0 L360.8,246.7 L361.0,246.5 L361.2,246.0 L361.4,245.6 L361.6,245.2 L361.8,244.9 L362.0,244.2 L362.3,242.9 L362.5,241.5 L362.7,240.0 L362.9,239.9 L363.1,240.7 L363.3,241.5 L363.5,242.3 L363.7,243.1 L363.9,243.6 L364.1,243.1 L364.3,242.6 L364.5,242.1 L364.7,241.7 L364.9,241.4 L365.1,241.1 L365.3,240.7 L365.5,239.5 L365.7,238.3 L365.9,237.2 L366.1,236.1 L366.3,235.0 L366.5,233.7 L366.7,232.3 L366.9,230.8 L367.1,229.2 L367.3,229.8 L367.5,230.4 L367.7,230.9 L367.9,231.3 L368.1,231.6 L368.3,232.3 L368.5,233.2 L368.7,234.1 L368.9,235.0 L369.1,235.9 L369.3,237.2 L369.5,238.6 L369.7,240.0 L369.9,241.4 L370.1,241.7 L370.3,242.0 L370.5,242.3 L370.7,242.6 L370.9,243.0 L371.1,243.6 L371.3,244.6 L371.5,245.7 L371.7,246.7 L371.9,246.6 L372.1,246.0 L372.3,245.4 L372.5,244.7 L372.7,246.7 L373.0,248.7 L373.2,250.8 L373.4,252.8 L373.6,253.8 L373.8,254.3 L374.0,254.9 L374.2,255.6 L374.4,256.0 L374.6,255.6 L374.8,255.4 L375.0,255.2 L375.2,255.1 L375.4,255.1 L375.6,253.7 L375.8,252.3 L376.0,250.8 L376.2,249.5 L376.4,248.8 L376.6,248.0 L376.8,247.3 L377.0,246.5 L377.2,245.8 L377.4,244.8 L377.6,243.8 L377.8,242.7 L378.0,241.7 L378.2,240.7 L378.4,239.7 L378.6,238.7 L378.8,237.7 L379.0,236.7 L379.2,235.6 L379.4,234.5 L379.6,234.1 L379.8,233.6 L380.0,233.1 L380.2,232.6 L380.4,232.1 L380.6,231.8 L380.8,231.7 L381.0,231.6 L381.2,231.5 L381.4,231.3 L381.6,231.2 L381.8,232.1 L382.0,233.1 L382.2,233.9 L382.4,235.2 L382.6,237.1 L382.8,239.1 L383.0,240.7 L383.2,237.7 L383.5,234.8 L383.7,232.0 L383.9,229.5 L384.1,227.3 L384.3,225.1 L384.5,222.9 L384.7,220.1 L384.9,216.8 L385.1,213.4 L385.3,210.9 L385.5,210.6 L385.7,210.2 L385.9,209.5 L386.1,209.9 L386.3,211.1 L386.5,212.3 L386.7,213.6 L386.9,212.5 L387.1,210.8 L387.3,209.1 L387.5,208.3 L387.7,208.2 L387.9,208.0 L388.1,207.8 L388.3,207.7 L388.5,207.5 L388.7,207.3 L388.9,206.3 L389.1,205.3 L389.3,204.3 L389.5,203.3 L389.7,202.2 L389.9,201.3 L390.1,201.5 L390.3,201.8 L390.5,201.9 L390.7,202.1 L390.9,202.2 L391.1,202.2 L391.3,202.1 L391.5,202.0 L391.7,201.8 L391.9,201.7 L392.1,201.5 L392.3,201.5 L392.5,202.2 L392.7,202.9 L392.9,203.5 L393.1,204.0 L393.3,204.5 L393.5,205.9 L393.7,207.5 L393.9,209.1 L394.2,210.7 L394.4,212.1 L394.6,213.2 L394.8,214.4 L395.0,215.7 L395.2,216.9 L395.4,218.1 L395.6,218.7 L395.8,219.2 L396.0,219.9 L396.2,220.6 L396.4,221.4 L396.6,220.9 L396.8,220.0 L397.0,219.1 L397.2,218.2 L397.4,217.6 L397.6,217.3 L397.8,217.0 L398.0,216.8 L398.2,216.6 L398.4,216.4 L398.6,216.3 L398.8,214.5 L399.0,212.6 L399.2,210.8 L399.4,209.1 L399.6,206.8 L399.8,204.0 L400.0,201.1 L400.2,198.0 L400.4,199.2 L400.6,201.4 L400.8,203.4 L401.0,205.3 L401.2,205.6 L401.4,206.0 L401.6,206.5 L401.8,207.2 L402.0,205.8 L402.2,203.6 L402.4,201.5 L402.6,199.4 L402.8,197.7 L403.0,196.4 L403.2,195.0 L403.4,193.6 L403.6,192.2 L403.8,190.7 L404.0,189.8 L404.2,188.8 L404.4,187.8 L404.6,186.8 L404.9,185.8 L405.1,184.9 L405.3,184.0 L405.5,183.0 L405.7,182.0 L405.9,180.9 L406.1,179.7 L406.3,178.8 L406.5,180.5 L406.7,182.2 L406.9,183.7 L407.1,185.2 L407.3,186.4 L407.5,187.6 L407.7,188.9 L407.9,190.3 L408.1,191.8 L408.3,192.3 L408.5,190.9 L408.7,189.6 L408.9,188.2 L409.1,186.8 L409.3,185.4 L409.5,187.8 L409.7,190.2 L409.9,192.5 L410.1,194.6 L410.3,196.1 L410.5,197.6 L410.7,199.0 L410.9,200.4 L411.1,202.0 L411.3,205.9 L411.5,210.4 L411.7,214.3 L411.9,211.2 L412.1,208.4 L412.3,205.7 L412.5,203.4 L412.7,200.7 L412.9,197.8 L413.1,194.7 L413.3,191.5 L413.5,188.0 L413.7,190.9 L413.9,194.1 L414.1,197.1 L414.3,200.0 L414.5,201.7 L414.7,202.7 L414.9,203.7 L415.1,204.8 L415.4,205.8 L415.6,207.1 L415.8,209.7 L416.0,212.4 L416.2,215.3 L416.4,218.4 L416.6,221.7 L416.8,218.6 L417.0,214.0 L417.2,209.3 L417.4,204.7 L417.6,204.4 L417.8,208.6 L418.0,212.5 L418.2,216.3 L418.4,218.4 L418.6,219.8 L418.8,221.3 L419.0,223.0 L419.2,224.7 L419.4,226.0 L419.6,226.0 L419.8,226.0 L420.0,226.1 L420.2,226.2 L420.4,226.3 L420.6,227.0 L420.8,227.6 L421.0,228.1 L421.2,228.5 L421.4,228.8 L421.6,230.6 L421.8,233.8 L422.0,237.0 L422.2,239.9 L422.4,240.4 L422.6,241.0 L422.8,241.7 L423.0,242.5 L423.2,243.3 L423.4,243.9 L423.6,244.5 L423.8,245.1 L424.0,245.7 L424.2,246.4 L424.4,246.9 L424.6,247.2 L424.8,247.5 L425.0,247.8 L425.2,248.1 L425.4,248.5 L425.6,248.8 L425.8,249.1 L426.1,249.4 L426.3,249.7 L426.5,250.0 L426.7,250.3 L426.9,250.6 L427.1,250.9 L427.3,251.3 L427.5,251.8 L427.7,252.2 L427.9,252.7 L428.1,253.2 L428.3,253.8 L428.5,253.9 L428.7,252.8 L428.9,251.8 L429.1,250.9 L429.3,250.1 L429.5,248.7 L429.7,247.3 L429.9,245.9 L430.1,244.5 L430.3,243.0 L430.5,242.5 L430.7,242.5 L430.9,242.5 L431.1,242.4 L431.3,242.2 L431.5,242.2 L431.7,243.4 L431.9,244.5 L432.1,245.8 L432.3,247.0 L432.5,248.3 L432.7,247.4 L432.9,246.0 L433.1,244.7 L433.3,243.3 L433.5,242.0 L433.7,241.5 L433.9,242.2 L434.1,242.9 L434.3,243.6 L434.5,244.3 L434.7,244.9 L434.9,244.2 L435.1,243.4 L435.3,242.7 L435.5,242.0 L435.7,241.4 L435.9,241.1 L436.1,241.0 L436.3,241.0 L436.6,241.0 L436.8,240.9 L437.0,240.8 L437.2,240.3 L437.4,239.9 L437.6,239.5 L437.8,239.2 L438.0,238.8 L438.2,238.0 L438.4,237.0 L438.6,236.1 L438.8,235.2 L439.0,234.4 L439.2,233.3 L439.4,231.8 L439.6,230.3 L439.8,228.7 L440.0,227.0 L440.2,225.2 L440.4,223.2 L440.6,225.9 L440.8,229.0 L441.0,232.0 L441.2,235.0 L441.4,235.1 L441.6,233.6 L441.8,232.1 L442.0,230.6 L442.2,229.3 L442.4,228.4 L442.6,229.1 L442.8,229.8 L443.0,230.4 L443.2,230.9 L443.4,231.4 L443.6,232.0 L443.8,232.6 L444.0,233.2 L444.2,233.9 L444.4,234.5 L444.6,235.1 L444.8,235.7 L445.0,236.3 L445.2,236.9 L445.4,237.5 L445.6,238.1 L445.8,238.6 L446.0,239.1 L446.2,239.6 L446.4,240.2 L446.6,240.8 L446.8,240.8 L447.0,240.4 L447.3,240.0 L447.5,239.7 L447.7,239.4 L447.9,239.1 L448.1,238.6 L448.3,238.0 L448.5,237.4 L448.7,236.9 L448.9,236.3 L449.1,236.4 L449.3,236.7 L449.5,236.9 L449.7,237.1 L449.9,237.3 L450.1,237.6 L450.3,238.2 L450.5,238.7 L450.7,239.2 L450.9,239.6 L451.1,240.1 L451.3,241.1 L451.5,242.3 L451.7,243.5 L451.9,243.9 L452.1,241.9 L452.3,239.8 L452.5,237.8 L452.7,235.7 L452.9,236.4 L453.1,237.2 L453.3,238.0 L453.5,238.8 L453.7,238.3 L453.9,237.0 L454.1,235.6 L454.3,234.1 L454.5,237.0 L454.7,240.9 L454.9,244.9 L455.1,248.6 L455.3,245.5 L455.5,242.4 L455.7,239.5 L455.9,236.7 L456.1,236.5 L456.3,237.2 L456.5,237.7 L456.7,238.1 L456.9,238.8 L457.1,240.2 L457.3,241.5 L457.5,242.8 L457.7,244.4 L458.0,246.2 L458.2,247.9 L458.4,249.7 L458.6,251.4 L458.8,253.2 L459.0,255.0 L459.2,256.9 L459.4,258.3 L459.6,259.4 L459.8,260.4 L460.0,261.2 L460.2,261.5 L460.4,261.9 L460.6,262.3 L460.8,262.9 L461.0,263.4 L461.2,262.3 L461.4,261.3 L461.6,260.4 L461.8,259.4 L462.0,258.5 L462.2,257.4 L462.4,256.4 L462.6,257.4 L462.8,258.2 L463.0,259.1 L463.2,259.8 L463.4,260.6 L463.6,261.1 L463.8,261.6 L464.0,262.1 L464.2,262.6 L464.4,263.1 L464.6,263.6 L464.8,264.1 L465.0,264.4 L465.2,264.6 L465.4,264.9 L465.6,265.1 L465.8,265.4 L466.0,265.7 L466.2,266.1 L466.4,266.4 L466.6,266.0 L466.8,265.6 L467.0,265.3 L467.2,264.9 L467.4,264.6 L467.6,264.3 L467.8,264.0 L468.0,263.7 L468.2,263.5 L468.5,263.2 L468.7,263.0 L468.9,262.7 L469.1,262.4 L469.3,262.3 L469.5,262.2 L469.7,262.2 L469.9,262.0 L470.1,261.9 L470.3,261.7 L470.5,261.5 L470.7,262.7 L470.9,263.8 L471.1,264.9 L471.3,266.0 L471.5,267.0 L471.7,267.9 L471.9,268.8 L472.1,269.8 L472.3,270.8 L472.5,271.3 L472.7,270.9 L472.9,270.5 L473.1,270.2 L473.3,269.9 L473.5,269.5 L473.7,269.2 L473.9,269.6 L474.1,270.2 L474.3,270.7 L474.5,271.2 L474.7,271.7 L474.9,272.1 L475.1,272.5 L475.3,273.1 L475.5,273.8 L475.7,274.4 L475.9,275.0 L476.1,275.6 L476.3,276.2 L476.5,276.7 L476.7,277.2 L476.9,277.8 L477.1,278.4 L477.3,279.0 L477.5,278.3 L477.7,277.7 L477.9,277.1 L478.1,276.6 L478.3,276.1 L478.5,275.5 L478.7,274.8 L478.9,274.1 L479.2,273.3 L479.4,272.5 L479.6,271.7 L479.8,270.8 L480.0,271.1 L480.2,272.0 L480.4,272.9 L480.6,273.8 L480.8,274.6 L481.0,275.5 L481.2,276.2 L481.4,275.9 L481.6,275.6 L481.8,275.3 L482.0,275.1 L482.2,274.9 L482.4,274.7 L482.6,274.4 L482.8,274.2 L483.0,274.2 L483.2,274.1 L483.4,274.1 L483.6,274.0 L483.8,274.0 L484.0,273.9 L484.2,273.9 L484.4,273.9 L484.6,273.3 L484.8,272.8 L485.0,272.2 L485.2,271.6 L485.4,271.0 L485.6,270.4 L485.8,269.7 L486.0,269.0 L486.2,269.8 L486.4,270.8 L486.6,271.8 L486.8,272.9 L487.0,274.0 L487.2,273.8 L487.4,272.1 L487.6,270.4 L487.8,268.8 L488.0,267.3 L488.2,265.8 L488.4,265.4 L488.6,264.8 L488.8,264.3 L489.0,263.8 L489.2,263.2 L489.4,262.5 L489.6,261.8 L489.9,261.0 L490.1,260.2 L490.3,259.3 L490.5,258.8 L490.7,259.7 L490.9,260.6 L491.1,261.6 L491.3,262.5 L491.5,263.4 L491.7,262.6 L491.9,261.4 L492.1,260.3 L492.3,259.3 L492.5,258.2 L492.7,257.8 L492.9,258.2 L493.1,258.5 L493.3,258.9 L493.5,259.2 L493.7,259.5 L493.9,259.9 L494.1,259.6 L494.3,258.5 L494.5,257.3 L494.7,256.2 L494.9,255.1 L495.1,254.0 L495.3,252.8 L495.5,253.1 L495.7,253.5 L495.9,253.8 L496.1,254.1 L496.3,254.4 L496.5,254.2 L496.7,253.7 L496.9,253.1 L497.1,252.6 L497.3,252.1 L497.5,251.6 L497.7,251.0 L497.9,250.3 L498.1,250.5 L498.3,251.6 L498.5,252.6 L498.7,253.6 L498.9,254.5 L499.1,255.4 L499.3,256.4 L499.5,257.4 L499.7,258.4 L499.9,259.5 L500.1,260.5 L500.4,261.4 L500.6,262.1 L500.8,263.0 L501.0,263.8 L501.2,264.7 L501.4,265.4 L501.6,265.5 L501.8,265.6 L502.0,265.8 L502.2,266.1 L502.4,266.4 L502.6,266.0 L502.8,265.5 L503.0,265.1 L503.2,264.7 L503.4,264.3 L503.6,263.8 L503.8,262.9 L504.0,262.1 L504.2,261.4 L504.4,260.8 L504.6,260.0 L504.8,257.2 L505.0,254.4 L505.2,252.4 L505.4,251.7 L505.6,250.8 L505.8,249.9 L506.0,248.8 L506.2,247.7 L506.4,248.8 L506.6,249.9 L506.8,251.0 L507.0,252.0 L507.2,253.0 L507.4,253.5 L507.6,253.6 L507.8,253.8 L508.0,254.1 L508.2,254.5 L508.4,254.6 L508.6,253.2 L508.8,251.8 L509.0,250.4 L509.2,249.1 L509.4,247.7 L509.6,247.3 L509.8,247.1 L510.0,246.9 L510.2,246.5 L510.4,246.2 L510.6,246.1 L510.8,246.5 L511.1,246.8 L511.3,247.1 L511.5,247.4 L511.7,247.6 L511.9,248.4 L512.1,249.2 L512.3,250.0 L512.5,250.9 L512.7,251.9 L512.9,252.9 L513.1,254.0 L513.3,252.2 L513.5,250.3 L513.7,248.5 L513.9,246.8 L514.1,245.2 L514.3,243.7 L514.5,242.2 L514.7,240.7 L514.9,239.1 L515.1,237.4 L515.3,235.5 L515.5,233.9 L515.7,235.5 L515.9,237.0 L516.1,238.6 L516.3,240.1 L516.5,241.6 L516.7,241.3 L516.9,240.3 L517.1,239.3 L517.3,238.4 L517.5,237.6 L517.7,236.7 L517.9,235.9 L518.1,235.1 L518.3,234.2 L518.5,233.3 L518.7,232.3 L518.9,231.3 L519.1,231.5 L519.3,232.1 L519.5,232.6 L519.7,233.0 L519.9,233.4 L520.1,233.9 L520.3,234.5 L520.5,235.1 L520.7,235.8 L520.9,236.4 L521.1,237.0 L521.3,237.6 L521.5,238.2 L521.8,238.8 L522.0,239.4 L522.2,240.0 L522.4,240.7 L522.6,241.3 L522.8,241.9 L523.0,242.5 L523.2,243.1 L523.4,243.7 L523.6,244.3 L523.8,244.9 L524.0,245.5 L524.2,246.1 L524.4,246.7 L524.6,247.4 L524.8,248.0 L525.0,248.6 L525.2,249.2 L525.4,249.7 L525.6,250.1 L525.8,250.6 L526.0,251.1 L526.2,251.7 L526.4,252.2 L526.6,252.6 L526.8,252.9 L527.0,253.3 L527.2,253.7 L527.4,254.0 L527.6,254.6 L527.8,255.4 L528.0,256.2 L528.2,257.0 L528.4,257.8 L528.6,258.3 L528.8,257.8 L529.0,257.4 L529.2,257.0 L529.4,256.6 L529.6,256.3 L529.8,255.9 L530.0,255.7 L530.2,255.5 L530.4,255.3 L530.6,255.2 L530.8,255.0 L531.0,254.7 L531.2,254.2 L531.4,253.6 L531.6,253.0 L531.8,252.5 L532.0,251.9 L532.3,252.0 L532.5,252.2 L532.7,252.3 L532.9,252.4 L533.1,252.5 L533.3,252.6 L533.5,252.7 L533.7,252.5 L533.9,252.3 L534.1,252.0 L534.3,251.8 L534.5,251.6 L534.7,251.5 L534.9,251.4 L535.1,251.4 L535.3,251.3 L535.5,251.2 L535.7,251.2 L535.9,251.2 L536.1,250.8 L536.3,250.2 L536.5,249.6 L536.7,249.1 L536.9,248.6 L537.1,247.7 L537.3,245.3 L537.5,242.8" fill="none" stroke="#000000" stroke-width="1.4" stroke-linejoin="round" />
<path clip-path="url(#clipd)" d="M335.6,212.2 L335.8,212.6 L336.0,213.1 L336.2,213.6 L336.4,214.1 L336.6,214.6 L336.8,215.1 L337.0,215.7 L337.2,216.2 L337.4,216.8 L337.6,217.3 L337.8,217.9 L338.0,218.5 L338.2,219.1 L338.4,219.7 L338.6,220.3 L338.8,220.9 L339.0,221.5 L339.2,222.2 L339.4,222.9 L339.6,223.5 L339.8,224.2 L340.0,224.8 L340.2,225.5 L340.4,226.2 L340.6,226.8 L340.8,227.4 L341.1,228.0 L341.3,228.6 L341.5,229.2 L341.7,229.7 L341.9,230.2 L342.1,230.7 L342.3,230.8 L342.5,231.0 L342.7,231.1 L342.9,231.2 L343.1,231.4 L343.3,231.5 L343.5,231.8 L343.7,232.5 L343.9,233.3 L344.1,234.4 L344.3,236.0 L344.5,237.5 L344.7,238.9 L344.9,238.7 L345.1,237.6 L345.3,236.4 L345.5,235.0 L345.7,233.8 L345.9,232.9 L346.1,232.1 L346.3,231.4 L346.5,230.8 L346.7,230.3 L346.9,230.4 L347.1,230.6 L347.3,230.8 L347.5,231.1 L347.7,231.4 L347.9,231.7 L348.1,232.0 L348.3,232.1 L348.5,232.3 L348.7,232.5 L348.9,232.7 L349.1,232.8 L349.3,233.0 L349.5,233.2 L349.7,233.5 L349.9,233.8 L350.1,234.1 L350.3,234.4 L350.5,234.7 L350.7,235.0 L350.9,235.3 L351.1,235.7 L351.3,236.0 L351.6,236.4 L351.8,236.7 L352.0,237.1 L352.2,237.6 L352.4,238.0 L352.6,238.5 L352.8,239.0 L353.0,239.5 L353.2,240.1 L353.4,240.9 L353.6,242.0 L353.8,243.2 L354.0,244.5 L354.2,246.1 L354.4,247.6 L354.6,249.0 L354.8,250.3 L355.0,250.1 L355.2,248.2 L355.4,246.1 L355.6,243.9 L355.8,241.7 L356.0,240.4 L356.2,239.3 L356.4,238.3 L356.6,237.8 L356.8,238.3 L357.0,238.9 L357.2,239.6 L357.4,240.4 L357.6,241.3 L357.8,242.4 L358.0,243.5 L358.2,244.5 L358.4,245.5 L358.6,246.3 L358.8,246.5 L359.0,246.0 L359.2,245.5 L359.4,245.0 L359.6,244.4 L359.8,244.0 L360.0,244.3 L360.2,244.7 L360.4,245.1 L360.6,245.6 L360.8,246.0 L361.0,245.9 L361.2,245.7 L361.4,245.3 L361.6,244.9 L361.8,244.4 L362.0,243.8 L362.3,242.9 L362.5,242.0 L362.7,241.2 L362.9,241.0 L363.1,241.3 L363.3,241.7 L363.5,242.1 L363.7,242.5 L363.9,242.8 L364.1,242.6 L364.3,242.4 L364.5,242.1 L364.7,241.7 L364.9,241.2 L365.1,240.7 L365.3,240.2 L365.5,239.2 L365.7,238.2 L365.9,237.1 L366.1,236.0 L366.3,234.9 L366.5,233.7 L366.7,232.6 L366.9,231.6 L367.1,230.6 L367.3,230.6 L367.5,230.8 L367.7,231.1 L367.9,231.5 L368.1,232.0 L368.3,232.6 L368.5,233.4 L368.7,234.3 L368.9,235.2 L369.1,236.2 L369.3,237.3 L369.5,238.5 L369.7,239.6 L369.9,240.7 L370.1,241.3 L370.3,241.8 L370.5,242.3 L370.7,242.8 L370.9,243.3 L371.1,243.9 L371.3,244.6 L371.5,245.2 L371.7,245.9 L371.9,246.1 L372.1,246.1 L372.3,246.2 L372.5,246.4 L372.7,247.7 L373.0,249.1 L373.2,250.5 L373.4,252.0 L373.6,253.1 L373.8,253.8 L374.0,254.5 L374.2,255.0 L374.4,255.4 L374.6,255.3 L374.8,255.1 L375.0,254.9 L375.2,254.6 L375.4,254.2 L375.6,253.2 L375.8,252.1 L376.0,251.0 L376.2,249.9 L376.4,249.0 L376.6,248.1 L376.8,247.3 L377.0,246.4 L377.2,245.6 L377.4,244.7 L377.6,243.7 L377.8,242.7 L378.0,241.7 L378.2,240.7 L378.4,239.7 L378.6,238.7 L378.8,237.7 L379.0,236.8 L379.2,235.9 L379.4,234.9 L379.6,234.3 L379.8,233.8 L380.0,233.3 L380.2,232.8 L380.4,232.3 L380.6,232.0 L380.8,231.9 L381.0,231.8 L381.2,231.8 L381.4,231.8 L381.6,232.0 L381.8,232.7 L382.0,233.5 L382.2,234.3 L382.4,235.2 L382.6,236.3 L382.8,237.1 L383.0,237.6 L383.2,235.8 L383.5,233.9 L383.7,231.8 L383.9,229.6 L384.1,227.2 L384.3,224.9 L384.5,222.5 L384.7,219.9 L384.9,217.3 L385.1,214.7 L385.3,212.7 L385.5,211.9 L385.7,211.2 L385.9,210.7 L386.1,210.7 L386.3,211.2 L386.5,211.6 L386.7,212.0 L386.9,211.4 L387.1,210.6 L387.3,209.6 L387.5,208.9 L387.7,208.6 L387.9,208.2 L388.1,207.8 L388.3,207.5 L388.5,207.2 L388.7,206.8 L388.9,206.0 L389.1,205.1 L389.3,204.3 L389.5,203.5 L389.7,202.8 L389.9,202.1 L390.1,202.0 L390.3,202.0 L390.5,202.0 L390.7,202.0 L390.9,202.1 L391.1,202.1 L391.3,202.0 L391.5,202.0 L391.7,201.9 L391.9,201.9 L392.1,201.9 L392.3,202.1 L392.5,202.5 L392.7,203.1 L392.9,203.7 L393.1,204.4 L393.3,205.2 L393.5,206.4 L393.7,207.7 L393.9,209.1 L394.2,210.5 L394.4,211.9 L394.6,213.1 L394.8,214.3 L395.0,215.5 L395.2,216.6 L395.4,217.7 L395.6,218.4 L395.8,219.0 L396.0,219.6 L396.2,220.0 L396.4,220.4 L396.6,220.2 L396.8,219.6 L397.0,219.1 L397.2,218.4 L397.4,217.9 L397.6,217.5 L397.8,217.1 L398.0,216.7 L398.2,216.2 L398.4,215.7 L398.6,215.1 L398.8,213.7 L399.0,212.1 L399.2,210.4 L399.4,208.6 L399.6,206.6 L399.8,204.6 L400.0,202.8 L400.2,201.0 L400.4,201.4 L400.6,202.3 L400.8,203.3 L401.0,204.4 L401.2,204.9 L401.4,205.3 L401.6,205.5 L401.8,205.5 L402.0,204.5 L402.2,203.0 L402.4,201.4 L402.6,199.7 L402.8,198.0 L403.0,196.6 L403.2,195.1 L403.4,193.7 L403.6,192.4 L403.8,191.0 L404.0,190.0 L404.2,188.9 L404.4,187.9 L404.6,186.9 L404.9,185.9 L405.1,184.9 L405.3,184.0 L405.5,183.1 L405.7,182.3 L405.9,181.6 L406.1,181.0 L406.3,180.6 L406.5,181.6 L406.7,182.7 L406.9,183.8 L407.1,185.1 L407.3,186.3 L407.5,187.5 L407.7,188.6 L407.9,189.6 L408.1,190.4 L408.3,190.7 L408.5,190.1 L408.7,189.4 L408.9,188.9 L409.1,188.3 L409.3,187.9 L409.5,189.3 L409.7,190.8 L409.9,192.5 L410.1,194.3 L410.3,195.9 L410.5,197.6 L410.7,199.4 L410.9,201.3 L411.1,202.9 L411.3,205.4 L411.5,207.9 L411.7,209.8 L411.9,208.5 L412.1,206.9 L412.3,205.1 L412.5,203.0 L412.7,200.5 L412.9,198.1 L413.1,195.9 L413.3,193.9 L413.5,192.2 L413.7,193.5 L413.9,195.2 L414.1,197.1 L414.3,199.1 L414.5,200.9 L414.7,202.3 L414.9,203.7 L415.1,205.1 L415.4,206.5 L415.6,208.1 L415.8,210.3 L416.0,212.3 L416.2,214.1 L416.4,215.7 L416.6,217.1 L416.8,215.6 L417.0,213.3 L417.2,211.1 L417.4,209.0 L417.6,208.8 L417.8,210.8 L418.0,213.0 L418.2,215.4 L418.4,217.4 L418.6,219.2 L418.8,220.9 L419.0,222.5 L419.2,223.9 L419.4,224.9 L419.6,225.4 L419.8,225.8 L420.0,226.1 L420.2,226.4 L420.4,226.7 L420.6,227.2 L420.8,227.8 L421.0,228.5 L421.2,229.3 L421.4,230.2 L421.6,231.8 L421.8,234.1 L422.0,236.3 L422.2,238.4 L422.4,239.5 L422.6,240.6 L422.8,241.5 L423.0,242.4 L423.2,243.1 L423.4,243.8 L423.6,244.4 L423.8,245.0 L424.0,245.6 L424.2,246.2 L424.4,246.7 L424.6,247.1 L424.8,247.4 L425.0,247.8 L425.2,248.1 L425.4,248.5 L425.6,248.8 L425.8,249.1 L426.1,249.4 L426.3,249.7 L426.5,250.0 L426.7,250.4 L426.9,250.7 L427.1,251.0 L427.3,251.4 L427.5,251.8 L427.7,252.2 L427.9,252.5 L428.1,252.8 L428.3,253.0 L428.5,252.9 L428.7,252.2 L428.9,251.5 L429.1,250.6 L429.3,249.7 L429.5,248.5 L429.7,247.3 L429.9,246.1 L430.1,245.0 L430.3,243.9 L430.5,243.3 L430.7,243.0 L430.9,242.8 L431.1,242.7 L431.3,242.8 L431.5,243.0 L431.7,243.8 L431.9,244.6 L432.1,245.4 L432.3,246.1 L432.5,246.7 L432.7,246.2 L432.9,245.5 L433.1,244.7 L433.3,243.9 L433.5,243.0 L433.7,242.6 L433.9,242.9 L434.1,243.1 L434.3,243.4 L434.5,243.7 L434.7,244.0 L434.9,243.6 L435.1,243.2 L435.3,242.7 L435.5,242.2 L435.7,241.7 L435.9,241.4 L436.1,241.2 L436.3,241.0 L436.6,240.9 L436.8,240.7 L437.0,240.5 L437.2,240.2 L437.4,239.8 L437.6,239.4 L437.8,238.9 L438.0,238.5 L438.2,237.7 L438.4,236.9 L438.6,236.0 L438.8,235.0 L439.0,234.1 L439.2,232.9 L439.4,231.6 L439.6,230.2 L439.8,229.0 L440.0,227.9 L440.2,227.0 L440.4,226.3 L440.6,227.7 L440.8,229.3 L441.0,231.0 L441.2,232.6 L441.4,233.0 L441.6,232.4 L441.8,231.7 L442.0,231.0 L442.2,230.2 L442.4,229.6 L442.6,229.8 L442.8,230.2 L443.0,230.5 L443.2,231.0 L443.4,231.5 L443.6,232.1 L443.8,232.7 L444.0,233.3 L444.2,233.9 L444.4,234.5 L444.6,235.1 L444.8,235.7 L445.0,236.3 L445.2,236.8 L445.4,237.4 L445.6,238.0 L445.8,238.5 L446.0,239.0 L446.2,239.5 L446.4,239.9 L446.6,240.3 L446.8,240.3 L447.0,240.1 L447.3,239.9 L447.5,239.6 L447.7,239.3 L447.9,238.9 L448.1,238.5 L448.3,238.0 L448.5,237.6 L448.7,237.2 L448.9,236.8 L449.1,236.8 L449.3,236.9 L449.5,237.1 L449.7,237.3 L449.9,237.5 L450.1,237.8 L450.3,238.3 L450.5,238.8 L450.7,239.3 L450.9,239.8 L451.1,240.4 L451.3,241.0 L451.5,241.6 L451.7,242.0 L451.9,242.1 L452.1,240.9 L452.3,239.8 L452.5,238.6 L452.7,237.5 L452.9,237.4 L453.1,237.6 L453.3,237.7 L453.5,237.9 L453.7,237.8 L453.9,237.4 L454.1,237.2 L454.3,237.1 L454.5,238.7 L454.7,240.7 L454.9,242.6 L455.1,244.3 L455.3,243.1 L455.5,241.7 L455.7,240.2 L455.9,238.6 L456.1,238.1 L456.3,238.1 L456.5,238.3 L456.7,238.7 L456.9,239.5 L457.1,240.6 L457.3,241.9 L457.5,243.2 L457.7,244.7 L458.0,246.3 L458.2,248.0 L458.4,249.7 L458.6,251.4 L458.8,253.1 L459.0,254.8 L459.2,256.4 L459.4,257.8 L459.6,258.9 L459.8,259.9 L460.0,260.7 L460.2,261.2 L460.4,261.6 L460.6,262.0 L460.8,262.2 L461.0,262.3 L461.2,261.7 L461.4,261.0 L461.6,260.3 L461.8,259.6 L462.0,258.9 L462.2,258.2 L462.4,257.7 L462.6,258.1 L462.8,258.6 L463.0,259.2 L463.2,259.8 L463.4,260.4 L463.6,261.0 L463.8,261.5 L464.0,262.1 L464.2,262.6 L464.4,263.0 L464.6,263.5 L464.8,264.0 L465.0,264.3 L465.2,264.6 L465.4,264.8 L465.6,265.1 L465.8,265.4 L466.0,265.6 L466.2,265.8 L466.4,265.9 L466.6,265.7 L466.8,265.5 L467.0,265.2 L467.2,264.9 L467.4,264.6 L467.6,264.3 L467.8,264.0 L468.0,263.8 L468.2,263.5 L468.5,263.3 L468.7,263.0 L468.9,262.8 L469.1,262.6 L469.3,262.4 L469.5,262.3 L469.7,262.2 L469.9,262.2 L470.1,262.2 L470.3,262.2 L470.5,262.4 L470.7,263.2 L470.9,264.1 L471.1,265.0 L471.3,265.9 L471.5,266.9 L471.7,267.8 L471.9,268.6 L472.1,269.4 L472.3,270.1 L472.5,270.5 L472.7,270.5 L472.9,270.3 L473.1,270.2 L473.3,270.0 L473.5,269.9 L473.7,269.7 L473.9,270.0 L474.1,270.4 L474.3,270.8 L474.5,271.2 L474.7,271.7 L474.9,272.2 L475.1,272.7 L475.3,273.2 L475.5,273.8 L475.7,274.4 L475.9,275.0 L476.1,275.5 L476.3,276.1 L476.5,276.6 L476.7,277.1 L476.9,277.5 L477.1,277.9 L477.3,278.1 L477.5,277.8 L477.7,277.4 L477.9,277.0 L478.1,276.5 L478.3,276.0 L478.5,275.4 L478.7,274.7 L478.9,274.0 L479.2,273.4 L479.4,272.8 L479.6,272.3 L479.8,271.8 L480.0,272.0 L480.2,272.5 L480.4,273.1 L480.6,273.7 L480.8,274.4 L481.0,275.0 L481.2,275.5 L481.4,275.4 L481.6,275.4 L481.8,275.2 L482.0,275.1 L482.2,274.9 L482.4,274.7 L482.6,274.5 L482.8,274.3 L483.0,274.2 L483.2,274.2 L483.4,274.1 L483.6,274.0 L483.8,273.9 L484.0,273.8 L484.2,273.7 L484.4,273.5 L484.6,273.1 L484.8,272.6 L485.0,272.1 L485.2,271.6 L485.4,271.1 L485.6,270.7 L485.8,270.4 L486.0,270.1 L486.2,270.5 L486.4,271.1 L486.6,271.6 L486.8,272.1 L487.0,272.5 L487.2,272.3 L487.4,271.2 L487.6,270.1 L487.8,269.0 L488.0,267.7 L488.2,266.5 L488.4,265.7 L488.6,265.0 L488.8,264.4 L489.0,263.7 L489.2,263.1 L489.4,262.4 L489.6,261.8 L489.9,261.2 L490.1,260.6 L490.3,260.1 L490.5,259.9 L490.7,260.4 L490.9,260.8 L491.1,261.3 L491.3,261.7 L491.5,262.2 L491.7,261.7 L491.9,261.0 L492.1,260.4 L492.3,259.7 L492.5,258.9 L492.7,258.6 L492.9,258.6 L493.1,258.7 L493.3,258.9 L493.5,259.0 L493.7,259.1 L493.9,259.1 L494.1,258.8 L494.3,258.0 L494.5,257.1 L494.7,256.3 L494.9,255.4 L495.1,254.6 L495.3,253.8 L495.5,253.7 L495.7,253.7 L495.9,253.8 L496.1,253.9 L496.3,254.0 L496.5,253.8 L496.7,253.4 L496.9,253.0 L497.1,252.6 L497.3,252.2 L497.5,251.8 L497.7,251.5 L497.9,251.2 L498.1,251.4 L498.3,252.1 L498.5,252.8 L498.7,253.7 L498.9,254.5 L499.1,255.5 L499.3,256.5 L499.5,257.4 L499.7,258.4 L499.9,259.4 L500.1,260.4 L500.4,261.2 L500.6,262.1 L500.8,262.8 L501.0,263.6 L501.2,264.3 L501.4,264.9 L501.6,265.2 L501.8,265.5 L502.0,265.7 L502.2,265.8 L502.4,265.9 L502.6,265.7 L502.8,265.3 L503.0,265.0 L503.2,264.5 L503.4,264.1 L503.6,263.5 L503.8,262.8 L504.0,261.9 L504.2,261.0 L504.4,260.0 L504.6,258.9 L504.8,257.0 L505.0,255.0 L505.2,253.4 L505.4,252.3 L505.6,251.3 L505.8,250.4 L506.0,249.7 L506.2,249.1 L506.4,249.7 L506.6,250.3 L506.8,251.0 L507.0,251.7 L507.2,252.5 L507.4,253.1 L507.6,253.3 L507.8,253.6 L508.0,253.7 L508.2,253.7 L508.4,253.5 L508.6,252.5 L508.8,251.5 L509.0,250.5 L509.2,249.5 L509.4,248.4 L509.6,247.8 L509.8,247.4 L510.0,247.0 L510.2,246.8 L510.4,246.5 L510.6,246.5 L510.8,246.7 L511.1,246.9 L511.3,247.2 L511.5,247.6 L511.7,248.0 L511.9,248.6 L512.1,249.4 L512.3,250.1 L512.5,250.7 L512.7,251.3 L512.9,251.8 L513.1,252.1 L513.3,251.0 L513.5,249.7 L513.7,248.3 L513.9,246.9 L514.1,245.3 L514.3,243.7 L514.5,242.2 L514.7,240.7 L514.9,239.3 L515.1,238.1 L515.3,237.0 L515.5,236.1 L515.7,236.8 L515.9,237.6 L516.1,238.4 L516.3,239.2 L516.5,240.1 L516.7,240.1 L516.9,239.6 L517.1,239.0 L517.3,238.3 L517.5,237.5 L517.7,236.7 L517.9,235.9 L518.1,235.1 L518.3,234.3 L518.5,233.5 L518.7,232.9 L518.9,232.2 L519.1,232.3 L519.3,232.5 L519.5,232.8 L519.7,233.1 L519.9,233.5 L520.1,234.0 L520.3,234.6 L520.5,235.2 L520.7,235.8 L520.9,236.4 L521.1,237.0 L521.3,237.6 L521.5,238.2 L521.8,238.8 L522.0,239.4 L522.2,240.0 L522.4,240.7 L522.6,241.3 L522.8,241.9 L523.0,242.5 L523.2,243.1 L523.4,243.7 L523.6,244.3 L523.8,244.9 L524.0,245.5 L524.2,246.1 L524.4,246.7 L524.6,247.3 L524.8,247.9 L525.0,248.5 L525.2,249.1 L525.4,249.6 L525.6,250.1 L525.8,250.6 L526.0,251.1 L526.2,251.6 L526.4,252.1 L526.6,252.5 L526.8,252.9 L527.0,253.4 L527.2,253.8 L527.4,254.2 L527.6,254.8 L527.8,255.5 L528.0,256.1 L528.2,256.7 L528.4,257.2 L528.6,257.5 L528.8,257.4 L529.0,257.2 L529.2,256.9 L529.4,256.6 L529.6,256.3 L529.8,256.0 L530.0,255.8 L530.2,255.5 L530.4,255.3 L530.6,255.1 L530.8,254.8 L531.0,254.5 L531.2,254.0 L531.4,253.6 L531.6,253.2 L531.8,252.8 L532.0,252.4 L532.3,252.3 L532.5,252.3 L532.7,252.4 L532.9,252.4 L533.1,252.4 L533.3,252.5 L533.5,252.5 L533.7,252.4 L533.9,252.2 L534.1,252.0 L534.3,251.9 L534.5,251.7 L534.7,251.6 L534.9,251.5 L535.1,251.4 L535.3,251.3 L535.5,251.2 L535.7,251.0 L535.9,250.9 L536.1,250.5 L536.3,250.0 L536.5,249.4 L536.7,248.7 L536.9,248.0 L537.1,247.1 L537.3,245.6 L537.5,244.2" fill="none" stroke="#00ffff" stroke-width="1.5999999999999999" stroke-dasharray="3.4 0.9 1.1 0.9" stroke-linejoin="round" />
<rect x="335.6" y="175.9" width="201.9" height="105.8" fill="none" stroke="#3a3a3a" stroke-width="1"/>
<line x1="335.6" y1="281.75" x2="335.6" y2="279.55" stroke="#3a3a3a" stroke-width="0.8"/>
<line x1="335.6" y1="175.9" x2="335.6" y2="178.1" stroke="#3a3a3a" stroke-width="0.8"/>
<text x="335.6" y="297.9" text-anchor="middle" class="tk">0</text>
<line x1="386.1" y1="281.75" x2="386.1" y2="279.55" stroke="#3a3a3a" stroke-width="0.8"/>
<line x1="386.1" y1="175.9" x2="386.1" y2="178.1" stroke="#3a3a3a" stroke-width="0.8"/>
<text x="386.1" y="297.9" text-anchor="middle" class="tk">5</text>
<line x1="436.6" y1="281.75" x2="436.6" y2="279.55" stroke="#3a3a3a" stroke-width="0.8"/>
<line x1="436.6" y1="175.9" x2="436.6" y2="178.1" stroke="#3a3a3a" stroke-width="0.8"/>
<text x="436.6" y="297.9" text-anchor="middle" class="tk">10</text>
<line x1="487.0" y1="281.75" x2="487.0" y2="279.55" stroke="#3a3a3a" stroke-width="0.8"/>
<line x1="487.0" y1="175.9" x2="487.0" y2="178.1" stroke="#3a3a3a" stroke-width="0.8"/>
<text x="487.0" y="297.9" text-anchor="middle" class="tk">15</text>
<line x1="537.5" y1="281.75" x2="537.5" y2="279.55" stroke="#3a3a3a" stroke-width="0.8"/>
<line x1="537.5" y1="175.9" x2="537.5" y2="178.1" stroke="#3a3a3a" stroke-width="0.8"/>
<text x="537.5" y="297.9" text-anchor="middle" class="tk">20</text>
<line x1="335.6" y1="272.9" x2="337.8" y2="272.9" stroke="#3a3a3a" stroke-width="0.8"/>
<line x1="537.5" y1="272.9" x2="535.3" y2="272.9" stroke="#3a3a3a" stroke-width="0.8"/>
<text x="331.1" y="277.3" text-anchor="end" class="tk">0.05</text>
<line x1="335.6" y1="228.8" x2="337.8" y2="228.8" stroke="#3a3a3a" stroke-width="0.8"/>
<line x1="537.5" y1="228.8" x2="535.3" y2="228.8" stroke="#3a3a3a" stroke-width="0.8"/>
<text x="331.1" y="233.2" text-anchor="end" class="tk">0.1</text>
<line x1="335.6" y1="184.7" x2="337.8" y2="184.7" stroke="#3a3a3a" stroke-width="0.8"/>
<line x1="537.5" y1="184.7" x2="535.3" y2="184.7" stroke="#3a3a3a" stroke-width="0.8"/>
<text x="331.1" y="189.1" text-anchor="end" class="tk">0.15</text>
<rect x="481.5" y="177.4" width="53.5" height="52.6" fill="#fff" stroke="#3a3a3a" stroke-width="1"/>
<line x1="485" y1="185.0" x2="505.5" y2="185.0" stroke="#ff0000" stroke-width="1.4" stroke-dasharray="2.8 0.9 1.0 0.9"/>
<text x="507.8" y="189.2" class="lg">VC</text>
<line x1="485" y1="198.0" x2="505.5" y2="198.0" stroke="#0000ff" stroke-width="1.4" stroke-dasharray="4 1.7"/>
<text x="507.8" y="202.2" class="lg">FLC</text>
<line x1="485" y1="211.0" x2="505.5" y2="211.0" stroke="#000000" stroke-width="1.4"/>
<text x="507.8" y="215.2" class="lg">NAC</text>
<line x1="485" y1="224.0" x2="505.5" y2="224.0" stroke="#00ffff" stroke-width="1.5999999999999999" stroke-dasharray="3.4 0.9 1.1 0.9"/>
<text x="507.8" y="228.2" class="lg">GSPI</text>
<text x="436.6" y="312.4" text-anchor="middle" class="lb">Time (s)</text>
<text x="436.6" y="327.6" text-anchor="middle" class="lb">(d)</text>
<g transform="translate(298.0,236.0) rotate(-90)">
<text x="0.0" y="0.0" font-size="13.6px">C</text>
<text x="9.6" y="6.6" font-size="10.5px">p</text>
</g>
<clipPath id="clipe"><rect x="46.9" y="350.2" width="208.6" height="100.4"/></clipPath>
<line x1="99.0" y1="350.2" x2="99.0" y2="450.55" stroke="#e8e8e8" stroke-width="0.8"/>
<line x1="151.2" y1="350.2" x2="151.2" y2="450.55" stroke="#e8e8e8" stroke-width="0.8"/>
<line x1="203.3" y1="350.2" x2="203.3" y2="450.55" stroke="#e8e8e8" stroke-width="0.8"/>
<line x1="46.9" y1="446.4" x2="255.5" y2="446.4" stroke="#e8e8e8" stroke-width="0.8"/>
<line x1="46.9" y1="400.4" x2="255.5" y2="400.4" stroke="#e8e8e8" stroke-width="0.8"/>
<line x1="46.9" y1="354.3" x2="255.5" y2="354.3" stroke="#e8e8e8" stroke-width="0.8"/>
<path clip-path="url(#clipe)" d="M46.9,400.0 L47.2,399.6 L47.4,400.1 L47.7,399.9 L47.9,399.6 L48.2,398.6 L48.5,398.1 L48.7,397.4 L49.0,396.8 L49.2,396.3 L49.5,395.1 L49.8,393.6 L50.0,391.1 L50.3,390.2 L50.6,389.6 L50.8,389.4 L51.1,388.9 L51.3,387.2 L51.6,386.6 L51.9,385.5 L52.1,385.2 L52.4,382.7 L52.6,380.8 L52.9,380.2 L53.2,380.5 L53.4,379.8 L53.7,381.2 L53.9,383.2 L54.2,385.7 L54.5,386.4 L54.7,383.5 L55.0,382.7 L55.2,382.1 L55.5,382.0 L55.8,380.0 L56.0,377.4 L56.3,374.7 L56.5,372.1 L56.8,379.8 L57.1,388.3 L57.3,396.7 L57.6,405.0 L57.9,409.0 L58.1,407.2 L58.4,404.8 L58.6,401.8 L58.9,398.9 L59.2,398.3 L59.4,396.3 L59.7,394.1 L59.9,390.7 L60.2,388.3 L60.5,386.6 L60.7,387.7 L61.0,390.5 L61.2,392.2 L61.5,395.6 L61.8,394.6 L62.0,395.5 L62.3,393.2 L62.5,391.4 L62.8,389.7 L63.1,388.6 L63.3,388.9 L63.6,387.8 L63.8,387.9 L64.1,387.2 L64.4,386.2 L64.6,384.2 L64.9,383.2 L65.2,382.0 L65.4,382.3 L65.7,376.7 L65.9,372.1 L66.2,366.8 L66.5,362.7 L66.7,358.0 L67.0,367.1 L67.2,374.5 L67.5,383.3 L67.8,390.3 L68.0,398.6 L68.3,406.1 L68.5,414.0 L68.8,412.0 L69.1,407.4 L69.3,403.9 L69.6,402.1 L69.8,398.5 L70.1,393.3 L70.4,386.7 L70.6,381.6 L70.9,378.9 L71.1,381.4 L71.4,383.2 L71.7,385.4 L71.9,388.0 L72.2,390.5 L72.5,392.0 L72.7,390.5 L73.0,390.7 L73.2,391.5 L73.5,391.2 L73.8,389.3 L74.0,391.5 L74.3,395.0 L74.5,399.1 L74.8,401.8 L75.1,404.2 L75.3,407.0 L75.6,410.5 L75.8,410.1 L76.1,406.1 L76.4,403.2 L76.6,399.4 L76.9,396.0 L77.1,395.4 L77.4,397.1 L77.7,397.7 L77.9,400.0 L78.2,403.5 L78.5,409.0 L78.7,413.9 L79.0,418.4 L79.2,422.0 L79.5,423.5 L79.8,418.3 L80.0,413.7 L80.3,409.0 L80.5,404.1 L80.8,397.5 L81.1,392.0 L81.3,387.6 L81.6,383.8 L81.8,379.9 L82.1,375.3 L82.4,370.5 L82.6,372.6 L82.9,375.5 L83.1,378.6 L83.4,380.3 L83.7,380.6 L83.9,377.6 L84.2,376.3 L84.4,374.1 L84.7,372.8 L85.0,370.7 L85.2,368.9 L85.5,367.1 L85.8,366.5 L86.0,368.9 L86.3,372.4 L86.5,374.3 L86.8,377.5 L87.1,379.0 L87.3,381.9 L87.6,384.5 L87.8,388.0 L88.1,390.3 L88.4,393.9 L88.6,397.1 L88.9,401.0 L89.1,404.5 L89.4,404.8 L89.7,405.5 L89.9,406.5 L90.2,408.0 L90.4,409.4 L90.7,409.2 L91.0,412.9 L91.2,416.1 L91.5,420.1 L91.7,424.3 L92.0,426.2 L92.3,424.2 L92.5,421.8 L92.8,419.1 L93.1,414.8 L93.3,411.0 L93.6,407.0 L93.8,404.4 L94.1,402.1 L94.4,400.3 L94.6,399.8 L94.9,398.0 L95.1,396.5 L95.4,393.1 L95.7,390.1 L95.9,387.7 L96.2,393.6 L96.4,400.3 L96.7,405.5 L97.0,410.4 L97.2,413.5 L97.5,418.1 L97.7,421.3 L98.0,425.1 L98.3,428.9 L98.5,434.6 L98.8,436.0 L99.0,436.4 L99.3,436.7 L99.6,436.7 L99.8,436.9 L100.1,436.7 L100.4,436.8 L100.6,437.9 L100.9,437.6 L101.1,436.7 L101.4,435.1 L101.7,432.4 L101.9,430.6 L102.2,427.3 L102.4,426.8 L102.7,424.6 L103.0,423.8 L103.2,422.3 L103.5,420.8 L103.7,420.3 L104.0,419.3 L104.3,418.3 L104.5,417.2 L104.8,414.6 L105.0,413.6 L105.3,411.2 L105.6,412.6 L105.8,411.5 L106.1,411.1 L106.4,408.7 L106.6,407.0 L106.9,405.9 L107.1,403.0 L107.4,399.1 L107.7,393.7 L107.9,389.1 L108.2,384.8 L108.4,382.2 L108.7,377.9 L109.0,374.3 L109.2,369.8 L109.5,369.5 L109.7,377.6 L110.0,386.6 L110.3,396.9 L110.5,399.8 L110.8,401.8 L111.0,403.1 L111.3,405.5 L111.6,407.7 L111.8,411.4 L112.1,416.9 L112.3,420.8 L112.6,425.2 L112.9,427.8 L113.1,431.1 L113.4,435.1 L113.7,438.5 L113.9,435.6 L114.2,430.4 L114.4,425.6 L114.7,422.0 L115.0,418.0 L115.2,413.0 L115.5,417.1 L115.7,419.6 L116.0,424.4 L116.3,427.7 L116.5,432.1 L116.8,435.5 L117.0,431.8 L117.3,428.9 L117.6,423.7 L117.8,420.5 L118.1,416.1 L118.3,413.4 L118.6,415.9 L118.9,420.0 L119.1,422.7 L119.4,426.2 L119.6,427.6 L119.9,430.4 L120.2,428.4 L120.4,425.2 L120.7,420.2 L121.0,415.4 L121.2,411.2 L121.5,408.4 L121.7,411.4 L122.0,412.3 L122.3,413.0 L122.5,415.7 L122.8,417.3 L123.0,413.8 L123.3,408.7 L123.6,404.1 L123.8,398.2 L124.1,393.4 L124.3,386.9 L124.6,381.8 L124.9,377.0 L125.1,382.3 L125.4,389.0 L125.6,393.5 L125.9,399.2 L126.2,406.8 L126.4,414.9 L126.7,421.6 L127.0,428.4 L127.2,429.3 L127.5,423.2 L127.7,416.4 L128.0,411.6 L128.3,405.6 L128.5,400.2 L128.8,397.2 L129.0,393.2 L129.3,390.4 L129.6,385.3 L129.8,382.5 L130.1,383.2 L130.3,385.9 L130.6,387.5 L130.9,391.0 L131.1,394.9 L131.4,399.6 L131.6,395.3 L131.9,389.0 L132.2,382.6 L132.4,376.9 L132.7,371.8 L132.9,367.7 L133.2,367.5 L133.5,369.4 L133.7,371.4 L134.0,375.3 L134.3,379.1 L134.5,381.5 L134.8,381.6 L135.0,379.6 L135.3,376.8 L135.6,375.9 L135.8,372.5 L136.1,369.2 L136.3,364.7 L136.6,363.7 L136.9,366.0 L137.1,370.1 L137.4,370.6 L137.6,372.5 L137.9,372.9 L138.2,374.5 L138.4,376.0 L138.7,376.2 L138.9,377.6 L139.2,378.8 L139.5,381.7 L139.7,381.6 L140.0,380.7 L140.2,378.0 L140.5,376.0 L140.8,375.5 L141.0,379.8 L141.3,383.6 L141.6,388.0 L141.8,391.3 L142.1,388.0 L142.3,385.6 L142.6,381.8 L142.9,379.4 L143.1,382.5 L143.4,387.5 L143.6,390.6 L143.9,396.2 L144.2,400.0 L144.4,405.3 L144.7,408.5 L144.9,412.2 L145.2,408.6 L145.5,405.5 L145.7,402.7 L146.0,397.9 L146.2,394.2 L146.5,389.5 L146.8,386.4 L147.0,389.2 L147.3,394.5 L147.5,398.5 L147.8,403.2 L148.1,408.3 L148.3,411.9 L148.6,408.1 L148.9,405.9 L149.1,402.6 L149.4,398.8 L149.6,393.1 L149.9,388.2 L150.2,389.0 L150.4,391.9 L150.7,395.9 L150.9,398.5 L151.2,400.4 L151.5,401.4 L151.7,404.3 L152.0,406.7 L152.2,409.0 L152.5,409.5 L152.8,411.5 L153.0,414.3 L153.3,417.5 L153.5,418.8 L153.8,419.9 L154.1,420.0 L154.3,420.2 L154.6,420.5 L154.9,421.3 L155.1,421.4 L155.4,419.7 L155.6,418.7 L155.9,416.5 L156.2,414.1 L156.4,411.9 L156.7,411.1 L156.9,410.1 L157.2,408.5 L157.5,406.4 L157.7,404.8 L158.0,401.9 L158.2,398.2 L158.5,396.1 L158.8,394.1 L159.0,392.5 L159.3,391.4 L159.5,390.5 L159.8,389.8 L160.1,387.5 L160.3,386.9 L160.6,387.0 L160.8,388.5 L161.1,388.9 L161.4,389.6 L161.6,392.4 L161.9,394.1 L162.2,396.8 L162.4,398.8 L162.7,400.9 L162.9,403.0 L163.2,403.4 L163.5,405.3 L163.7,405.9 L164.0,403.5 L164.2,401.0 L164.5,398.6 L164.8,396.0 L165.0,393.5 L165.3,391.3 L165.5,389.9 L165.8,388.1 L166.1,387.3 L166.3,386.1 L166.6,386.6 L166.8,387.3 L167.1,389.1 L167.4,390.9 L167.6,394.8 L167.9,396.8 L168.1,393.1 L168.4,389.2 L168.7,386.4 L168.9,384.5 L169.2,382.7 L169.5,380.0 L169.7,380.3 L170.0,389.9 L170.2,398.9 L170.5,407.6 L170.8,407.9 L171.0,403.8 L171.3,400.5 L171.5,396.4 L171.8,392.4 L172.1,386.6 L172.3,383.2 L172.6,379.2 L172.8,376.8 L173.1,375.1 L173.4,371.9 L173.6,367.9 L173.9,365.0 L174.1,362.7 L174.4,359.9 L174.7,356.9 L174.9,354.6 L175.2,359.8 L175.4,364.1 L175.7,368.7 L176.0,372.7 L176.2,376.8 L176.5,380.5 L176.8,385.3 L177.0,387.3 L177.3,391.7 L177.5,392.1 L177.8,395.2 L178.1,396.2 L178.3,397.5 L178.6,394.4 L178.8,390.8 L179.1,388.1 L179.4,384.7 L179.6,381.9 L179.9,378.9 L180.1,378.9 L180.4,380.5 L180.7,382.2 L180.9,383.3 L181.2,385.8 L181.4,388.5 L181.7,389.2 L182.0,388.7 L182.2,386.8 L182.5,384.5 L182.8,384.6 L183.0,388.6 L183.3,394.2 L183.5,398.9 L183.8,404.0 L184.1,406.2 L184.3,401.9 L184.6,399.1 L184.8,396.7 L185.1,393.2 L185.4,388.7 L185.6,385.9 L185.9,383.5 L186.1,380.7 L186.4,376.9 L186.7,372.2 L186.9,367.8 L187.2,365.2 L187.4,363.2 L187.7,364.3 L188.0,368.5 L188.2,372.4 L188.5,376.5 L188.7,378.5 L189.0,376.9 L189.3,376.2 L189.5,375.9 L189.8,376.4 L190.1,375.9 L190.3,374.8 L190.6,373.8 L190.8,371.8 L191.1,370.5 L191.4,369.2 L191.6,369.6 L191.9,370.1 L192.1,369.9 L192.4,367.8 L192.7,367.6 L192.9,370.3 L193.2,375.2 L193.4,378.1 L193.7,382.7 L194.0,386.9 L194.2,391.9 L194.5,395.6 L194.7,399.0 L195.0,402.7 L195.3,407.2 L195.5,411.7 L195.8,411.9 L196.0,402.4 L196.3,393.8 L196.6,386.4 L196.8,381.8 L197.1,384.8 L197.4,386.9 L197.6,389.6 L197.9,392.5 L198.1,395.3 L198.4,396.8 L198.7,400.2 L198.9,400.8 L199.2,402.8 L199.4,403.3 L199.7,404.4 L200.0,403.6 L200.2,402.2 L200.5,400.1 L200.7,398.8 L201.0,398.2 L201.3,397.2 L201.5,395.1 L201.8,394.4 L202.0,390.6 L202.3,388.2 L202.6,385.1 L202.8,384.5 L203.1,389.3 L203.3,394.4 L203.6,398.8 L203.9,404.4 L204.1,408.3 L204.4,410.8 L204.7,413.2 L204.9,414.7 L205.2,417.5 L205.4,421.4 L205.7,419.7 L206.0,418.1 L206.2,416.0 L206.5,415.2 L206.7,413.2 L207.0,411.0 L207.3,409.9 L207.5,409.3 L207.8,408.6 L208.0,407.4 L208.3,408.5 L208.6,410.2 L208.8,412.1 L209.1,413.0 L209.3,413.3 L209.6,413.3 L209.9,411.8 L210.1,410.3 L210.4,409.7 L210.7,407.0 L210.9,409.3 L211.2,410.5 L211.4,413.6 L211.7,415.5 L212.0,414.5 L212.2,411.6 L212.5,409.6 L212.7,407.8 L213.0,407.8 L213.3,406.8 L213.5,404.8 L213.8,401.7 L214.0,400.2 L214.3,399.0 L214.6,398.1 L214.8,395.6 L215.1,394.0 L215.3,391.9 L215.6,389.1 L215.9,387.0 L216.1,385.1 L216.4,383.1 L216.6,379.7 L216.9,378.2 L217.2,375.6 L217.4,373.9 L217.7,375.4 L218.0,379.6 L218.2,384.0 L218.5,386.4 L218.7,391.1 L219.0,393.3 L219.3,397.6 L219.5,399.6 L219.8,401.9 L220.0,403.6 L220.3,406.6 L220.6,408.7 L220.8,412.3 L221.1,414.3 L221.3,418.4 L221.6,420.6 L221.9,424.0 L222.1,425.8 L222.4,429.6 L222.6,426.5 L222.9,423.6 L223.2,417.9 L223.4,414.6 L223.7,408.9 L223.9,409.4 L224.2,408.8 L224.5,409.6 L224.7,408.6 L225.0,406.4 L225.3,405.0 L225.5,407.5 L225.8,410.7 L226.0,413.8 L226.3,418.6 L226.6,421.3 L226.8,423.8 L227.1,419.7 L227.3,418.0 L227.6,416.3 L227.9,412.0 L228.1,408.2 L228.4,404.7 L228.6,404.8 L228.9,402.6 L229.2,401.1 L229.4,399.7 L229.7,399.5 L229.9,397.8 L230.2,401.2 L230.5,408.9 L230.7,416.8 L231.0,425.8 L231.3,431.5 L231.5,427.3 L231.8,422.9 L232.0,417.9 L232.3,413.2 L232.6,409.0 L232.8,408.4 L233.1,407.6 L233.3,405.8 L233.6,404.6 L233.9,408.0 L234.1,412.8 L234.4,416.3 L234.6,419.4 L234.9,423.0 L235.2,425.9 L235.4,430.2 L235.7,427.1 L235.9,425.3 L236.2,420.9 L236.5,417.5 L236.7,412.9 L237.0,409.4 L237.2,405.6 L237.5,404.4 L237.8,403.9 L238.0,402.0 L238.3,399.6 L238.6,397.3 L238.8,395.5 L239.1,394.6 L239.3,393.4 L239.6,393.2 L239.9,391.1 L240.1,390.3 L240.4,390.3 L240.6,391.3 L240.9,389.7 L241.2,388.3 L241.4,386.8 L241.7,386.4 L241.9,385.2 L242.2,383.3 L242.5,381.4 L242.7,381.6 L243.0,382.8 L243.2,385.5 L243.5,386.8 L243.8,388.6 L244.0,389.2 L244.3,388.0 L244.5,386.7 L244.8,386.7 L245.1,385.9 L245.3,386.5 L245.6,386.5 L245.9,386.8 L246.1,387.1 L246.4,389.5 L246.6,391.2 L246.9,392.6 L247.2,394.1 L247.4,396.5 L247.7,398.2 L247.9,398.8 L248.2,400.0 L248.5,402.0 L248.7,404.0 L249.0,406.0 L249.2,408.2 L249.5,410.8 L249.8,411.6 L250.0,410.4 L250.3,407.2 L250.5,405.5 L250.8,403.9 L251.1,404.0 L251.3,402.9 L251.6,403.4 L251.8,403.4 L252.1,403.7 L252.4,403.4 L252.6,404.5 L252.9,404.7 L253.2,407.4 L253.4,410.3 L253.7,413.1 L253.9,416.1 L254.2,418.4 L254.5,421.4 L254.7,420.9 L255.0,418.3 L255.2,416.9 L255.5,414.8" fill="none" stroke="#ff0000" stroke-width="1.4" stroke-dasharray="2.8 0.9 1.0 0.9" stroke-linejoin="round" />
<path clip-path="url(#clipe)" d="M46.9,400.2 L47.2,400.1 L47.4,400.2 L47.7,400.4 L47.9,400.7 L48.2,400.1 L48.5,399.6 L48.7,398.8 L49.0,398.2 L49.2,397.6 L49.5,396.8 L49.8,396.6 L50.0,395.6 L50.3,395.0 L50.6,394.1 L50.8,392.5 L51.1,390.6 L51.3,390.7 L51.6,391.1 L51.9,390.4 L52.1,388.3 L52.4,386.8 L52.6,385.6 L52.9,385.3 L53.2,383.7 L53.4,383.0 L53.7,381.1 L53.9,380.6 L54.2,380.4 L54.5,381.3 L54.7,382.7 L55.0,383.8 L55.2,384.0 L55.5,384.1 L55.8,383.3 L56.0,382.0 L56.3,379.4 L56.5,378.0 L56.8,376.2 L57.1,375.3 L57.3,377.1 L57.6,380.7 L57.9,385.5 L58.1,391.3 L58.4,395.9 L58.6,399.5 L58.9,400.7 L59.2,401.8 L59.4,399.8 L59.7,398.6 L59.9,397.2 L60.2,396.8 L60.5,395.6 L60.7,394.5 L61.0,392.2 L61.2,391.0 L61.5,390.2 L61.8,391.4 L62.0,391.4 L62.3,392.6 L62.5,393.2 L62.8,394.1 L63.1,393.3 L63.3,391.7 L63.6,391.5 L63.8,390.6 L64.1,389.6 L64.4,388.7 L64.6,388.5 L64.9,389.0 L65.2,387.7 L65.4,386.2 L65.7,384.3 L65.9,383.2 L66.2,381.1 L66.5,378.5 L66.7,375.0 L67.0,372.2 L67.2,368.4 L67.5,368.3 L67.8,370.4 L68.0,373.8 L68.3,378.5 L68.5,384.1 L68.8,391.2 L69.1,399.0 L69.3,402.9 L69.6,404.6 L69.8,404.1 L70.1,403.4 L70.4,400.8 L70.6,397.2 L70.9,393.6 L71.1,390.0 L71.4,386.3 L71.7,384.3 L71.9,383.0 L72.2,384.1 L72.5,384.9 L72.7,386.1 L73.0,387.3 L73.2,388.8 L73.5,390.1 L73.8,390.7 L74.0,390.6 L74.3,390.1 L74.5,391.2 L74.8,393.6 L75.1,395.5 L75.3,397.0 L75.6,398.3 L75.8,400.4 L76.1,403.0 L76.4,405.1 L76.6,405.4 L76.9,404.8 L77.1,402.5 L77.4,400.6 L77.7,398.9 L77.9,398.6 L78.2,398.5 L78.5,399.6 L78.7,401.2 L79.0,404.6 L79.2,406.8 L79.5,409.8 L79.8,411.8 L80.0,415.1 L80.3,416.5 L80.5,416.8 L80.8,413.8 L81.1,410.8 L81.3,405.9 L81.6,403.6 L81.8,398.8 L82.1,394.5 L82.4,389.0 L82.6,384.5 L82.9,380.6 L83.1,378.7 L83.4,377.2 L83.7,376.7 L83.9,377.0 L84.2,378.2 L84.4,378.7 L84.7,377.7 L85.0,376.4 L85.2,375.1 L85.5,374.1 L85.8,372.7 L86.0,371.0 L86.3,368.9 L86.5,368.5 L86.8,369.0 L87.1,370.7 L87.3,372.2 L87.6,374.5 L87.8,376.8 L88.1,379.7 L88.4,381.8 L88.6,384.5 L88.9,387.6 L89.1,391.1 L89.4,395.0 L89.7,398.0 L89.9,399.8 L90.2,401.4 L90.4,403.2 L90.7,404.9 L91.0,405.6 L91.2,406.4 L91.5,408.5 L91.7,411.5 L92.0,413.9 L92.3,416.8 L92.5,419.6 L92.8,421.1 L93.1,421.1 L93.3,419.6 L93.6,418.9 L93.8,416.0 L94.1,414.3 L94.4,411.5 L94.6,409.5 L94.9,407.3 L95.1,404.1 L95.4,401.6 L95.7,398.8 L95.9,397.0 L96.2,394.8 L96.4,392.7 L96.7,393.8 L97.0,397.7 L97.2,402.1 L97.5,408.7 L97.7,414.8 L98.0,420.5 L98.3,426.7 L98.5,432.0 L98.8,438.3 L99.0,443.0 L99.3,445.0 L99.6,445.6 L99.8,444.8 L100.1,445.5 L100.4,444.6 L100.6,444.4 L100.9,443.3 L101.1,442.2 L101.4,440.5 L101.7,438.0 L101.9,436.3 L102.2,434.4 L102.4,433.3 L102.7,431.3 L103.0,430.1 L103.2,427.6 L103.5,426.3 L103.7,424.3 L104.0,423.5 L104.3,421.6 L104.5,420.3 L104.8,419.0 L105.0,418.3 L105.3,417.3 L105.6,415.9 L105.8,414.7 L106.1,413.3 L106.4,411.9 L106.6,410.8 L106.9,410.8 L107.1,409.7 L107.4,408.0 L107.7,406.0 L107.9,404.4 L108.2,403.1 L108.4,399.3 L108.7,395.8 L109.0,390.3 L109.2,387.5 L109.5,382.9 L109.7,379.1 L110.0,375.7 L110.3,377.2 L110.5,381.1 L110.8,386.7 L111.0,391.4 L111.3,395.5 L111.6,398.8 L111.8,401.7 L112.1,403.9 L112.3,406.2 L112.6,408.4 L112.9,411.2 L113.1,412.8 L113.4,415.5 L113.7,416.9 L113.9,420.6 L114.2,422.5 L114.4,424.8 L114.7,423.3 L115.0,422.2 L115.2,421.0 L115.5,420.2 L115.7,418.1 L116.0,417.2 L116.3,417.3 L116.5,419.5 L116.8,421.6 L117.0,423.5 L117.3,423.9 L117.6,424.2 L117.8,423.8 L118.1,424.1 L118.3,422.0 L118.6,420.6 L118.9,418.4 L119.1,418.9 L119.4,418.9 L119.6,419.2 L119.9,418.8 L120.2,420.4 L120.4,421.5 L120.7,422.8 L121.0,422.0 L121.2,421.6 L121.5,420.4 L121.7,418.7 L122.0,415.3 L122.3,414.0 L122.5,413.6 L122.8,414.3 L123.0,415.5 L123.3,415.9 L123.6,415.5 L123.8,412.2 L124.1,408.8 L124.3,404.9 L124.6,400.9 L124.9,396.7 L125.1,391.9 L125.4,387.6 L125.6,386.0 L125.9,387.3 L126.2,388.7 L126.4,392.4 L126.7,396.1 L127.0,400.7 L127.2,405.2 L127.5,411.0 L127.7,416.4 L128.0,418.3 L128.3,417.1 L128.5,414.5 L128.8,411.1 L129.0,406.7 L129.3,403.4 L129.6,399.8 L129.8,397.2 L130.1,393.0 L130.3,388.9 L130.6,387.2 L130.9,386.7 L131.1,387.3 L131.4,388.8 L131.6,391.9 L131.9,394.1 L132.2,394.3 L132.4,391.9 L132.7,389.6 L132.9,386.3 L133.2,382.5 L133.5,378.1 L133.7,374.7 L134.0,372.9 L134.3,373.1 L134.5,373.8 L134.8,375.6 L135.0,377.1 L135.3,378.5 L135.6,378.5 L135.8,378.4 L136.1,377.5 L136.3,375.8 L136.6,373.0 L136.9,370.9 L137.1,369.0 L137.4,368.5 L137.6,366.8 L137.9,366.5 L138.2,366.2 L138.4,367.0 L138.7,367.4 L138.9,366.5 L139.2,367.4 L139.5,368.3 L139.7,371.5 L140.0,374.6 L140.2,376.3 L140.5,376.4 L140.8,375.2 L141.0,374.7 L141.3,375.8 L141.6,378.1 L141.8,380.6 L142.1,381.8 L142.3,384.7 L142.6,385.5 L142.9,385.8 L143.1,384.5 L143.4,382.5 L143.6,382.9 L143.9,385.4 L144.2,388.6 L144.4,390.6 L144.7,393.0 L144.9,396.2 L145.2,401.0 L145.5,404.5 L145.7,405.6 L146.0,405.0 L146.2,404.2 L146.5,402.1 L146.8,399.3 L147.0,395.7 L147.3,391.7 L147.5,390.9 L147.8,392.4 L148.1,394.9 L148.3,397.1 L148.6,400.7 L148.9,404.4 L149.1,405.9 L149.4,405.2 L149.6,403.9 L149.9,401.9 L150.2,398.9 L150.4,395.6 L150.7,393.8 L150.9,393.7 L151.2,394.7 L151.5,396.2 L151.7,397.5 L152.0,398.9 L152.2,400.2 L152.5,402.3 L152.8,404.3 L153.0,406.5 L153.3,409.2 L153.5,411.4 L153.8,413.9 L154.1,415.1 L154.3,417.5 L154.6,419.4 L154.9,422.3 L155.1,424.1 L155.4,426.3 L155.6,427.5 L155.9,427.7 L156.2,427.1 L156.4,425.2 L156.7,423.4 L156.9,421.3 L157.2,419.3 L157.5,417.0 L157.7,414.3 L158.0,411.2 L158.2,408.7 L158.5,405.8 L158.8,404.1 L159.0,401.4 L159.3,399.8 L159.5,398.2 L159.8,396.7 L160.1,395.7 L160.3,393.4 L160.6,391.6 L160.8,388.6 L161.1,387.2 L161.4,387.9 L161.6,389.4 L161.9,390.1 L162.2,390.7 L162.4,391.4 L162.7,394.0 L162.9,395.9 L163.2,398.7 L163.5,400.1 L163.7,400.9 L164.0,402.2 L164.2,403.2 L164.5,403.7 L164.8,402.4 L165.0,401.6 L165.3,400.1 L165.5,397.6 L165.8,396.0 L166.1,393.8 L166.3,392.1 L166.6,389.6 L166.8,387.3 L167.1,388.0 L167.4,388.2 L167.6,390.0 L167.9,390.0 L168.1,391.3 L168.4,392.3 L168.7,392.7 L168.9,391.6 L169.2,391.1 L169.5,388.6 L169.7,387.0 L170.0,384.7 L170.2,384.2 L170.5,386.6 L170.8,390.6 L171.0,395.8 L171.3,398.9 L171.5,399.9 L171.8,400.2 L172.1,400.2 L172.3,398.1 L172.6,395.1 L172.8,391.2 L173.1,388.3 L173.4,383.6 L173.6,381.1 L173.9,377.7 L174.1,374.9 L174.4,371.4 L174.7,368.9 L174.9,366.1 L175.2,363.9 L175.4,361.9 L175.7,362.8 L176.0,363.0 L176.2,364.1 L176.5,366.5 L176.8,369.1 L177.0,372.9 L177.3,376.2 L177.5,380.6 L177.8,383.4 L178.1,386.3 L178.3,388.9 L178.6,391.0 L178.8,392.5 L179.1,392.4 L179.4,392.8 L179.6,392.1 L179.9,390.5 L180.1,387.5 L180.4,384.5 L180.7,382.5 L180.9,381.5 L181.2,382.0 L181.4,382.7 L181.7,384.4 L182.0,385.7 L182.2,386.7 L182.5,386.4 L182.8,385.8 L183.0,385.4 L183.3,385.2 L183.5,386.4 L183.8,388.1 L184.1,391.3 L184.3,394.4 L184.6,398.1 L184.8,400.0 L185.1,401.0 L185.4,400.6 L185.6,398.2 L185.9,395.7 L186.1,392.6 L186.4,390.0 L186.7,386.2 L186.9,382.2 L187.2,379.0 L187.4,375.6 L187.7,373.0 L188.0,369.3 L188.2,367.9 L188.5,368.5 L188.7,370.1 L189.0,371.7 L189.3,374.1 L189.5,375.6 L189.8,376.5 L190.1,375.6 L190.3,375.7 L190.6,375.4 L190.8,374.6 L191.1,372.5 L191.4,371.3 L191.6,370.1 L191.9,369.5 L192.1,367.9 L192.4,366.9 L192.7,365.4 L192.9,364.2 L193.2,362.3 L193.4,361.9 L193.7,363.4 L194.0,366.2 L194.2,370.7 L194.5,374.8 L194.7,381.1 L195.0,386.4 L195.3,391.4 L195.5,395.2 L195.8,398.5 L196.0,402.3 L196.3,405.1 L196.6,404.9 L196.8,402.8 L197.1,398.2 L197.4,393.4 L197.6,390.8 L197.9,389.1 L198.1,389.4 L198.4,389.3 L198.7,391.4 L198.9,392.9 L199.2,395.9 L199.4,397.7 L199.7,399.4 L200.0,400.2 L200.2,400.6 L200.5,401.6 L200.7,402.7 L201.0,403.1 L201.3,402.0 L201.5,401.0 L201.8,400.0 L202.0,399.1 L202.3,397.4 L202.6,395.3 L202.8,393.5 L203.1,391.7 L203.3,389.6 L203.6,390.6 L203.9,394.2 L204.1,399.3 L204.4,405.1 L204.7,410.2 L204.9,415.5 L205.2,421.1 L205.4,426.2 L205.7,431.1 L206.0,435.7 L206.2,439.0 L206.5,440.2 L206.7,440.1 L207.0,438.5 L207.3,437.4 L207.5,435.9 L207.8,435.3 L208.0,434.1 L208.3,433.6 L208.6,431.3 L208.8,428.8 L209.1,425.9 L209.3,425.4 L209.6,425.1 L209.9,424.7 L210.1,423.9 L210.4,424.2 L210.7,423.3 L210.9,422.4 L211.2,420.7 L211.4,419.7 L211.7,418.6 L212.0,417.4 L212.2,416.8 L212.5,416.1 L212.7,415.8 L213.0,414.9 L213.3,413.6 L213.5,411.6 L213.8,410.4 L214.0,409.3 L214.3,408.2 L214.6,406.8 L214.8,404.7 L215.1,402.7 L215.3,400.3 L215.6,398.0 L215.9,396.3 L216.1,393.9 L216.4,392.3 L216.6,388.2 L216.9,385.8 L217.2,382.1 L217.4,379.2 L217.7,375.6 L218.0,372.6 L218.2,371.8 L218.5,371.8 L218.7,372.8 L219.0,374.5 L219.3,377.8 L219.5,382.0 L219.8,386.3 L220.0,390.2 L220.3,394.0 L220.6,396.0 L220.8,399.7 L221.1,401.7 L221.3,405.0 L221.6,406.9 L221.9,410.2 L222.1,413.8 L222.4,416.9 L222.6,421.4 L222.9,425.0 L223.2,427.1 L223.4,425.7 L223.7,423.9 L223.9,420.9 L224.2,416.9 L224.5,414.5 L224.7,412.1 L225.0,411.5 L225.3,410.3 L225.5,410.1 L225.8,408.1 L226.0,408.7 L226.3,410.1 L226.6,413.5 L226.8,416.3 L227.1,420.2 L227.3,424.4 L227.6,427.0 L227.9,427.2 L228.1,425.7 L228.4,421.7 L228.6,417.4 L228.9,413.4 L229.2,409.9 L229.4,407.7 L229.7,405.9 L229.9,404.2 L230.2,401.7 L230.5,399.1 L230.7,400.2 L231.0,403.0 L231.3,407.8 L231.5,413.2 L231.8,419.4 L232.0,421.6 L232.3,422.2 L232.6,421.6 L232.8,419.3 L233.1,417.0 L233.3,414.1 L233.6,412.3 L233.9,409.5 L234.1,408.2 L234.4,408.3 L234.6,409.3 L234.9,411.4 L235.2,413.9 L235.4,416.8 L235.7,419.8 L235.9,423.4 L236.2,424.4 L236.5,423.3 L236.7,421.9 L237.0,420.2 L237.2,417.9 L237.5,414.1 L237.8,410.8 L238.0,409.3 L238.3,407.7 L238.6,405.6 L238.8,402.1 L239.1,400.6 L239.3,400.0 L239.6,399.0 L239.9,397.5 L240.1,395.7 L240.4,395.1 L240.6,393.6 L240.9,392.4 L241.2,390.8 L241.4,390.8 L241.7,390.1 L241.9,388.8 L242.2,385.8 L242.5,383.2 L242.7,379.7 L243.0,376.3 L243.2,374.0 L243.5,373.7 L243.8,374.4 L244.0,374.8 L244.3,376.4 L244.5,378.6 L244.8,379.5 L245.1,379.2 L245.3,378.2 L245.6,377.1 L245.9,375.5 L246.1,376.6 L246.4,377.2 L246.6,379.0 L246.9,380.2 L247.2,382.7 L247.4,385.0 L247.7,387.3 L247.9,389.9 L248.2,392.3 L248.5,394.8 L248.7,397.2 L249.0,399.7 L249.2,401.6 L249.5,402.9 L249.8,404.2 L250.0,405.6 L250.3,406.6 L250.5,407.5 L250.8,407.9 L251.1,408.3 L251.3,407.9 L251.6,406.9 L251.8,404.9 L252.1,404.6 L252.4,403.9 L252.6,404.4 L252.9,403.5 L253.2,404.1 L253.4,404.0 L253.7,405.3 L253.9,406.0 L254.2,408.4 L254.5,409.6 L254.7,411.2 L255.0,412.8 L255.2,413.6 L255.5,414.9" fill="none" stroke="#0000ff" stroke-width="1.4" stroke-dasharray="4 1.7" stroke-linejoin="round" />
<path clip-path="url(#clipe)" d="M46.9,400.4 L47.2,400.3 L47.4,400.3 L47.7,400.0 L47.9,399.9 L48.2,400.0 L48.5,399.7 L48.7,399.8 L49.0,399.3 L49.2,400.4 L49.5,399.8 L49.8,399.3 L50.0,399.4 L50.3,399.8 L50.6,399.4 L50.8,397.8 L51.1,399.0 L51.3,399.9 L51.6,399.5 L51.9,399.2 L52.1,399.5 L52.4,400.1 L52.6,398.5 L52.9,397.3 L53.2,396.7 L53.4,395.8 L53.7,396.6 L53.9,398.5 L54.2,399.3 L54.5,399.8 L54.7,399.7 L55.0,400.3 L55.2,398.6 L55.5,397.8 L55.8,396.9 L56.0,396.3 L56.3,395.5 L56.5,394.3 L56.8,397.4 L57.1,398.3 L57.3,400.8 L57.6,402.5 L57.9,403.4 L58.1,402.6 L58.4,402.6 L58.6,402.8 L58.9,401.8 L59.2,401.4 L59.4,402.0 L59.7,402.6 L59.9,401.7 L60.2,400.3 L60.5,399.8 L60.7,400.0 L61.0,399.6 L61.2,399.2 L61.5,398.7 L61.8,398.8 L62.0,397.5 L62.3,398.0 L62.5,397.7 L62.8,398.8 L63.1,399.4 L63.3,399.4 L63.6,400.9 L63.8,400.3 L64.1,400.9 L64.4,399.5 L64.6,400.5 L64.9,400.3 L65.2,399.0 L65.4,399.0 L65.7,397.2 L65.9,396.8 L66.2,395.4 L66.5,393.5 L66.7,392.9 L67.0,394.8 L67.2,397.4 L67.5,398.2 L67.8,399.7 L68.0,402.2 L68.3,405.3 L68.5,409.6 L68.8,408.9 L69.1,406.9 L69.3,403.0 L69.6,401.7 L69.8,401.2 L70.1,399.6 L70.4,398.8 L70.6,397.1 L70.9,397.1 L71.1,397.1 L71.4,396.9 L71.7,397.5 L71.9,398.3 L72.2,399.4 L72.5,400.5 L72.7,400.0 L73.0,401.0 L73.2,401.2 L73.5,400.7 L73.8,401.2 L74.0,401.1 L74.3,401.9 L74.5,401.8 L74.8,401.1 L75.1,401.7 L75.3,402.2 L75.6,403.3 L75.8,402.8 L76.1,402.5 L76.4,401.8 L76.6,401.2 L76.9,401.0 L77.1,401.3 L77.4,400.9 L77.7,400.2 L77.9,400.0 L78.2,401.0 L78.5,400.8 L78.7,400.0 L79.0,400.5 L79.2,401.9 L79.5,402.9 L79.8,401.8 L80.0,400.9 L80.3,401.6 L80.5,401.2 L80.8,400.0 L81.1,400.0 L81.3,397.4 L81.6,395.8 L81.8,394.1 L82.1,394.7 L82.4,393.3 L82.6,395.2 L82.9,397.7 L83.1,398.6 L83.4,398.9 L83.7,398.3 L83.9,397.7 L84.2,396.0 L84.4,395.7 L84.7,395.8 L85.0,395.1 L85.2,394.9 L85.5,395.0 L85.8,394.8 L86.0,396.0 L86.3,397.4 L86.5,399.9 L86.8,400.4 L87.1,401.4 L87.3,402.9 L87.6,403.4 L87.8,403.1 L88.1,402.4 L88.4,402.9 L88.6,403.3 L88.9,402.8 L89.1,402.6 L89.4,402.9 L89.7,403.5 L89.9,404.2 L90.2,404.5 L90.4,404.6 L90.7,403.6 L91.0,404.9 L91.2,405.8 L91.5,405.4 L91.7,405.1 L92.0,405.8 L92.3,406.0 L92.5,404.9 L92.8,403.2 L93.1,401.0 L93.3,401.1 L93.6,399.8 L93.8,399.1 L94.1,398.0 L94.4,397.4 L94.6,398.6 L94.9,398.4 L95.1,398.9 L95.4,397.8 L95.7,397.4 L95.9,397.3 L96.2,398.8 L96.4,400.1 L96.7,400.3 L97.0,402.5 L97.2,404.2 L97.5,405.8 L97.7,407.4 L98.0,407.7 L98.3,411.3 L98.5,412.4 L98.8,408.5 L99.0,403.0 L99.3,397.8 L99.6,396.8 L99.8,399.0 L100.1,404.0 L100.4,407.6 L100.6,408.1 L100.9,405.9 L101.1,404.4 L101.4,403.5 L101.7,402.4 L101.9,402.1 L102.2,402.7 L102.4,403.5 L102.7,404.8 L103.0,404.8 L103.2,403.3 L103.5,402.9 L103.7,401.4 L104.0,401.7 L104.3,401.3 L104.5,400.9 L104.8,401.8 L105.0,401.2 L105.3,401.3 L105.6,400.4 L105.8,399.5 L106.1,399.2 L106.4,398.4 L106.6,398.9 L106.9,399.1 L107.1,398.3 L107.4,396.9 L107.7,396.5 L107.9,397.2 L108.2,396.3 L108.4,394.6 L108.7,394.8 L109.0,394.5 L109.2,394.3 L109.5,394.3 L109.7,397.0 L110.0,400.3 L110.3,402.8 L110.5,404.1 L110.8,402.7 L111.0,402.8 L111.3,403.6 L111.6,404.1 L111.8,404.1 L112.1,403.4 L112.3,405.0 L112.6,405.8 L112.9,405.5 L113.1,406.8 L113.4,408.5 L113.7,410.3 L113.9,411.8 L114.2,411.4 L114.4,409.4 L114.7,405.8 L115.0,402.5 L115.2,401.6 L115.5,401.6 L115.7,403.0 L116.0,403.4 L116.3,403.8 L116.5,405.1 L116.8,404.8 L117.0,403.9 L117.3,402.3 L117.6,402.1 L117.8,400.9 L118.1,399.3 L118.3,399.9 L118.6,402.4 L118.9,402.2 L119.1,402.9 L119.4,403.1 L119.6,404.4 L119.9,404.8 L120.2,402.9 L120.4,403.5 L120.7,402.0 L121.0,401.7 L121.2,399.8 L121.5,398.2 L121.7,399.4 L122.0,400.1 L122.3,399.8 L122.5,400.5 L122.8,401.2 L123.0,401.5 L123.3,400.5 L123.6,398.5 L123.8,398.3 L124.1,396.9 L124.3,395.5 L124.6,392.8 L124.9,392.4 L125.1,395.0 L125.4,398.0 L125.6,400.2 L125.9,403.5 L126.2,405.9 L126.4,409.0 L126.7,410.6 L127.0,412.9 L127.2,414.8 L127.5,410.6 L127.7,406.4 L128.0,401.8 L128.3,400.3 L128.5,398.6 L128.8,396.7 L129.0,396.3 L129.3,395.9 L129.6,396.4 L129.8,395.3 L130.1,397.6 L130.3,399.0 L130.6,400.4 L130.9,400.9 L131.1,401.6 L131.4,405.3 L131.6,406.1 L131.9,406.6 L132.2,402.8 L132.4,399.3 L132.7,396.5 L132.9,394.5 L133.2,395.8 L133.5,396.4 L133.7,397.2 L134.0,398.7 L134.3,399.1 L134.5,399.1 L134.8,398.0 L135.0,397.0 L135.3,396.3 L135.6,395.4 L135.8,394.0 L136.1,394.1 L136.3,394.5 L136.6,394.0 L136.9,395.4 L137.1,395.3 L137.4,397.4 L137.6,397.3 L137.9,396.6 L138.2,398.1 L138.4,397.8 L138.7,398.1 L138.9,397.9 L139.2,398.5 L139.5,399.5 L139.7,399.3 L140.0,399.8 L140.2,399.6 L140.5,398.9 L140.8,398.9 L141.0,399.4 L141.3,399.5 L141.6,399.9 L141.8,399.8 L142.1,399.6 L142.3,398.7 L142.6,398.3 L142.9,398.1 L143.1,397.7 L143.4,399.4 L143.6,400.5 L143.9,401.5 L144.2,402.4 L144.4,402.0 L144.7,404.3 L144.9,405.2 L145.2,403.4 L145.5,402.6 L145.7,400.7 L146.0,400.1 L146.2,397.9 L146.5,397.0 L146.8,396.2 L147.0,396.5 L147.3,398.5 L147.5,399.5 L147.8,402.2 L148.1,402.9 L148.3,403.9 L148.6,403.6 L148.9,403.2 L149.1,403.8 L149.4,401.9 L149.6,401.7 L149.9,400.9 L150.2,401.4 L150.4,401.8 L150.7,402.0 L150.9,402.4 L151.2,402.5 L151.5,402.5 L151.7,402.4 L152.0,401.8 L152.2,402.5 L152.5,403.1 L152.8,404.1 L153.0,405.0 L153.3,404.8 L153.5,405.6 L153.8,406.4 L154.1,409.0 L154.3,409.2 L154.6,406.4 L154.9,404.6 L155.1,402.7 L155.4,401.6 L155.6,399.7 L155.9,399.6 L156.2,398.6 L156.4,398.3 L156.7,398.2 L156.9,397.0 L157.2,397.9 L157.5,397.7 L157.7,399.4 L158.0,399.4 L158.2,398.1 L158.5,399.0 L158.8,396.8 L159.0,395.6 L159.3,394.2 L159.5,393.8 L159.8,395.5 L160.1,395.5 L160.3,396.0 L160.6,397.0 L160.8,398.4 L161.1,399.0 L161.4,397.9 L161.6,397.1 L161.9,398.2 L162.2,398.4 L162.4,398.3 L162.7,399.4 L162.9,400.9 L163.2,402.6 L163.5,403.5 L163.7,404.6 L164.0,403.9 L164.2,402.7 L164.5,400.7 L164.8,399.5 L165.0,398.2 L165.3,397.2 L165.5,397.0 L165.8,396.2 L166.1,397.1 L166.3,396.4 L166.6,397.3 L166.8,398.1 L167.1,399.7 L167.4,400.2 L167.6,401.1 L167.9,402.4 L168.1,400.7 L168.4,399.8 L168.7,399.3 L168.9,399.9 L169.2,399.1 L169.5,398.7 L169.7,399.4 L170.0,402.6 L170.2,405.0 L170.5,406.1 L170.8,404.8 L171.0,402.1 L171.3,400.9 L171.5,398.7 L171.8,397.1 L172.1,395.4 L172.3,395.6 L172.6,395.5 L172.8,393.6 L173.1,392.7 L173.4,392.0 L173.6,393.1 L173.9,393.1 L174.1,393.8 L174.4,393.6 L174.7,394.1 L174.9,393.8 L175.2,394.6 L175.4,396.2 L175.7,396.5 L176.0,398.3 L176.2,399.3 L176.5,400.6 L176.8,401.9 L177.0,404.9 L177.3,409.8 L177.5,413.4 L177.8,412.5 L178.1,408.4 L178.3,406.9 L178.6,404.9 L178.8,403.6 L179.1,401.5 L179.4,399.9 L179.6,399.6 L179.9,396.8 L180.1,396.1 L180.4,397.0 L180.7,398.6 L180.9,398.6 L181.2,398.3 L181.4,400.0 L181.7,400.3 L182.0,399.2 L182.2,399.5 L182.5,400.3 L182.8,400.4 L183.0,401.7 L183.3,402.6 L183.5,403.8 L183.8,404.2 L184.1,404.1 L184.3,403.3 L184.6,401.3 L184.8,399.5 L185.1,399.0 L185.4,397.5 L185.6,396.8 L185.9,396.2 L186.1,396.2 L186.4,396.1 L186.7,394.4 L186.9,394.3 L187.2,394.8 L187.4,394.9 L187.7,395.0 L188.0,397.0 L188.2,398.6 L188.5,400.3 L188.7,401.3 L189.0,399.8 L189.3,399.3 L189.5,398.1 L189.8,398.9 L190.1,397.8 L190.3,396.7 L190.6,396.9 L190.8,396.5 L191.1,396.1 L191.4,395.6 L191.6,395.1 L191.9,395.0 L192.1,395.1 L192.4,395.2 L192.7,395.6 L192.9,395.6 L193.2,397.4 L193.4,398.8 L193.7,399.7 L194.0,400.5 L194.2,402.3 L194.5,404.7 L194.7,405.7 L195.0,406.6 L195.3,408.8 L195.5,412.5 L195.8,413.3 L196.0,409.4 L196.3,404.4 L196.6,401.4 L196.8,399.8 L197.1,399.9 L197.4,400.3 L197.6,399.1 L197.9,400.0 L198.1,400.5 L198.4,401.1 L198.7,403.3 L198.9,401.5 L199.2,402.5 L199.4,401.6 L199.7,401.9 L200.0,402.9 L200.2,402.5 L200.5,403.8 L200.7,404.1 L201.0,405.6 L201.3,404.4 L201.5,403.4 L201.8,402.3 L202.0,400.6 L202.3,399.4 L202.6,397.6 L202.8,397.1 L203.1,397.9 L203.3,399.2 L203.6,401.6 L203.9,403.0 L204.1,403.1 L204.4,404.2 L204.7,404.4 L204.9,404.5 L205.2,404.1 L205.4,403.5 L205.7,403.1 L206.0,401.6 L206.2,402.7 L206.5,402.9 L206.7,402.5 L207.0,401.5 L207.3,402.3 L207.5,403.1 L207.8,401.5 L208.0,400.3 L208.3,400.9 L208.6,403.1 L208.8,402.2 L209.1,401.6 L209.3,401.7 L209.6,402.3 L209.9,401.2 L210.1,400.1 L210.4,399.5 L210.7,399.1 L210.9,399.9 L211.2,401.1 L211.4,402.3 L211.7,401.9 L212.0,402.1 L212.2,401.5 L212.5,401.0 L212.7,400.3 L213.0,399.1 L213.3,399.2 L213.5,397.3 L213.8,397.0 L214.0,397.1 L214.3,396.8 L214.6,398.1 L214.8,397.3 L215.1,398.0 L215.3,398.4 L215.6,398.5 L215.9,397.2 L216.1,395.2 L216.4,395.7 L216.6,396.1 L216.9,396.3 L217.2,394.9 L217.4,395.4 L217.7,396.8 L218.0,397.8 L218.2,399.2 L218.5,400.2 L218.7,402.5 L219.0,402.9 L219.3,403.6 L219.5,404.2 L219.8,404.1 L220.0,404.6 L220.3,405.2 L220.6,406.5 L220.8,407.1 L221.1,407.6 L221.3,407.5 L221.6,407.1 L221.9,407.6 L222.1,409.6 L222.4,411.5 L222.6,412.4 L222.9,410.3 L223.2,406.7 L223.4,403.2 L223.7,401.3 L223.9,401.2 L224.2,400.2 L224.5,400.4 L224.7,400.6 L225.0,400.7 L225.3,400.0 L225.5,400.6 L225.8,400.3 L226.0,401.9 L226.3,402.5 L226.6,402.8 L226.8,403.2 L227.1,403.1 L227.3,403.1 L227.6,400.7 L227.9,400.6 L228.1,401.1 L228.4,400.6 L228.6,399.8 L228.9,400.1 L229.2,399.5 L229.4,399.4 L229.7,398.1 L229.9,399.0 L230.2,400.7 L230.5,402.7 L230.7,405.7 L231.0,406.9 L231.3,407.9 L231.5,406.2 L231.8,403.9 L232.0,402.7 L232.3,402.1 L232.6,401.3 L232.8,400.4 L233.1,400.0 L233.3,401.4 L233.6,401.2 L233.9,401.1 L234.1,401.6 L234.4,403.3 L234.6,403.3 L234.9,402.1 L235.2,402.4 L235.4,403.0 L235.7,402.4 L235.9,401.2 L236.2,400.0 L236.5,399.9 L236.7,399.6 L237.0,398.5 L237.2,396.8 L237.5,396.8 L237.8,396.2 L238.0,395.7 L238.3,395.8 L238.6,396.5 L238.8,397.8 L239.1,398.1 L239.3,399.6 L239.6,400.1 L239.9,399.0 L240.1,399.9 L240.4,398.9 L240.6,398.7 L240.9,397.6 L241.2,397.8 L241.4,399.4 L241.7,398.3 L241.9,398.4 L242.2,398.0 L242.5,398.6 L242.7,399.3 L243.0,399.0 L243.2,399.8 L243.5,401.0 L243.8,401.6 L244.0,401.7 L244.3,400.4 L244.5,399.4 L244.8,398.8 L245.1,397.7 L245.3,397.7 L245.6,398.8 L245.9,399.1 L246.1,399.7 L246.4,400.0 L246.6,399.9 L246.9,399.8 L247.2,399.1 L247.4,398.9 L247.7,398.6 L247.9,398.4 L248.2,399.3 L248.5,401.0 L248.7,403.0 L249.0,404.9 L249.2,404.5 L249.5,405.3 L249.8,405.6 L250.0,403.6 L250.3,401.0 L250.5,399.8 L250.8,400.4 L251.1,399.7 L251.3,399.2 L251.6,400.0 L251.8,402.0 L252.1,402.3 L252.4,402.7 L252.6,402.9 L252.9,402.2 L253.2,403.3 L253.4,403.3 L253.7,403.4 L253.9,404.9 L254.2,405.4 L254.5,406.4 L254.7,404.7 L255.0,403.9 L255.2,403.4 L255.5,402.7" fill="none" stroke="#000000" stroke-width="1.4" stroke-linejoin="round" />
<path clip-path="url(#clipe)" d="M46.9,400.4 L47.2,400.3 L47.4,399.8 L47.7,399.3 L47.9,399.6 L48.2,398.0 L48.5,398.3 L48.7,399.7 L49.0,399.4 L49.2,398.3 L49.5,399.0 L49.8,396.3 L50.0,390.8 L50.3,391.1 L50.6,391.0 L50.8,389.8 L51.1,396.0 L51.3,398.7 L51.6,390.0 L51.9,393.6 L52.1,389.4 L52.4,389.4 L52.6,395.7 L52.9,393.1 L53.2,399.3 L53.4,398.4 L53.7,397.9 L53.9,397.5 L54.2,392.0 L54.5,393.3 L54.7,393.2 L55.0,395.5 L55.2,397.3 L55.5,394.4 L55.8,388.9 L56.0,388.5 L56.3,383.3 L56.5,382.7 L56.8,395.4 L57.1,399.6 L57.3,406.4 L57.6,411.9 L57.9,409.7 L58.1,408.1 L58.4,408.3 L58.6,403.5 L58.9,402.6 L59.2,401.3 L59.4,398.2 L59.7,395.5 L59.9,395.9 L60.2,396.5 L60.5,393.6 L60.7,394.2 L61.0,391.0 L61.2,391.4 L61.5,398.8 L61.8,399.9 L62.0,402.7 L62.3,398.4 L62.5,393.9 L62.8,392.6 L63.1,391.8 L63.3,393.2 L63.6,392.1 L63.8,398.1 L64.1,397.5 L64.4,396.7 L64.6,401.3 L64.9,400.8 L65.2,403.6 L65.4,406.5 L65.7,399.1 L65.9,391.8 L66.2,386.2 L66.5,383.8 L66.7,386.5 L67.0,391.8 L67.2,397.5 L67.5,398.7 L67.8,401.6 L68.0,411.6 L68.3,409.8 L68.5,414.5 L68.8,410.5 L69.1,406.0 L69.3,405.0 L69.6,402.1 L69.8,399.7 L70.1,394.4 L70.4,395.3 L70.6,388.9 L70.9,391.7 L71.1,391.9 L71.4,394.7 L71.7,400.1 L71.9,398.7 L72.2,400.4 L72.5,403.1 L72.7,403.1 L73.0,400.2 L73.2,402.1 L73.5,400.1 L73.8,397.8 L74.0,400.0 L74.3,401.0 L74.5,401.2 L74.8,405.4 L75.1,405.0 L75.3,408.0 L75.6,412.9 L75.8,409.3 L76.1,412.1 L76.4,410.0 L76.6,405.2 L76.9,402.9 L77.1,401.1 L77.4,400.5 L77.7,401.5 L77.9,403.1 L78.2,405.3 L78.5,406.0 L78.7,404.1 L79.0,407.4 L79.2,409.0 L79.5,412.5 L79.8,414.1 L80.0,413.5 L80.3,412.3 L80.5,408.9 L80.8,404.0 L81.1,398.0 L81.3,394.4 L81.6,390.4 L81.8,392.0 L82.1,386.6 L82.4,378.3 L82.6,380.9 L82.9,378.5 L83.1,384.2 L83.4,389.3 L83.7,391.4 L83.9,395.1 L84.2,392.7 L84.4,396.1 L84.7,393.3 L85.0,391.2 L85.2,394.0 L85.5,388.8 L85.8,385.8 L86.0,385.6 L86.3,386.3 L86.5,389.2 L86.8,395.3 L87.1,400.1 L87.3,400.4 L87.6,407.2 L87.8,406.6 L88.1,405.4 L88.4,406.3 L88.6,406.1 L88.9,410.0 L89.1,409.0 L89.4,407.0 L89.7,401.9 L89.9,399.5 L90.2,403.3 L90.4,405.1 L90.7,406.8 L91.0,409.9 L91.2,406.0 L91.5,410.4 L91.7,408.2 L92.0,409.6 L92.3,412.1 L92.5,408.9 L92.8,414.0 L93.1,412.1 L93.3,408.9 L93.6,410.9 L93.8,408.4 L94.1,409.0 L94.4,408.8 L94.6,401.7 L94.9,399.9 L95.1,396.5 L95.4,394.2 L95.7,398.3 L95.9,396.1 L96.2,399.9 L96.4,404.8 L96.7,408.9 L97.0,413.5 L97.2,412.1 L97.5,409.9 L97.7,408.7 L98.0,409.0 L98.3,414.0 L98.5,420.8 L98.8,423.9 L99.0,420.1 L99.3,421.2 L99.6,418.2 L99.8,410.7 L100.1,415.3 L100.4,413.4 L100.6,413.2 L100.9,416.7 L101.1,414.1 L101.4,413.4 L101.7,410.4 L101.9,407.5 L102.2,409.7 L102.4,410.9 L102.7,413.9 L103.0,415.7 L103.2,414.1 L103.5,408.5 L103.7,408.1 L104.0,407.3 L104.3,404.8 L104.5,410.7 L104.8,407.6 L105.0,404.9 L105.3,401.8 L105.6,399.2 L105.8,400.9 L106.1,401.3 L106.4,404.9 L106.6,405.5 L106.9,402.2 L107.1,401.9 L107.4,398.4 L107.7,395.6 L107.9,393.7 L108.2,391.9 L108.4,392.4 L108.7,386.5 L109.0,384.4 L109.2,384.0 L109.5,381.4 L109.7,384.9 L110.0,392.0 L110.3,397.9 L110.5,400.5 L110.8,402.5 L111.0,406.1 L111.3,400.1 L111.6,402.5 L111.8,406.7 L112.1,403.5 L112.3,408.2 L112.6,406.4 L112.9,407.6 L113.1,410.5 L113.4,412.3 L113.7,415.8 L113.9,413.4 L114.2,410.4 L114.4,408.5 L114.7,404.5 L115.0,403.6 L115.2,399.8 L115.5,399.7 L115.7,403.8 L116.0,407.0 L116.3,411.3 L116.5,411.2 L116.8,412.2 L117.0,406.4 L117.3,404.6 L117.6,406.5 L117.8,406.6 L118.1,411.3 L118.3,408.7 L118.6,409.5 L118.9,409.6 L119.1,405.0 L119.4,409.2 L119.6,406.9 L119.9,411.3 L120.2,411.7 L120.4,410.0 L120.7,412.3 L121.0,404.6 L121.2,406.6 L121.5,401.8 L121.7,402.1 L122.0,405.4 L122.3,402.7 L122.5,402.3 L122.8,401.8 L123.0,398.7 L123.3,394.8 L123.6,392.6 L123.8,391.7 L124.1,393.1 L124.3,391.3 L124.6,391.5 L124.9,385.7 L125.1,386.8 L125.4,394.7 L125.6,394.7 L125.9,403.1 L126.2,408.8 L126.4,407.2 L126.7,416.5 L127.0,415.3 L127.2,414.6 L127.5,412.6 L127.7,405.4 L128.0,408.9 L128.3,403.6 L128.5,402.6 L128.8,401.1 L129.0,394.2 L129.3,389.0 L129.6,387.0 L129.8,386.0 L130.1,384.3 L130.3,388.1 L130.6,387.6 L130.9,392.4 L131.1,401.8 L131.4,406.2 L131.6,405.6 L131.9,398.6 L132.2,387.1 L132.4,386.3 L132.7,384.5 L132.9,381.9 L133.2,387.6 L133.5,384.1 L133.7,385.4 L134.0,390.3 L134.3,387.8 L134.5,390.7 L134.8,393.5 L135.0,391.0 L135.3,394.6 L135.6,397.7 L135.8,392.2 L136.1,390.1 L136.3,389.7 L136.6,386.8 L136.9,386.0 L137.1,387.5 L137.4,389.4 L137.6,393.4 L137.9,400.3 L138.2,399.5 L138.4,395.3 L138.7,394.0 L138.9,396.8 L139.2,398.8 L139.5,402.7 L139.7,397.7 L140.0,394.0 L140.2,393.1 L140.5,396.4 L140.8,401.3 L141.0,402.9 L141.3,405.9 L141.6,402.4 L141.8,398.7 L142.1,398.8 L142.3,392.5 L142.6,393.7 L142.9,395.8 L143.1,392.4 L143.4,403.5 L143.6,407.0 L143.9,409.9 L144.2,414.0 L144.4,408.2 L144.7,404.3 L144.9,406.2 L145.2,402.2 L145.5,403.1 L145.7,399.9 L146.0,396.3 L146.2,393.5 L146.5,392.8 L146.8,392.4 L147.0,396.7 L147.3,401.5 L147.5,405.4 L147.8,409.9 L148.1,411.0 L148.3,414.9 L148.6,408.6 L148.9,404.5 L149.1,400.6 L149.4,395.9 L149.6,393.1 L149.9,390.4 L150.2,389.1 L150.4,390.2 L150.7,388.7 L150.9,393.7 L151.2,395.3 L151.5,399.9 L151.7,400.1 L152.0,400.4 L152.2,402.7 L152.5,398.0 L152.8,404.6 L153.0,406.7 L153.3,411.7 L153.5,415.7 L153.8,411.0 L154.1,409.0 L154.3,401.4 L154.6,399.3 L154.9,405.1 L155.1,408.0 L155.4,411.0 L155.6,410.4 L155.9,408.8 L156.2,404.3 L156.4,401.6 L156.7,402.8 L156.9,404.7 L157.2,404.9 L157.5,404.1 L157.7,404.3 L158.0,402.6 L158.2,403.3 L158.5,404.4 L158.8,402.1 L159.0,399.2 L159.3,399.3 L159.5,398.2 L159.8,398.8 L160.1,400.3 L160.3,401.1 L160.6,403.9 L160.8,405.2 L161.1,404.0 L161.4,400.2 L161.6,398.8 L161.9,398.0 L162.2,401.8 L162.4,401.7 L162.7,400.6 L162.9,400.3 L163.2,399.5 L163.5,402.1 L163.7,405.5 L164.0,408.4 L164.2,406.6 L164.5,408.5 L164.8,410.0 L165.0,404.6 L165.3,401.7 L165.5,395.6 L165.8,391.9 L166.1,392.3 L166.3,391.6 L166.6,394.7 L166.8,399.5 L167.1,395.9 L167.4,395.5 L167.6,393.0 L167.9,389.3 L168.1,394.5 L168.4,395.6 L168.7,396.3 L168.9,398.2 L169.2,396.2 L169.5,393.8 L169.7,391.2 L170.0,392.0 L170.2,396.8 L170.5,405.6 L170.8,404.6 L171.0,403.0 L171.3,397.9 L171.5,392.6 L171.8,397.6 L172.1,390.9 L172.3,389.7 L172.6,385.7 L172.8,383.1 L173.1,386.6 L173.4,383.8 L173.6,386.1 L173.9,384.8 L174.1,386.2 L174.4,391.2 L174.7,387.5 L174.9,385.8 L175.2,390.0 L175.4,386.2 L175.7,387.6 L176.0,387.2 L176.2,389.5 L176.5,394.3 L176.8,395.9 L177.0,402.3 L177.3,401.5 L177.5,402.8 L177.8,410.7 L178.1,408.5 L178.3,405.2 L178.6,401.1 L178.8,391.4 L179.1,389.8 L179.4,390.2 L179.6,390.4 L179.9,393.5 L180.1,396.3 L180.4,399.1 L180.7,400.1 L180.9,400.9 L181.2,399.5 L181.4,398.7 L181.7,396.4 L182.0,395.7 L182.2,399.9 L182.5,401.6 L182.8,398.8 L183.0,398.3 L183.3,396.9 L183.5,397.4 L183.8,403.9 L184.1,408.6 L184.3,405.2 L184.6,401.2 L184.8,396.4 L185.1,394.3 L185.4,393.7 L185.6,394.2 L185.9,395.3 L186.1,390.6 L186.4,390.2 L186.7,383.2 L186.9,380.6 L187.2,379.2 L187.4,378.2 L187.7,384.2 L188.0,389.2 L188.2,394.1 L188.5,399.1 L188.7,398.3 L189.0,400.3 L189.3,399.0 L189.5,391.7 L189.8,392.4 L190.1,388.5 L190.3,389.2 L190.6,391.4 L190.8,390.2 L191.1,387.7 L191.4,385.7 L191.6,381.7 L191.9,381.9 L192.1,384.8 L192.4,387.1 L192.7,392.9 L192.9,395.7 L193.2,398.1 L193.4,395.3 L193.7,393.4 L194.0,390.6 L194.2,395.4 L194.5,400.5 L194.7,400.9 L195.0,405.6 L195.3,403.9 L195.5,405.6 L195.8,407.8 L196.0,403.5 L196.3,397.3 L196.6,391.2 L196.8,387.9 L197.1,389.2 L197.4,391.2 L197.6,393.8 L197.9,397.3 L198.1,398.0 L198.4,400.0 L198.7,400.4 L198.9,400.3 L199.2,401.9 L199.4,401.8 L199.7,406.1 L200.0,402.7 L200.2,402.0 L200.5,400.3 L200.7,394.3 L201.0,396.2 L201.3,396.1 L201.5,392.8 L201.8,389.1 L202.0,387.2 L202.3,382.7 L202.6,383.8 L202.8,390.1 L203.1,391.9 L203.3,395.4 L203.6,397.9 L203.9,397.5 L204.1,402.2 L204.4,411.1 L204.7,412.1 L204.9,417.4 L205.2,416.4 L205.4,414.0 L205.7,413.1 L206.0,407.2 L206.2,409.8 L206.5,407.8 L206.7,407.6 L207.0,405.8 L207.3,401.7 L207.5,402.9 L207.8,403.5 L208.0,402.2 L208.3,404.7 L208.6,403.2 L208.8,401.8 L209.1,408.6 L209.3,408.8 L209.6,413.6 L209.9,415.2 L210.1,410.3 L210.4,407.2 L210.7,406.1 L210.9,402.1 L211.2,407.5 L211.4,411.0 L211.7,404.3 L212.0,405.5 L212.2,401.9 L212.5,395.7 L212.7,398.6 L213.0,398.1 L213.3,398.5 L213.5,401.3 L213.8,400.6 L214.0,398.1 L214.3,397.3 L214.6,396.7 L214.8,400.4 L215.1,405.8 L215.3,402.1 L215.6,401.8 L215.9,397.0 L216.1,391.3 L216.4,392.9 L216.6,391.1 L216.9,390.3 L217.2,395.5 L217.4,392.8 L217.7,390.7 L218.0,389.6 L218.2,387.0 L218.5,389.6 L218.7,393.8 L219.0,394.8 L219.3,393.9 L219.5,396.9 L219.8,399.0 L220.0,403.7 L220.3,408.5 L220.6,410.0 L220.8,410.9 L221.1,416.7 L221.3,416.2 L221.6,417.4 L221.9,421.3 L222.1,417.9 L222.4,421.8 L222.6,416.0 L222.9,412.9 L223.2,409.6 L223.4,404.5 L223.7,406.5 L223.9,406.5 L224.2,405.5 L224.5,406.8 L224.7,406.8 L225.0,406.9 L225.3,406.1 L225.5,403.7 L225.8,404.4 L226.0,401.7 L226.3,402.1 L226.6,404.7 L226.8,406.2 L227.1,404.3 L227.3,403.5 L227.6,398.4 L227.9,395.1 L228.1,392.4 L228.4,390.6 L228.6,394.0 L228.9,396.0 L229.2,397.1 L229.4,395.0 L229.7,396.6 L229.9,393.4 L230.2,398.2 L230.5,405.3 L230.7,408.1 L231.0,411.2 L231.3,413.0 L231.5,411.7 L231.8,411.0 L232.0,409.4 L232.3,405.7 L232.6,397.6 L232.8,397.3 L233.1,395.9 L233.3,397.0 L233.6,402.4 L233.9,400.7 L234.1,403.2 L234.4,402.8 L234.6,406.5 L234.9,404.9 L235.2,403.1 L235.4,407.3 L235.7,405.8 L235.9,410.7 L236.2,412.5 L236.5,410.9 L236.7,405.5 L237.0,403.5 L237.2,396.3 L237.5,394.3 L237.8,395.3 L238.0,389.2 L238.3,393.9 L238.6,392.9 L238.8,391.5 L239.1,394.1 L239.3,395.2 L239.6,394.9 L239.9,395.8 L240.1,399.7 L240.4,399.3 L240.6,399.1 L240.9,394.3 L241.2,390.6 L241.4,390.3 L241.7,390.1 L241.9,391.9 L242.2,396.8 L242.5,396.6 L242.7,401.9 L243.0,407.7 L243.2,405.2 L243.5,405.4 L243.8,401.4 L244.0,398.0 L244.3,393.2 L244.5,391.4 L244.8,390.2 L245.1,390.7 L245.3,389.2 L245.6,388.1 L245.9,390.9 L246.1,392.1 L246.4,395.2 L246.6,396.5 L246.9,396.5 L247.2,393.4 L247.4,398.5 L247.7,401.8 L247.9,399.7 L248.2,404.1 L248.5,402.0 L248.7,402.5 L249.0,405.9 L249.2,409.4 L249.5,411.1 L249.8,410.8 L250.0,408.8 L250.3,402.3 L250.5,398.7 L250.8,399.0 L251.1,399.1 L251.3,396.4 L251.6,396.7 L251.8,396.0 L252.1,396.2 L252.4,397.7 L252.6,397.4 L252.9,397.8 L253.2,397.7 L253.4,401.2 L253.7,404.8 L253.9,401.8 L254.2,406.7 L254.5,406.3 L254.7,407.3 L255.0,411.7 L255.2,406.1 L255.5,409.6" fill="none" stroke="#00ffff" stroke-width="1.5999999999999999" stroke-dasharray="3.4 0.9 1.1 0.9" stroke-linejoin="round" />
<rect x="46.9" y="350.2" width="208.6" height="100.4" fill="none" stroke="#3a3a3a" stroke-width="1"/>
<line x1="46.9" y1="450.55" x2="46.9" y2="448.35" stroke="#3a3a3a" stroke-width="0.8"/>
<line x1="46.9" y1="350.2" x2="46.9" y2="352.4" stroke="#3a3a3a" stroke-width="0.8"/>
<text x="46.9" y="466.7" text-anchor="middle" class="tk">0</text>
<line x1="99.0" y1="450.55" x2="99.0" y2="448.35" stroke="#3a3a3a" stroke-width="0.8"/>
<line x1="99.0" y1="350.2" x2="99.0" y2="352.4" stroke="#3a3a3a" stroke-width="0.8"/>
<text x="99.0" y="466.7" text-anchor="middle" class="tk">5</text>
<line x1="151.2" y1="450.55" x2="151.2" y2="448.35" stroke="#3a3a3a" stroke-width="0.8"/>
<line x1="151.2" y1="350.2" x2="151.2" y2="352.4" stroke="#3a3a3a" stroke-width="0.8"/>
<text x="151.2" y="466.7" text-anchor="middle" class="tk">10</text>
<line x1="203.3" y1="450.55" x2="203.3" y2="448.35" stroke="#3a3a3a" stroke-width="0.8"/>
<line x1="203.3" y1="350.2" x2="203.3" y2="352.4" stroke="#3a3a3a" stroke-width="0.8"/>
<text x="203.3" y="466.7" text-anchor="middle" class="tk">15</text>
<line x1="255.5" y1="450.55" x2="255.5" y2="448.35" stroke="#3a3a3a" stroke-width="0.8"/>
<line x1="255.5" y1="350.2" x2="255.5" y2="352.4" stroke="#3a3a3a" stroke-width="0.8"/>
<text x="255.5" y="466.7" text-anchor="middle" class="tk">20</text>
<line x1="46.9" y1="446.4" x2="49.1" y2="446.4" stroke="#3a3a3a" stroke-width="0.8"/>
<line x1="255.5" y1="446.4" x2="253.3" y2="446.4" stroke="#3a3a3a" stroke-width="0.8"/>
<text x="42.4" y="450.8" text-anchor="end" class="tk">1.8</text>
<line x1="46.9" y1="400.4" x2="49.1" y2="400.4" stroke="#3a3a3a" stroke-width="0.8"/>
<line x1="255.5" y1="400.4" x2="253.3" y2="400.4" stroke="#3a3a3a" stroke-width="0.8"/>
<text x="42.4" y="404.8" text-anchor="end" class="tk">2</text>
<line x1="46.9" y1="354.3" x2="49.1" y2="354.3" stroke="#3a3a3a" stroke-width="0.8"/>
<line x1="255.5" y1="354.3" x2="253.3" y2="354.3" stroke="#3a3a3a" stroke-width="0.8"/>
<text x="42.4" y="358.7" text-anchor="end" class="tk">2.2</text>
<rect x="47.9" y="433.8" width="190.4" height="15.9" fill="#ffffff" stroke="#3a3a3a" stroke-width="1"/>
<line x1="51.7" y1="441.9" x2="71.5" y2="441.9" stroke="#ff0000" stroke-width="1.4" stroke-dasharray="2.8 0.9 1.0 0.9"/>
<text x="73.5" y="446.1" class="lg">VC</text>
<line x1="93.5" y1="441.9" x2="112.7" y2="441.9" stroke="#0000ff" stroke-width="1.4" stroke-dasharray="4 1.7"/>
<text x="114.5" y="446.1" class="lg">FLC</text>
<line x1="139.1" y1="441.9" x2="158.8" y2="441.9" stroke="#000000" stroke-width="1.4"/>
<text x="160.7" y="446.1" class="lg">NAC</text>
<line x1="188.5" y1="441.9" x2="208.5" y2="441.9" stroke="#00ffff" stroke-width="1.5999999999999999" stroke-dasharray="3.4 0.9 1.1 0.9"/>
<text x="210.4" y="446.1" class="lg">GSPI</text>
<text x="151.2" y="481.2" text-anchor="middle" class="lb">Time (s)</text>
<text x="151.2" y="496.4" text-anchor="middle" class="lb">(e)</text>
<g transform="translate(16.2,420.3) rotate(-90)">
<text x="0.0" y="0.0" font-size="13px">P</text>
<text x="7.4" y="6.4" font-size="9.5px">m</text>
<text x="19.6" y="0.0" font-size="13px">(W)</text>
</g>
<text x="47.6" y="347.8" font-size="14px">&#215;10<tspan dy="-5.2" dx="0.6" font-size="10.5px">6</tspan></text>
<clipPath id="clipf"><rect x="329.2" y="350.25" width="208.3" height="100.3"/></clipPath>
<line x1="381.3" y1="350.25" x2="381.3" y2="450.55" stroke="#e8e8e8" stroke-width="0.8"/>
<line x1="433.4" y1="350.25" x2="433.4" y2="450.55" stroke="#e8e8e8" stroke-width="0.8"/>
<line x1="485.4" y1="350.25" x2="485.4" y2="450.55" stroke="#e8e8e8" stroke-width="0.8"/>
<line x1="329.2" y1="425.5" x2="537.5" y2="425.5" stroke="#e8e8e8" stroke-width="0.8"/>
<line x1="329.2" y1="400.4" x2="537.5" y2="400.4" stroke="#e8e8e8" stroke-width="0.8"/>
<line x1="329.2" y1="375.3" x2="537.5" y2="375.3" stroke="#e8e8e8" stroke-width="0.8"/>
<path clip-path="url(#clipf)" d="M329.2,391.3 L329.5,391.0 L329.7,391.4 L330.0,391.2 L330.2,390.9 L330.5,390.0 L330.8,389.6 L331.0,389.0 L331.3,388.5 L331.5,388.0 L331.8,386.9 L332.1,385.6 L332.3,383.4 L332.6,382.6 L332.8,382.0 L333.1,381.9 L333.4,381.4 L333.6,379.9 L333.9,379.4 L334.1,378.4 L334.4,378.2 L334.7,375.9 L334.9,374.2 L335.2,373.7 L335.4,373.9 L335.7,373.3 L336.0,374.6 L336.2,376.3 L336.5,378.5 L336.8,379.2 L337.0,376.6 L337.3,375.9 L337.5,375.3 L337.8,375.3 L338.1,373.4 L338.3,371.1 L338.6,368.8 L338.8,366.4 L339.1,373.3 L339.4,380.9 L339.6,388.4 L339.9,395.7 L340.1,399.3 L340.4,397.7 L340.7,395.6 L340.9,392.9 L341.2,390.3 L341.4,389.7 L341.7,388.0 L342.0,386.0 L342.2,383.0 L342.5,380.9 L342.7,379.4 L343.0,380.4 L343.3,382.9 L343.5,384.3 L343.8,387.4 L344.0,386.5 L344.3,387.3 L344.6,385.2 L344.8,383.6 L345.1,382.1 L345.3,381.1 L345.6,381.4 L345.9,380.4 L346.1,380.5 L346.4,379.9 L346.6,379.0 L346.9,377.2 L347.2,376.4 L347.4,375.3 L347.7,375.5 L347.9,370.5 L348.2,366.5 L348.5,361.8 L348.7,358.1 L349.0,353.9 L349.2,362.0 L349.5,368.6 L349.8,376.4 L350.0,382.6 L350.3,390.0 L350.6,396.7 L350.8,403.8 L351.1,402.0 L351.3,397.9 L351.6,394.7 L351.9,393.2 L352.1,390.0 L352.4,385.3 L352.6,379.5 L352.9,374.9 L353.2,372.5 L353.4,374.7 L353.7,376.4 L353.9,378.3 L354.2,380.6 L354.5,382.8 L354.7,384.1 L355.0,382.8 L355.2,383.0 L355.5,383.7 L355.8,383.5 L356.0,381.8 L356.3,383.7 L356.5,386.9 L356.8,390.5 L357.1,392.9 L357.3,395.1 L357.6,397.6 L357.8,400.6 L358.1,400.3 L358.4,396.8 L358.6,394.1 L358.9,390.7 L359.1,387.8 L359.4,387.2 L359.7,388.7 L359.9,389.2 L360.2,391.2 L360.4,394.4 L360.7,399.3 L361.0,403.7 L361.2,407.6 L361.5,410.9 L361.7,412.2 L362.0,407.6 L362.3,403.5 L362.5,399.3 L362.8,394.9 L363.0,389.1 L363.3,384.2 L363.6,380.2 L363.8,376.8 L364.1,373.4 L364.4,369.3 L364.6,365.0 L364.9,366.9 L365.1,369.4 L365.4,372.2 L365.7,373.8 L365.9,374.0 L366.2,371.3 L366.4,370.2 L366.7,368.3 L367.0,367.1 L367.2,365.2 L367.5,363.6 L367.7,361.9 L368.0,361.5 L368.3,363.6 L368.5,366.7 L368.8,368.4 L369.0,371.2 L369.3,372.6 L369.6,375.2 L369.8,377.4 L370.1,380.6 L370.3,382.6 L370.6,385.9 L370.9,388.7 L371.1,392.2 L371.4,395.3 L371.6,395.6 L371.9,396.2 L372.2,397.0 L372.4,398.4 L372.7,399.7 L372.9,399.5 L373.2,402.8 L373.5,405.7 L373.7,409.2 L374.0,413.0 L374.2,414.7 L374.5,412.8 L374.8,410.7 L375.0,408.3 L375.3,404.5 L375.5,401.1 L375.8,397.6 L376.1,395.2 L376.3,393.2 L376.6,391.6 L376.8,391.2 L377.1,389.5 L377.4,388.2 L377.6,385.1 L377.9,382.5 L378.2,380.4 L378.4,385.6 L378.7,391.6 L378.9,396.2 L379.2,400.6 L379.5,403.3 L379.7,407.4 L380.0,410.2 L380.2,413.6 L380.5,417.0 L380.8,422.1 L381.0,423.3 L381.3,423.7 L381.5,423.9 L381.8,424.0 L382.1,424.2 L382.3,423.9 L382.6,424.1 L382.8,425.0 L383.1,424.8 L383.4,423.9 L383.6,422.6 L383.9,420.2 L384.1,418.6 L384.4,415.6 L384.7,415.2 L384.9,413.2 L385.2,412.5 L385.4,411.1 L385.7,409.9 L386.0,409.4 L386.2,408.4 L386.5,407.6 L386.7,406.6 L387.0,404.3 L387.3,403.4 L387.5,401.2 L387.8,402.5 L388.0,401.5 L388.3,401.2 L388.6,399.0 L388.8,397.5 L389.1,396.6 L389.3,393.9 L389.6,390.5 L389.9,385.6 L390.1,381.6 L390.4,377.7 L390.6,375.5 L390.9,371.6 L391.2,368.4 L391.4,364.4 L391.7,364.2 L392.0,371.4 L392.2,379.4 L392.5,388.5 L392.7,391.1 L393.0,392.9 L393.3,394.1 L393.5,396.2 L393.8,398.1 L394.0,401.4 L394.3,406.3 L394.6,409.8 L394.8,413.7 L395.1,416.1 L395.3,419.0 L395.6,422.6 L395.9,425.6 L396.1,423.0 L396.4,418.3 L396.6,414.1 L396.9,410.9 L397.2,407.3 L397.4,402.9 L397.7,406.6 L397.9,408.7 L398.2,413.1 L398.5,416.0 L398.7,419.9 L399.0,422.9 L399.2,419.6 L399.5,417.0 L399.8,412.4 L400.0,409.6 L400.3,405.6 L400.5,403.3 L400.8,405.4 L401.1,409.1 L401.3,411.5 L401.6,414.7 L401.8,415.9 L402.1,418.3 L402.4,416.6 L402.6,413.7 L402.9,409.3 L403.1,405.0 L403.4,401.2 L403.7,398.7 L403.9,401.4 L404.2,402.3 L404.4,402.9 L404.7,405.3 L405.0,406.7 L405.2,403.6 L405.5,399.0 L405.8,395.0 L406.0,389.7 L406.3,385.4 L406.5,379.6 L406.8,375.1 L407.1,370.8 L407.3,375.5 L407.6,381.5 L407.8,385.5 L408.1,390.6 L408.4,397.3 L408.6,404.6 L408.9,410.5 L409.1,416.6 L409.4,417.4 L409.7,412.0 L409.9,405.9 L410.2,401.6 L410.4,396.3 L410.7,391.5 L411.0,388.8 L411.2,385.3 L411.5,382.7 L411.7,378.2 L412.0,375.7 L412.3,376.3 L412.5,378.7 L412.8,380.1 L413.0,383.3 L413.3,386.7 L413.6,391.0 L413.8,387.1 L414.1,381.5 L414.3,375.8 L414.6,370.7 L414.9,366.2 L415.1,362.6 L415.4,362.4 L415.6,364.1 L415.9,365.8 L416.2,369.3 L416.4,372.7 L416.7,374.8 L416.9,374.9 L417.2,373.1 L417.5,370.7 L417.7,369.9 L418.0,366.8 L418.2,363.9 L418.5,359.9 L418.8,358.9 L419.0,361.0 L419.3,364.7 L419.6,365.1 L419.8,366.8 L420.1,367.2 L420.3,368.6 L420.6,369.9 L420.9,370.1 L421.1,371.3 L421.4,372.4 L421.6,375.0 L421.9,374.9 L422.2,374.1 L422.4,371.7 L422.7,369.9 L422.9,369.5 L423.2,373.3 L423.5,376.7 L423.7,380.6 L424.0,383.5 L424.2,380.6 L424.5,378.5 L424.8,375.0 L425.0,372.9 L425.3,375.7 L425.5,380.2 L425.8,382.9 L426.1,387.9 L426.3,391.3 L426.6,396.0 L426.8,398.8 L427.1,402.2 L427.4,399.0 L427.6,396.2 L427.9,393.7 L428.1,389.4 L428.4,386.1 L428.7,382.0 L428.9,379.2 L429.2,381.6 L429.4,386.3 L429.7,390.0 L430.0,394.2 L430.2,398.7 L430.5,401.8 L430.7,398.5 L431.0,396.5 L431.3,393.6 L431.5,390.3 L431.8,385.2 L432.0,380.7 L432.3,381.5 L432.6,384.0 L432.8,387.6 L433.1,390.0 L433.4,391.7 L433.6,392.6 L433.9,395.1 L434.1,397.2 L434.4,399.3 L434.7,399.7 L434.9,401.5 L435.2,404.1 L435.4,406.8 L435.7,408.1 L436.0,409.0 L436.2,409.1 L436.5,409.3 L436.7,409.5 L437.0,410.2 L437.3,410.3 L437.5,408.8 L437.8,407.9 L438.0,406.0 L438.3,403.8 L438.6,401.9 L438.8,401.2 L439.1,400.2 L439.3,398.9 L439.6,397.0 L439.9,395.6 L440.1,393.0 L440.4,389.6 L440.6,387.8 L440.9,386.0 L441.2,384.6 L441.4,383.6 L441.7,382.8 L441.9,382.2 L442.2,380.2 L442.5,379.6 L442.7,379.7 L443.0,381.1 L443.2,381.4 L443.5,382.0 L443.8,384.6 L444.0,386.0 L444.3,388.4 L444.5,390.3 L444.8,392.1 L445.1,394.0 L445.3,394.3 L445.6,396.0 L445.8,396.5 L446.1,394.4 L446.4,392.2 L446.6,390.0 L446.9,387.7 L447.1,385.5 L447.4,383.6 L447.7,382.3 L447.9,380.7 L448.2,380.0 L448.5,378.9 L448.7,379.3 L449.0,380.0 L449.2,381.6 L449.5,383.2 L449.8,386.7 L450.0,388.4 L450.3,385.2 L450.5,381.6 L450.8,379.2 L451.1,377.5 L451.3,375.9 L451.6,373.5 L451.8,373.7 L452.1,382.3 L452.4,390.3 L452.6,398.0 L452.9,398.4 L453.1,394.7 L453.4,391.7 L453.7,388.1 L453.9,384.5 L454.2,379.4 L454.4,376.3 L454.7,372.7 L455.0,370.6 L455.2,369.1 L455.5,366.3 L455.7,362.7 L456.0,360.1 L456.3,358.0 L456.5,355.6 L456.8,352.9 L457.0,350.8 L457.3,355.5 L457.6,359.4 L457.8,363.4 L458.1,367.0 L458.3,370.6 L458.6,373.9 L458.9,378.2 L459.1,380.0 L459.4,383.9 L459.6,384.3 L459.9,387.0 L460.2,387.9 L460.4,389.1 L460.7,386.3 L460.9,383.1 L461.2,380.7 L461.5,377.6 L461.7,375.1 L462.0,372.5 L462.3,372.5 L462.5,373.9 L462.8,375.4 L463.0,376.4 L463.3,378.7 L463.6,381.1 L463.8,381.6 L464.1,381.2 L464.3,379.5 L464.6,377.5 L464.9,377.5 L465.1,381.2 L465.4,386.1 L465.6,390.3 L465.9,394.8 L466.2,396.8 L466.4,392.9 L466.7,390.5 L466.9,388.3 L467.2,385.2 L467.5,381.2 L467.7,378.7 L468.0,376.6 L468.2,374.1 L468.5,370.7 L468.8,366.6 L469.0,362.6 L469.3,360.3 L469.5,358.5 L469.8,359.5 L470.1,363.2 L470.3,366.7 L470.6,370.4 L470.8,372.1 L471.1,370.7 L471.4,370.1 L471.6,369.8 L471.9,370.3 L472.1,369.8 L472.4,368.8 L472.7,368.0 L472.9,366.1 L473.2,365.1 L473.4,363.8 L473.7,364.2 L474.0,364.6 L474.2,364.4 L474.5,362.6 L474.7,362.4 L475.0,364.8 L475.3,369.2 L475.5,371.8 L475.8,375.8 L476.1,379.6 L476.3,384.1 L476.6,387.4 L476.8,390.4 L477.1,393.7 L477.4,397.7 L477.6,401.7 L477.9,401.9 L478.1,393.4 L478.4,385.7 L478.7,379.2 L478.9,375.1 L479.2,377.7 L479.4,379.6 L479.7,382.1 L480.0,384.6 L480.2,387.1 L480.5,388.4 L480.7,391.4 L481.0,392.0 L481.3,393.8 L481.5,394.2 L481.8,395.2 L482.0,394.5 L482.3,393.3 L482.6,391.4 L482.8,390.2 L483.1,389.7 L483.3,388.8 L483.6,386.9 L483.9,386.3 L484.1,382.9 L484.4,380.8 L484.6,378.1 L484.9,377.5 L485.2,381.8 L485.4,386.3 L485.7,390.3 L485.9,395.2 L486.2,398.6 L486.5,400.9 L486.7,403.0 L487.0,404.4 L487.2,406.9 L487.5,410.3 L487.8,408.8 L488.0,407.4 L488.3,405.5 L488.5,404.8 L488.8,403.1 L489.1,401.1 L489.3,400.1 L489.6,399.5 L489.9,399.0 L490.1,397.9 L490.4,398.9 L490.6,400.4 L490.9,402.1 L491.2,402.9 L491.4,403.2 L491.7,403.1 L491.9,401.8 L492.2,400.5 L492.5,400.0 L492.7,397.6 L493.0,399.6 L493.2,400.6 L493.5,403.4 L493.8,405.1 L494.0,404.2 L494.3,401.6 L494.5,399.9 L494.8,398.2 L495.1,398.2 L495.3,397.3 L495.6,395.6 L495.8,392.8 L496.1,391.5 L496.4,390.4 L496.6,389.6 L496.9,387.4 L497.1,386.0 L497.4,384.1 L497.7,381.6 L497.9,379.7 L498.2,378.0 L498.4,376.2 L498.7,373.2 L499.0,371.9 L499.2,369.5 L499.5,368.1 L499.7,369.4 L500.0,373.1 L500.3,377.0 L500.5,379.1 L500.8,383.3 L501.0,385.4 L501.3,389.1 L501.6,390.9 L501.8,393.0 L502.1,394.5 L502.3,397.1 L502.6,399.0 L502.9,402.2 L503.1,404.1 L503.4,407.6 L503.7,409.7 L503.9,412.7 L504.2,414.2 L504.4,417.7 L504.7,414.9 L505.0,412.3 L505.2,407.2 L505.5,404.3 L505.7,399.2 L506.0,399.7 L506.3,399.1 L506.5,399.9 L506.8,398.9 L507.0,397.0 L507.3,395.7 L507.6,398.0 L507.8,400.8 L508.1,403.6 L508.3,407.8 L508.6,410.3 L508.9,412.5 L509.1,408.8 L509.4,407.3 L509.6,405.8 L509.9,402.0 L510.2,398.6 L510.4,395.5 L510.7,395.5 L510.9,393.6 L511.2,392.3 L511.5,391.0 L511.7,390.8 L512.0,389.3 L512.2,392.4 L512.5,399.2 L512.8,406.3 L513.0,414.2 L513.3,419.3 L513.5,415.6 L513.8,411.7 L514.1,407.2 L514.3,403.0 L514.6,399.3 L514.8,398.8 L515.1,398.0 L515.4,396.5 L515.6,395.4 L515.9,398.4 L516.1,402.7 L516.4,405.8 L516.7,408.6 L516.9,411.8 L517.2,414.4 L517.5,418.2 L517.7,415.5 L518.0,413.8 L518.2,409.9 L518.5,406.9 L518.8,402.8 L519.0,399.6 L519.3,396.2 L519.5,395.2 L519.8,394.8 L520.1,393.0 L520.3,390.9 L520.6,388.9 L520.8,387.3 L521.1,386.5 L521.4,385.4 L521.6,385.3 L521.9,383.4 L522.1,382.6 L522.4,382.6 L522.7,383.5 L522.9,382.1 L523.2,380.8 L523.4,379.6 L523.7,379.2 L524.0,378.1 L524.2,376.4 L524.5,374.8 L524.7,374.9 L525.0,376.0 L525.3,378.4 L525.5,379.6 L525.8,381.1 L526.0,381.6 L526.3,380.6 L526.6,379.4 L526.8,379.4 L527.1,378.7 L527.3,379.3 L527.6,379.2 L527.9,379.5 L528.1,379.8 L528.4,382.0 L528.6,383.5 L528.9,384.7 L529.2,386.0 L529.4,388.2 L529.7,389.7 L529.9,390.2 L530.2,391.3 L530.5,393.0 L530.7,394.9 L531.0,396.6 L531.3,398.6 L531.5,400.9 L531.8,401.6 L532.0,400.5 L532.3,397.7 L532.6,396.2 L532.8,394.8 L533.1,394.9 L533.3,393.9 L533.6,394.3 L533.9,394.3 L534.1,394.6 L534.4,394.4 L534.6,395.3 L534.9,395.5 L535.2,397.8 L535.4,400.5 L535.7,403.0 L535.9,405.7 L536.2,407.6 L536.5,410.4 L536.7,409.9 L537.0,407.6 L537.2,406.3 L537.5,404.5" fill="none" stroke="#ff0000" stroke-width="1.4" stroke-dasharray="2.8 0.9 1.0 0.9" stroke-linejoin="round" />
<path clip-path="url(#clipf)" d="M329.2,391.5 L329.5,391.4 L329.7,391.5 L330.0,391.7 L330.2,391.9 L330.5,391.4 L330.8,390.9 L331.0,390.2 L331.3,389.7 L331.5,389.2 L331.8,388.5 L332.1,388.3 L332.3,387.4 L332.6,386.8 L332.8,386.1 L333.1,384.6 L333.4,382.9 L333.6,383.0 L333.9,383.4 L334.1,382.7 L334.4,380.9 L334.7,379.5 L334.9,378.5 L335.2,378.2 L335.4,376.8 L335.7,376.2 L336.0,374.4 L336.2,374.0 L336.5,373.8 L336.8,374.6 L337.0,375.9 L337.3,376.9 L337.5,377.0 L337.8,377.1 L338.1,376.4 L338.3,375.2 L338.6,372.9 L338.8,371.7 L339.1,370.1 L339.4,369.3 L339.6,370.9 L339.9,374.1 L340.1,378.3 L340.4,383.5 L340.7,387.6 L340.9,390.8 L341.2,391.9 L341.4,392.9 L341.7,391.1 L342.0,390.0 L342.2,388.8 L342.5,388.4 L342.7,387.3 L343.0,386.4 L343.3,384.3 L343.5,383.3 L343.8,382.6 L344.0,383.6 L344.3,383.7 L344.6,384.7 L344.8,385.2 L345.1,386.0 L345.3,385.3 L345.6,383.9 L345.9,383.7 L346.1,383.0 L346.4,382.0 L346.6,381.3 L346.9,381.0 L347.2,381.5 L347.4,380.4 L347.7,379.0 L347.9,377.3 L348.2,376.3 L348.5,374.4 L348.7,372.2 L349.0,369.1 L349.2,366.5 L349.5,363.1 L349.8,363.0 L350.0,364.9 L350.3,368.0 L350.6,372.2 L350.8,377.1 L351.1,383.4 L351.3,390.4 L351.6,393.9 L351.9,395.4 L352.1,394.9 L352.4,394.3 L352.6,392.0 L352.9,388.8 L353.2,385.6 L353.4,382.4 L353.7,379.1 L353.9,377.3 L354.2,376.2 L354.5,377.1 L354.7,377.8 L355.0,378.9 L355.2,380.0 L355.5,381.3 L355.8,382.4 L356.0,383.0 L356.3,382.9 L356.5,382.5 L356.8,383.4 L357.1,385.6 L357.3,387.2 L357.6,388.7 L357.8,389.7 L358.1,391.6 L358.4,394.0 L358.6,395.8 L358.9,396.1 L359.1,395.6 L359.4,393.5 L359.7,391.9 L359.9,390.3 L360.2,390.1 L360.4,389.9 L360.7,390.9 L361.0,392.4 L361.2,395.4 L361.5,397.4 L361.7,400.1 L362.0,401.8 L362.3,404.8 L362.5,406.0 L362.8,406.2 L363.0,403.5 L363.3,400.9 L363.6,396.6 L363.8,394.5 L364.1,390.2 L364.4,386.4 L364.6,381.5 L364.9,377.5 L365.1,374.0 L365.4,372.3 L365.7,371.0 L365.9,370.5 L366.2,370.8 L366.4,371.8 L366.7,372.4 L367.0,371.4 L367.2,370.2 L367.5,369.1 L367.7,368.2 L368.0,367.0 L368.3,365.5 L368.5,363.6 L368.8,363.2 L369.0,363.7 L369.3,365.2 L369.6,366.6 L369.8,368.6 L370.1,370.6 L370.3,373.2 L370.6,375.1 L370.9,377.5 L371.1,380.2 L371.4,383.3 L371.6,386.8 L371.9,389.5 L372.2,391.1 L372.4,392.5 L372.7,394.1 L372.9,395.6 L373.2,396.3 L373.5,397.0 L373.7,398.9 L374.0,401.6 L374.2,403.7 L374.5,406.3 L374.8,408.7 L375.0,410.0 L375.3,410.1 L375.5,408.7 L375.8,408.2 L376.1,405.6 L376.3,404.1 L376.6,401.6 L376.8,399.7 L377.1,397.8 L377.4,395.0 L377.6,392.7 L377.9,390.3 L378.2,388.6 L378.4,386.6 L378.7,384.8 L378.9,385.8 L379.2,389.3 L379.5,393.2 L379.7,399.1 L380.0,404.4 L380.2,409.6 L380.5,415.1 L380.8,419.8 L381.0,425.4 L381.3,429.6 L381.5,431.4 L381.8,431.9 L382.1,431.2 L382.3,431.8 L382.6,431.1 L382.8,430.9 L383.1,429.9 L383.4,428.9 L383.6,427.4 L383.9,425.1 L384.1,423.6 L384.4,421.9 L384.7,420.9 L384.9,419.1 L385.2,418.1 L385.4,415.9 L385.7,414.7 L386.0,412.9 L386.2,412.2 L386.5,410.6 L386.7,409.3 L387.0,408.2 L387.3,407.6 L387.5,406.7 L387.8,405.4 L388.0,404.4 L388.3,403.1 L388.6,401.9 L388.8,400.9 L389.1,400.9 L389.3,399.9 L389.6,398.4 L389.9,396.6 L390.1,395.2 L390.4,394.1 L390.6,390.7 L390.9,387.6 L391.2,382.7 L391.4,380.2 L391.7,376.1 L392.0,372.7 L392.2,369.6 L392.5,371.0 L392.7,374.5 L393.0,379.5 L393.3,383.6 L393.5,387.3 L393.8,390.2 L394.0,392.8 L394.3,394.8 L394.6,396.9 L394.8,398.7 L395.1,401.3 L395.3,402.7 L395.6,405.1 L395.9,406.4 L396.1,409.6 L396.4,411.3 L396.6,413.3 L396.9,412.0 L397.2,411.1 L397.4,410.0 L397.7,409.3 L397.9,407.4 L398.2,406.6 L398.5,406.7 L398.7,408.7 L399.0,410.6 L399.2,412.2 L399.5,412.6 L399.8,412.8 L400.0,412.5 L400.3,412.8 L400.5,410.8 L400.8,409.7 L401.1,407.7 L401.3,408.1 L401.6,408.1 L401.8,408.4 L402.1,408.1 L402.4,409.4 L402.6,410.4 L402.9,411.6 L403.1,410.9 L403.4,410.5 L403.7,409.4 L403.9,407.9 L404.2,404.9 L404.4,403.8 L404.7,403.4 L405.0,404.0 L405.2,405.1 L405.5,405.5 L405.8,405.1 L406.0,402.2 L406.3,399.2 L406.5,395.6 L406.8,392.1 L407.1,388.3 L407.3,384.1 L407.6,380.2 L407.8,378.8 L408.1,380.0 L408.4,381.2 L408.6,384.6 L408.9,387.8 L409.1,391.9 L409.4,395.9 L409.7,401.1 L409.9,405.9 L410.2,407.6 L410.4,406.5 L410.7,404.2 L411.0,401.2 L411.2,397.2 L411.5,394.3 L411.7,391.1 L412.0,388.8 L412.3,385.1 L412.5,381.4 L412.8,379.9 L413.0,379.4 L413.3,380.0 L413.6,381.3 L413.8,384.1 L414.1,386.0 L414.3,386.2 L414.6,384.1 L414.9,382.1 L415.1,379.1 L415.4,375.7 L415.6,371.8 L415.9,368.7 L416.2,367.2 L416.4,367.4 L416.7,368.0 L416.9,369.6 L417.2,370.9 L417.5,372.1 L417.7,372.1 L418.0,372.1 L418.2,371.3 L418.5,369.8 L418.8,367.2 L419.0,365.4 L419.3,363.7 L419.6,363.3 L419.8,361.8 L420.1,361.5 L420.3,361.2 L420.6,361.9 L420.9,362.2 L421.1,361.5 L421.4,362.3 L421.6,363.1 L421.9,365.9 L422.2,368.7 L422.4,370.2 L422.7,370.2 L422.9,369.2 L423.2,368.8 L423.5,369.8 L423.7,371.8 L424.0,374.0 L424.2,375.1 L424.5,377.7 L424.8,378.3 L425.0,378.7 L425.3,377.5 L425.5,375.7 L425.8,376.0 L426.1,378.2 L426.3,381.2 L426.6,382.9 L426.8,385.0 L427.1,387.9 L427.4,392.1 L427.6,395.3 L427.9,396.3 L428.1,395.7 L428.4,395.0 L428.7,393.1 L428.9,390.7 L429.2,387.5 L429.4,383.9 L429.7,383.2 L430.0,384.5 L430.2,386.8 L430.5,388.7 L430.7,391.9 L431.0,395.2 L431.3,396.5 L431.5,396.0 L431.8,394.8 L432.0,392.9 L432.3,390.3 L432.6,387.4 L432.8,385.7 L433.1,385.6 L433.4,386.6 L433.6,387.9 L433.9,389.0 L434.1,390.3 L434.4,391.5 L434.7,393.4 L434.9,395.2 L435.2,397.1 L435.4,399.5 L435.7,401.4 L436.0,403.6 L436.2,404.7 L436.5,406.9 L436.7,408.6 L437.0,411.1 L437.3,412.8 L437.5,414.7 L437.8,415.8 L438.0,416.0 L438.3,415.4 L438.6,413.7 L438.8,412.2 L439.1,410.2 L439.3,408.5 L439.6,406.4 L439.9,404.0 L440.1,401.3 L440.4,399.0 L440.6,396.5 L440.9,394.9 L441.2,392.5 L441.4,391.1 L441.7,389.7 L441.9,388.3 L442.2,387.5 L442.5,385.5 L442.7,383.8 L443.0,381.2 L443.2,379.9 L443.5,380.5 L443.8,381.8 L444.0,382.4 L444.3,383.0 L444.5,383.6 L444.8,385.9 L445.1,387.6 L445.3,390.1 L445.6,391.4 L445.8,392.1 L446.1,393.2 L446.4,394.1 L446.6,394.6 L446.9,393.4 L447.1,392.7 L447.4,391.4 L447.7,389.1 L447.9,387.8 L448.2,385.8 L448.5,384.3 L448.7,382.0 L449.0,380.0 L449.2,380.6 L449.5,380.8 L449.8,382.3 L450.0,382.4 L450.3,383.6 L450.5,384.4 L450.8,384.8 L451.1,383.8 L451.3,383.4 L451.6,381.1 L451.8,379.7 L452.1,377.7 L452.4,377.2 L452.6,379.4 L452.9,382.9 L453.1,387.5 L453.4,390.3 L453.7,391.2 L453.9,391.5 L454.2,391.4 L454.4,389.6 L454.7,386.9 L455.0,383.4 L455.2,380.8 L455.5,376.7 L455.7,374.5 L456.0,371.4 L456.3,368.9 L456.5,365.8 L456.8,363.6 L457.0,361.1 L457.3,359.2 L457.6,357.4 L457.8,358.2 L458.1,358.3 L458.3,359.3 L458.6,361.5 L458.9,363.8 L459.1,367.1 L459.4,370.1 L459.6,374.0 L459.9,376.5 L460.2,379.1 L460.4,381.4 L460.7,383.2 L460.9,384.6 L461.2,384.5 L461.5,384.8 L461.7,384.3 L462.0,382.8 L462.3,380.2 L462.5,377.4 L462.8,375.7 L463.0,374.8 L463.3,375.3 L463.6,375.9 L463.8,377.4 L464.1,378.6 L464.3,379.4 L464.6,379.1 L464.9,378.6 L465.1,378.3 L465.4,378.1 L465.6,379.2 L465.9,380.7 L466.2,383.5 L466.4,386.3 L466.7,389.6 L466.9,391.3 L467.2,392.1 L467.5,391.8 L467.7,389.7 L468.0,387.4 L468.2,384.7 L468.5,382.4 L468.8,379.0 L469.0,375.4 L469.3,372.6 L469.5,369.5 L469.8,367.3 L470.1,363.9 L470.3,362.7 L470.6,363.2 L470.8,364.6 L471.1,366.1 L471.4,368.2 L471.6,369.5 L471.9,370.4 L472.1,369.6 L472.4,369.7 L472.7,369.4 L472.9,368.6 L473.2,366.8 L473.4,365.8 L473.7,364.7 L474.0,364.1 L474.2,362.7 L474.5,361.8 L474.7,360.5 L475.0,359.4 L475.3,357.7 L475.5,357.4 L475.8,358.7 L476.1,361.2 L476.3,365.2 L476.6,368.9 L476.8,374.5 L477.1,379.2 L477.4,383.6 L477.6,387.0 L477.9,390.0 L478.1,393.4 L478.4,395.9 L478.7,395.7 L478.9,393.7 L479.2,389.7 L479.4,385.4 L479.7,383.1 L480.0,381.6 L480.2,381.8 L480.5,381.8 L480.7,383.6 L481.0,385.0 L481.3,387.6 L481.5,389.2 L481.8,390.8 L482.0,391.5 L482.3,391.8 L482.6,392.7 L482.8,393.7 L483.1,394.1 L483.3,393.1 L483.6,392.2 L483.9,391.3 L484.1,390.5 L484.4,389.0 L484.6,387.1 L484.9,385.5 L485.2,383.9 L485.4,382.0 L485.7,382.9 L485.9,386.1 L486.2,390.6 L486.5,395.8 L486.7,400.4 L487.0,405.1 L487.2,410.0 L487.5,414.6 L487.8,419.0 L488.0,423.1 L488.3,426.0 L488.5,427.1 L488.8,427.0 L489.1,425.5 L489.3,424.6 L489.6,423.3 L489.9,422.7 L490.1,421.7 L490.4,421.2 L490.6,419.2 L490.9,416.9 L491.2,414.3 L491.4,413.9 L491.7,413.7 L491.9,413.3 L492.2,412.6 L492.5,412.9 L492.7,412.0 L493.0,411.2 L493.2,409.8 L493.5,408.9 L493.8,407.9 L494.0,406.8 L494.3,406.2 L494.5,405.6 L494.8,405.3 L495.1,404.6 L495.3,403.4 L495.6,401.6 L495.8,400.5 L496.1,399.6 L496.4,398.6 L496.6,397.3 L496.9,395.5 L497.1,393.7 L497.4,391.6 L497.7,389.5 L497.9,388.0 L498.2,385.9 L498.4,384.5 L498.7,380.8 L499.0,378.7 L499.2,375.4 L499.5,372.7 L499.7,369.5 L500.0,366.9 L500.3,366.2 L500.5,366.2 L500.8,367.0 L501.0,368.6 L501.3,371.5 L501.6,375.3 L501.8,379.1 L502.1,382.5 L502.3,385.9 L502.6,387.7 L502.9,391.1 L503.1,392.8 L503.4,395.7 L503.7,397.5 L503.9,400.4 L504.2,403.6 L504.4,406.3 L504.7,410.4 L505.0,413.6 L505.2,415.4 L505.5,414.2 L505.7,412.6 L506.0,409.9 L506.3,406.3 L506.5,404.2 L506.8,402.1 L507.0,401.5 L507.3,400.4 L507.6,400.2 L507.8,398.5 L508.1,399.1 L508.3,400.3 L508.6,403.3 L508.9,405.8 L509.1,409.3 L509.4,413.0 L509.6,415.4 L509.9,415.5 L510.2,414.2 L510.4,410.6 L510.7,406.8 L510.9,403.2 L511.2,400.1 L511.5,398.2 L511.7,396.5 L512.0,395.0 L512.2,392.8 L512.5,390.5 L512.8,391.4 L513.0,394.0 L513.3,398.2 L513.5,403.1 L513.8,408.5 L514.1,410.6 L514.3,411.0 L514.6,410.6 L514.8,408.4 L515.1,406.5 L515.4,403.9 L515.6,402.3 L515.9,399.7 L516.1,398.6 L516.4,398.6 L516.7,399.6 L516.9,401.5 L517.2,403.6 L517.5,406.2 L517.7,409.0 L518.0,412.1 L518.2,413.0 L518.5,412.0 L518.8,410.8 L519.0,409.3 L519.3,407.2 L519.5,403.9 L519.8,400.9 L520.1,399.6 L520.3,398.2 L520.6,396.3 L520.8,393.2 L521.1,391.8 L521.4,391.3 L521.6,390.4 L521.9,389.0 L522.1,387.5 L522.4,387.0 L522.7,385.6 L522.9,384.5 L523.2,383.1 L523.4,383.1 L523.7,382.5 L524.0,381.3 L524.2,378.6 L524.5,376.4 L524.7,373.2 L525.0,370.2 L525.3,368.1 L525.5,367.9 L525.8,368.5 L526.0,368.8 L526.3,370.3 L526.6,372.2 L526.8,373.0 L527.1,372.8 L527.3,371.9 L527.6,370.9 L527.9,369.5 L528.1,370.5 L528.4,371.0 L528.6,372.6 L528.9,373.7 L529.2,375.9 L529.4,377.9 L529.7,380.0 L529.9,382.3 L530.2,384.4 L530.5,386.6 L530.7,388.8 L531.0,391.0 L531.3,392.7 L531.5,393.9 L531.8,395.0 L532.0,396.3 L532.3,397.2 L532.6,398.0 L532.8,398.3 L533.1,398.7 L533.3,398.3 L533.6,397.4 L533.9,395.7 L534.1,395.3 L534.4,394.8 L534.6,395.2 L534.9,394.4 L535.2,394.9 L535.4,394.9 L535.7,396.0 L535.9,396.6 L536.2,398.8 L536.5,399.8 L536.7,401.2 L537.0,402.7 L537.2,403.4 L537.5,404.6" fill="none" stroke="#0000ff" stroke-width="1.4" stroke-dasharray="4 1.7" stroke-linejoin="round" />
<path clip-path="url(#clipf)" d="M329.2,391.6 L329.5,391.6 L329.7,391.5 L330.0,391.3 L330.2,391.2 L330.5,391.3 L330.8,391.0 L331.0,391.1 L331.3,390.7 L331.5,391.6 L331.8,391.1 L332.1,390.6 L332.3,390.7 L332.6,391.1 L332.8,390.8 L333.1,389.3 L333.4,390.4 L333.6,391.2 L333.9,390.9 L334.1,390.6 L334.4,390.8 L334.7,391.3 L334.9,390.0 L335.2,388.9 L335.4,388.4 L335.7,387.6 L336.0,388.3 L336.2,389.9 L336.5,390.7 L336.8,391.1 L337.0,391.1 L337.3,391.6 L337.5,390.0 L337.8,389.3 L338.1,388.5 L338.3,388.0 L338.6,387.2 L338.8,386.3 L339.1,388.9 L339.4,389.8 L339.6,392.0 L339.9,393.5 L340.1,394.3 L340.4,393.6 L340.7,393.6 L340.9,393.8 L341.2,392.9 L341.4,392.5 L341.7,393.1 L342.0,393.6 L342.2,392.8 L342.5,391.6 L342.7,391.1 L343.0,391.3 L343.3,391.0 L343.5,390.6 L343.8,390.1 L344.0,390.2 L344.3,389.0 L344.6,389.5 L344.8,389.2 L345.1,390.2 L345.3,390.8 L345.6,390.8 L345.9,392.1 L346.1,391.6 L346.4,392.1 L346.6,390.9 L346.9,391.7 L347.2,391.6 L347.4,390.4 L347.7,390.4 L347.9,388.8 L348.2,388.4 L348.5,387.2 L348.7,385.5 L349.0,384.9 L349.2,386.7 L349.5,388.9 L349.8,389.7 L350.0,391.0 L350.3,393.3 L350.6,396.0 L350.8,399.9 L351.1,399.2 L351.3,397.5 L351.6,394.0 L351.9,392.8 L352.1,392.4 L352.4,390.9 L352.6,390.3 L352.9,388.7 L353.2,388.7 L353.4,388.7 L353.7,388.5 L353.9,389.1 L354.2,389.8 L354.5,390.7 L354.7,391.7 L355.0,391.3 L355.2,392.2 L355.5,392.3 L355.8,391.9 L356.0,392.3 L356.3,392.3 L356.5,393.0 L356.8,392.9 L357.1,392.3 L357.3,392.8 L357.6,393.3 L357.8,394.2 L358.1,393.8 L358.4,393.5 L358.6,392.9 L358.9,392.3 L359.1,392.2 L359.4,392.5 L359.7,392.1 L359.9,391.4 L360.2,391.3 L360.4,392.2 L360.7,392.0 L361.0,391.3 L361.2,391.7 L361.5,393.0 L361.7,393.8 L362.0,392.9 L362.3,392.1 L362.5,392.7 L362.8,392.3 L363.0,391.3 L363.3,391.3 L363.6,389.0 L363.8,387.6 L364.1,386.1 L364.4,386.6 L364.6,385.3 L364.9,387.0 L365.1,389.2 L365.4,390.1 L365.7,390.3 L365.9,389.8 L366.2,389.3 L366.4,387.8 L366.7,387.5 L367.0,387.6 L367.2,386.9 L367.5,386.8 L367.7,386.8 L368.0,386.7 L368.3,387.7 L368.5,388.9 L368.8,391.2 L369.0,391.6 L369.3,392.5 L369.6,393.9 L369.8,394.3 L370.1,394.0 L370.3,393.4 L370.6,393.9 L370.9,394.2 L371.1,393.8 L371.4,393.6 L371.6,393.9 L371.9,394.4 L372.2,395.0 L372.4,395.3 L372.7,395.4 L372.9,394.5 L373.2,395.6 L373.5,396.5 L373.7,396.1 L374.0,395.8 L374.2,396.4 L374.5,396.6 L374.8,395.6 L375.0,394.1 L375.3,392.2 L375.5,392.3 L375.8,391.1 L376.1,390.5 L376.3,389.5 L376.6,389.0 L376.8,390.0 L377.1,389.9 L377.4,390.3 L377.6,389.3 L377.9,389.0 L378.2,388.9 L378.4,390.2 L378.7,391.4 L378.9,391.5 L379.2,393.5 L379.5,395.0 L379.7,396.4 L380.0,397.9 L380.2,398.2 L380.5,401.4 L380.8,402.3 L381.0,398.9 L381.3,393.9 L381.5,389.4 L381.8,388.4 L382.1,390.4 L382.3,394.9 L382.6,398.0 L382.8,398.5 L383.1,396.5 L383.4,395.2 L383.6,394.4 L383.9,393.4 L384.1,393.2 L384.4,393.7 L384.7,394.4 L384.9,395.6 L385.2,395.5 L385.4,394.2 L385.7,393.9 L386.0,392.6 L386.2,392.8 L386.5,392.4 L386.7,392.1 L387.0,392.9 L387.3,392.4 L387.5,392.4 L387.8,391.6 L388.0,390.8 L388.3,390.6 L388.6,389.9 L388.8,390.3 L389.1,390.5 L389.3,389.8 L389.6,388.5 L389.9,388.2 L390.1,388.8 L390.4,388.0 L390.6,386.5 L390.9,386.6 L391.2,386.4 L391.4,386.2 L391.7,386.2 L392.0,388.6 L392.2,391.5 L392.5,393.8 L392.7,394.9 L393.0,393.7 L393.3,393.8 L393.5,394.5 L393.8,394.9 L394.0,394.9 L394.3,394.4 L394.6,395.7 L394.8,396.5 L395.1,396.2 L395.3,397.3 L395.6,398.9 L395.9,400.5 L396.1,401.8 L396.4,401.4 L396.6,399.7 L396.9,396.4 L397.2,393.5 L397.4,392.7 L397.7,392.7 L397.9,393.9 L398.2,394.3 L398.5,394.6 L398.7,395.9 L399.0,395.6 L399.2,394.7 L399.5,393.3 L399.8,393.2 L400.0,392.1 L400.3,390.6 L400.5,391.2 L400.8,393.4 L401.1,393.3 L401.3,393.9 L401.6,394.1 L401.8,395.2 L402.1,395.6 L402.4,393.9 L402.6,394.4 L402.9,393.0 L403.1,392.8 L403.4,391.1 L403.7,389.7 L403.9,390.8 L404.2,391.4 L404.4,391.1 L404.7,391.8 L405.0,392.3 L405.2,392.6 L405.5,391.8 L405.8,389.9 L406.0,389.8 L406.3,388.5 L406.5,387.3 L406.8,384.9 L407.1,384.5 L407.3,386.8 L407.6,389.5 L407.8,391.5 L408.1,394.4 L408.4,396.6 L408.6,399.3 L408.9,400.7 L409.1,402.8 L409.4,404.5 L409.7,400.7 L409.9,397.0 L410.2,392.9 L410.4,391.6 L410.7,390.1 L411.0,388.3 L411.2,388.0 L411.5,387.7 L411.7,388.0 L412.0,387.1 L412.3,389.1 L412.5,390.4 L412.8,391.7 L413.0,392.1 L413.3,392.7 L413.6,396.0 L413.8,396.7 L414.1,397.1 L414.3,393.8 L414.6,390.6 L414.9,388.2 L415.1,386.4 L415.4,387.5 L415.6,388.0 L415.9,388.8 L416.2,390.1 L416.4,390.5 L416.7,390.4 L416.9,389.5 L417.2,388.6 L417.5,388.0 L417.7,387.2 L418.0,385.9 L418.2,386.0 L418.5,386.4 L418.8,385.9 L419.0,387.2 L419.3,387.1 L419.6,389.0 L419.8,388.9 L420.1,388.3 L420.3,389.6 L420.6,389.3 L420.9,389.6 L421.1,389.5 L421.4,390.0 L421.6,390.9 L421.9,390.7 L422.2,391.1 L422.4,390.9 L422.7,390.3 L422.9,390.3 L423.2,390.8 L423.5,390.8 L423.7,391.2 L424.0,391.1 L424.2,390.9 L424.5,390.2 L424.8,389.7 L425.0,389.6 L425.3,389.3 L425.5,390.7 L425.8,391.7 L426.1,392.6 L426.3,393.5 L426.6,393.0 L426.8,395.1 L427.1,395.9 L427.4,394.3 L427.6,393.6 L427.9,392.0 L428.1,391.3 L428.4,389.4 L428.7,388.7 L428.9,387.9 L429.2,388.2 L429.4,390.0 L429.7,390.9 L430.0,393.2 L430.2,393.9 L430.5,394.7 L430.7,394.5 L431.0,394.1 L431.3,394.7 L431.5,393.0 L431.8,392.8 L432.0,392.0 L432.3,392.6 L432.6,392.9 L432.8,393.0 L433.1,393.4 L433.4,393.5 L433.6,393.5 L433.9,393.4 L434.1,392.9 L434.4,393.5 L434.7,394.1 L434.9,394.9 L435.2,395.7 L435.4,395.6 L435.7,396.3 L436.0,397.0 L436.2,399.3 L436.5,399.5 L436.7,397.0 L437.0,395.4 L437.3,393.7 L437.5,392.7 L437.8,391.0 L438.0,390.9 L438.3,390.1 L438.6,389.8 L438.8,389.7 L439.1,388.6 L439.3,389.4 L439.6,389.2 L439.9,390.8 L440.1,390.7 L440.4,389.6 L440.6,390.4 L440.9,388.4 L441.2,387.4 L441.4,386.1 L441.7,385.8 L441.9,387.3 L442.2,387.3 L442.5,387.8 L442.7,388.6 L443.0,389.9 L443.2,390.4 L443.5,389.5 L443.8,388.7 L444.0,389.6 L444.3,389.9 L444.5,389.8 L444.8,390.7 L445.1,392.0 L445.3,393.6 L445.6,394.4 L445.8,395.4 L446.1,394.8 L446.4,393.7 L446.6,391.9 L446.9,390.8 L447.1,389.7 L447.4,388.8 L447.7,388.6 L447.9,387.9 L448.2,388.7 L448.5,388.1 L448.7,388.9 L449.0,389.6 L449.2,391.0 L449.5,391.4 L449.8,392.2 L450.0,393.4 L450.3,391.9 L450.5,391.1 L450.8,390.7 L451.1,391.2 L451.3,390.5 L451.6,390.1 L451.8,390.8 L452.1,393.6 L452.4,395.7 L452.6,396.8 L452.9,395.6 L453.1,393.1 L453.4,392.1 L453.7,390.2 L453.9,388.7 L454.2,387.2 L454.4,387.4 L454.7,387.3 L455.0,385.6 L455.2,384.8 L455.5,384.2 L455.7,385.2 L456.0,385.2 L456.3,385.8 L456.5,385.6 L456.8,386.0 L457.0,385.8 L457.3,386.5 L457.6,387.9 L457.8,388.1 L458.1,389.8 L458.3,390.7 L458.6,391.8 L458.9,393.0 L459.1,395.7 L459.4,400.0 L459.6,403.2 L459.9,402.4 L460.2,398.8 L460.4,397.4 L460.7,395.6 L460.9,394.5 L461.2,392.6 L461.5,391.2 L461.7,390.9 L462.0,388.4 L462.3,387.8 L462.5,388.6 L462.8,390.0 L463.0,390.1 L463.3,389.8 L463.6,391.3 L463.8,391.5 L464.1,390.6 L464.3,390.8 L464.6,391.6 L464.9,391.6 L465.1,392.8 L465.4,393.6 L465.6,394.7 L465.9,395.0 L466.2,394.9 L466.4,394.2 L466.7,392.4 L466.9,390.8 L467.2,390.4 L467.5,389.1 L467.7,388.4 L468.0,387.9 L468.2,387.9 L468.5,387.8 L468.8,386.3 L469.0,386.2 L469.3,386.7 L469.5,386.8 L469.8,386.8 L470.1,388.6 L470.3,390.1 L470.6,391.6 L470.8,392.5 L471.1,391.1 L471.4,390.7 L471.6,389.6 L471.9,390.3 L472.1,389.3 L472.4,388.3 L472.7,388.6 L472.9,388.1 L473.2,387.8 L473.4,387.4 L473.7,386.9 L474.0,386.8 L474.2,386.9 L474.5,387.0 L474.7,387.4 L475.0,387.4 L475.3,389.0 L475.5,390.2 L475.8,391.0 L476.1,391.7 L476.3,393.3 L476.6,395.4 L476.8,396.3 L477.1,397.2 L477.4,399.1 L477.6,402.4 L477.9,403.1 L478.1,399.6 L478.4,395.2 L478.7,392.5 L478.9,391.1 L479.2,391.2 L479.4,391.6 L479.7,390.5 L480.0,391.3 L480.2,391.7 L480.5,392.3 L480.7,394.2 L481.0,392.6 L481.3,393.5 L481.5,392.7 L481.8,393.0 L482.0,393.9 L482.3,393.5 L482.6,394.7 L482.8,395.0 L483.1,396.3 L483.3,395.2 L483.6,394.3 L483.9,393.3 L484.1,391.8 L484.4,390.8 L484.6,389.2 L484.9,388.7 L485.2,389.5 L485.4,390.6 L485.7,392.7 L485.9,393.9 L486.2,394.0 L486.5,395.0 L486.7,395.2 L487.0,395.3 L487.2,394.9 L487.5,394.4 L487.8,394.0 L488.0,392.7 L488.3,393.7 L488.5,393.9 L488.8,393.5 L489.1,392.6 L489.3,393.4 L489.6,394.0 L489.9,392.6 L490.1,391.5 L490.4,392.1 L490.6,394.1 L490.9,393.2 L491.2,392.7 L491.4,392.8 L491.7,393.4 L491.9,392.4 L492.2,391.4 L492.5,390.9 L492.7,390.5 L493.0,391.2 L493.2,392.3 L493.5,393.3 L493.8,393.0 L494.0,393.2 L494.3,392.6 L494.5,392.1 L494.8,391.5 L495.1,390.5 L495.3,390.6 L495.6,388.9 L495.8,388.6 L496.1,388.7 L496.4,388.5 L496.6,389.6 L496.9,388.9 L497.1,389.5 L497.4,389.9 L497.7,390.0 L497.9,388.8 L498.2,387.0 L498.4,387.5 L498.7,387.8 L499.0,388.0 L499.2,386.8 L499.5,387.2 L499.7,388.4 L500.0,389.3 L500.3,390.6 L500.5,391.5 L500.8,393.5 L501.0,393.9 L501.3,394.5 L501.6,395.0 L501.8,394.9 L502.1,395.4 L502.3,395.9 L502.6,397.1 L502.9,397.6 L503.1,398.1 L503.4,398.0 L503.7,397.7 L503.9,398.0 L504.2,399.8 L504.4,401.5 L504.7,402.4 L505.0,400.5 L505.2,397.2 L505.5,394.2 L505.7,392.4 L506.0,392.4 L506.3,391.5 L506.5,391.7 L506.8,391.8 L507.0,391.9 L507.3,391.3 L507.6,391.8 L507.8,391.5 L508.1,393.0 L508.3,393.5 L508.6,393.8 L508.9,394.2 L509.1,394.0 L509.4,394.1 L509.6,392.0 L509.9,391.8 L510.2,392.3 L510.4,391.8 L510.7,391.1 L510.9,391.4 L511.2,390.8 L511.5,390.7 L511.7,389.6 L512.0,390.4 L512.2,391.9 L512.5,393.7 L512.8,396.3 L513.0,397.4 L513.3,398.3 L513.5,396.8 L513.8,394.8 L514.1,393.7 L514.3,393.1 L514.6,392.5 L514.8,391.7 L515.1,391.3 L515.4,392.6 L515.6,392.3 L515.9,392.3 L516.1,392.7 L516.4,394.2 L516.7,394.2 L516.9,393.2 L517.2,393.4 L517.5,393.9 L517.7,393.4 L518.0,392.4 L518.2,391.3 L518.5,391.2 L518.8,390.9 L519.0,389.9 L519.3,388.5 L519.5,388.4 L519.8,387.9 L520.1,387.5 L520.3,387.6 L520.6,388.2 L520.8,389.4 L521.1,389.6 L521.4,390.9 L521.6,391.4 L521.9,390.4 L522.1,391.2 L522.4,390.3 L522.7,390.1 L522.9,389.2 L523.2,389.3 L523.4,390.7 L523.7,389.7 L524.0,389.9 L524.2,389.5 L524.5,390.0 L524.7,390.6 L525.0,390.4 L525.3,391.1 L525.5,392.2 L525.8,392.7 L526.0,392.8 L526.3,391.6 L526.6,390.8 L526.8,390.2 L527.1,389.3 L527.3,389.2 L527.6,390.3 L527.9,390.5 L528.1,391.0 L528.4,391.3 L528.6,391.2 L528.9,391.1 L529.2,390.5 L529.4,390.3 L529.7,390.0 L529.9,389.8 L530.2,390.6 L530.5,392.2 L530.7,394.0 L531.0,395.7 L531.3,395.3 L531.5,396.0 L531.8,396.3 L532.0,394.5 L532.3,392.2 L532.6,391.1 L532.8,391.6 L533.1,391.0 L533.3,390.6 L533.6,391.3 L533.9,393.0 L534.1,393.3 L534.4,393.7 L534.6,393.8 L534.9,393.2 L535.2,394.2 L535.4,394.2 L535.7,394.4 L535.9,395.6 L536.2,396.1 L536.5,397.0 L536.7,395.5 L537.0,394.8 L537.2,394.3 L537.5,393.7" fill="none" stroke="#000000" stroke-width="1.4" stroke-linejoin="round" />
<path clip-path="url(#clipf)" d="M329.2,391.6 L329.5,391.6 L329.7,391.1 L330.0,390.6 L330.2,390.9 L330.5,389.5 L330.8,389.8 L331.0,391.0 L331.3,390.8 L331.5,389.7 L331.8,390.4 L332.1,388.0 L332.3,383.1 L332.6,383.4 L332.8,383.3 L333.1,382.2 L333.4,387.7 L333.6,390.2 L333.9,382.4 L334.1,385.6 L334.4,381.9 L334.7,381.8 L334.9,387.5 L335.2,385.2 L335.4,390.7 L335.7,389.9 L336.0,389.4 L336.2,389.1 L336.5,384.2 L336.8,385.3 L337.0,385.2 L337.3,387.3 L337.5,388.9 L337.8,386.3 L338.1,381.4 L338.3,381.1 L338.6,376.4 L338.8,375.8 L339.1,387.2 L339.4,391.0 L339.6,397.0 L339.9,401.9 L340.1,399.9 L340.4,398.5 L340.7,398.7 L340.9,394.4 L341.2,393.6 L341.4,392.5 L341.7,389.7 L342.0,387.3 L342.2,387.6 L342.5,388.1 L342.7,385.6 L343.0,386.1 L343.3,383.3 L343.5,383.6 L343.8,390.2 L344.0,391.2 L344.3,393.7 L344.6,389.8 L344.8,385.8 L345.1,384.7 L345.3,384.0 L345.6,385.2 L345.9,384.3 L346.1,389.6 L346.4,389.1 L346.6,388.3 L346.9,392.4 L347.2,392.0 L347.4,394.5 L347.7,397.1 L347.9,390.5 L348.2,384.0 L348.5,379.0 L348.7,376.9 L349.0,379.3 L349.2,384.0 L349.5,389.1 L349.8,390.1 L350.0,392.7 L350.3,401.6 L350.6,400.0 L350.8,404.2 L351.1,400.7 L351.3,396.6 L351.6,395.7 L351.9,393.1 L352.1,391.0 L352.4,386.3 L352.6,387.1 L352.9,381.4 L353.2,383.9 L353.4,384.1 L353.7,386.6 L353.9,391.4 L354.2,390.2 L354.5,391.7 L354.7,394.0 L355.0,394.0 L355.2,391.5 L355.5,393.2 L355.8,391.4 L356.0,389.3 L356.3,391.3 L356.5,392.2 L356.8,392.4 L357.1,396.1 L357.3,395.7 L357.6,398.4 L357.8,402.8 L358.1,399.6 L358.4,402.1 L358.6,400.2 L358.9,395.9 L359.1,393.8 L359.4,392.3 L359.7,391.8 L359.9,392.6 L360.2,394.0 L360.4,396.0 L360.7,396.6 L361.0,394.9 L361.2,397.9 L361.5,399.3 L361.7,402.4 L362.0,403.9 L362.3,403.3 L362.5,402.3 L362.8,399.2 L363.0,394.8 L363.3,389.5 L363.6,386.3 L363.8,382.7 L364.1,384.2 L364.4,379.3 L364.6,372.0 L364.9,374.3 L365.1,372.1 L365.4,377.3 L365.7,381.8 L365.9,383.6 L366.2,386.9 L366.4,384.8 L366.7,387.8 L367.0,385.3 L367.2,383.5 L367.5,386.0 L367.7,381.3 L368.0,378.6 L368.3,378.5 L368.5,379.1 L368.8,381.7 L369.0,387.1 L369.3,391.4 L369.6,391.7 L369.8,397.7 L370.1,397.2 L370.3,396.1 L370.6,396.9 L370.9,396.7 L371.1,400.2 L371.4,399.3 L371.6,397.5 L371.9,393.0 L372.2,390.8 L372.4,394.2 L372.7,395.9 L372.9,397.4 L373.2,400.1 L373.5,396.6 L373.7,400.5 L374.0,398.6 L374.2,399.9 L374.5,402.1 L374.8,399.2 L375.0,403.8 L375.3,402.0 L375.5,399.2 L375.8,401.0 L376.1,398.8 L376.3,399.3 L376.6,399.1 L376.8,392.8 L377.1,391.2 L377.4,388.1 L377.6,386.1 L377.9,389.8 L378.2,387.8 L378.4,391.2 L378.7,395.5 L378.9,399.2 L379.2,403.3 L379.5,402.1 L379.7,400.2 L380.0,399.0 L380.2,399.3 L380.5,403.7 L380.8,409.8 L381.0,412.5 L381.3,409.2 L381.5,410.2 L381.8,407.5 L382.1,400.8 L382.3,404.9 L382.6,403.2 L382.8,403.1 L383.1,406.2 L383.4,403.9 L383.6,403.2 L383.9,400.5 L384.1,398.0 L384.4,399.9 L384.7,401.0 L384.9,403.7 L385.2,405.3 L385.4,403.9 L385.7,398.9 L386.0,398.5 L386.2,397.7 L386.5,395.5 L386.7,400.8 L387.0,398.1 L387.3,395.7 L387.5,392.9 L387.8,390.6 L388.0,392.0 L388.3,392.5 L388.6,395.6 L388.8,396.2 L389.1,393.2 L389.3,393.0 L389.6,389.8 L389.9,387.4 L390.1,385.7 L390.4,384.1 L390.6,384.5 L390.9,379.3 L391.2,377.4 L391.4,377.0 L391.7,374.7 L392.0,377.9 L392.2,384.1 L392.5,389.5 L392.7,391.7 L393.0,393.5 L393.3,396.7 L393.5,391.4 L393.8,393.5 L394.0,397.2 L394.3,394.4 L394.6,398.6 L394.8,397.0 L395.1,398.1 L395.3,400.7 L395.6,402.2 L395.9,405.4 L396.1,403.2 L396.4,400.6 L396.6,398.9 L396.9,395.3 L397.2,394.5 L397.4,391.1 L397.7,391.0 L397.9,394.7 L398.2,397.5 L398.5,401.3 L398.7,401.3 L399.0,402.2 L399.2,397.0 L399.5,395.4 L399.8,397.1 L400.0,397.2 L400.3,401.3 L400.5,399.0 L400.8,399.7 L401.1,399.8 L401.3,395.7 L401.6,399.5 L401.8,397.4 L402.1,401.3 L402.4,401.7 L402.6,400.2 L402.9,402.3 L403.1,395.4 L403.4,397.2 L403.7,392.9 L403.9,393.2 L404.2,396.1 L404.4,393.7 L404.7,393.4 L405.0,392.9 L405.2,390.1 L405.5,386.6 L405.8,384.7 L406.0,383.9 L406.3,385.1 L406.5,383.5 L406.8,383.8 L407.1,378.6 L407.3,379.5 L407.6,386.5 L407.8,386.6 L408.1,394.1 L408.4,399.2 L408.6,397.7 L408.9,405.9 L409.1,404.9 L409.4,404.3 L409.7,402.5 L409.9,396.1 L410.2,399.2 L410.4,394.5 L410.7,393.6 L411.0,392.2 L411.2,386.1 L411.5,381.5 L411.7,379.7 L412.0,378.8 L412.3,377.3 L412.5,380.7 L412.8,380.3 L413.0,384.5 L413.3,392.9 L413.6,396.8 L413.8,396.3 L414.1,390.1 L414.3,379.8 L414.6,379.1 L414.9,377.5 L415.1,375.2 L415.4,380.2 L415.6,377.1 L415.9,378.3 L416.2,382.7 L416.4,380.4 L416.7,383.0 L416.9,385.5 L417.2,383.3 L417.5,386.5 L417.7,389.2 L418.0,384.4 L418.2,382.4 L418.5,382.1 L418.8,379.6 L419.0,378.8 L419.3,380.2 L419.6,381.9 L419.8,385.5 L420.1,391.6 L420.3,390.8 L420.6,387.1 L420.9,386.0 L421.1,388.4 L421.4,390.2 L421.6,393.7 L421.9,389.3 L422.2,386.0 L422.4,385.1 L422.7,388.0 L422.9,392.5 L423.2,393.8 L423.5,396.5 L423.7,393.4 L424.0,390.1 L424.2,390.3 L424.5,384.6 L424.8,385.7 L425.0,387.6 L425.3,384.5 L425.5,394.4 L425.8,397.5 L426.1,400.1 L426.3,403.8 L426.6,398.6 L426.8,395.1 L427.1,396.8 L427.4,393.2 L427.6,394.0 L427.9,391.2 L428.1,388.0 L428.4,385.5 L428.7,384.9 L428.9,384.6 L429.2,388.3 L429.4,392.6 L429.7,396.1 L430.0,400.1 L430.2,401.1 L430.5,404.5 L430.7,399.0 L431.0,395.3 L431.3,391.8 L431.5,387.6 L431.8,385.1 L432.0,382.7 L432.3,381.6 L432.6,382.6 L432.8,381.2 L433.1,385.7 L433.4,387.1 L433.6,391.2 L433.9,391.4 L434.1,391.7 L434.4,393.7 L434.7,389.5 L434.9,395.4 L435.2,397.3 L435.4,401.7 L435.7,405.2 L436.0,401.1 L436.2,399.3 L436.5,392.6 L436.7,390.7 L437.0,395.8 L437.3,398.4 L437.5,401.1 L437.8,400.5 L438.0,399.1 L438.3,395.1 L438.6,392.7 L438.8,393.8 L439.1,395.4 L439.3,395.7 L439.6,394.9 L439.9,395.1 L440.1,393.6 L440.4,394.3 L440.6,395.2 L440.9,393.2 L441.2,390.5 L441.4,390.6 L441.7,389.7 L441.9,390.3 L442.2,391.6 L442.5,392.3 L442.7,394.8 L443.0,395.9 L443.2,394.9 L443.5,391.5 L443.8,390.2 L444.0,389.5 L444.3,392.9 L444.5,392.8 L444.8,391.8 L445.1,391.5 L445.3,390.8 L445.6,393.1 L445.8,396.2 L446.1,398.8 L446.4,397.2 L446.6,398.8 L446.9,400.2 L447.1,395.4 L447.4,392.8 L447.7,387.4 L447.9,384.1 L448.2,384.4 L448.5,383.8 L448.7,386.6 L449.0,390.9 L449.2,387.6 L449.5,387.2 L449.8,385.0 L450.0,381.8 L450.3,386.4 L450.5,387.4 L450.8,388.0 L451.1,389.7 L451.3,387.9 L451.6,385.8 L451.8,383.4 L452.1,384.1 L452.4,388.4 L452.6,396.2 L452.9,395.4 L453.1,394.0 L453.4,389.4 L453.7,384.7 L453.9,389.2 L454.2,383.2 L454.4,382.1 L454.7,378.5 L455.0,376.2 L455.2,379.4 L455.5,376.9 L455.7,378.9 L456.0,377.8 L456.3,379.0 L456.5,383.4 L456.8,380.2 L457.0,378.7 L457.3,382.4 L457.6,379.0 L457.8,380.2 L458.1,379.9 L458.3,382.0 L458.6,386.2 L458.9,387.6 L459.1,393.3 L459.4,392.6 L459.6,393.8 L459.9,400.9 L460.2,398.9 L460.4,395.9 L460.7,392.3 L460.9,383.6 L461.2,382.2 L461.5,382.6 L461.7,382.7 L462.0,385.5 L462.3,388.0 L462.5,390.5 L462.8,391.4 L463.0,392.1 L463.3,390.8 L463.6,390.2 L463.8,388.1 L464.1,387.5 L464.3,391.2 L464.6,392.7 L464.9,390.2 L465.1,389.8 L465.4,388.5 L465.6,389.0 L465.9,394.8 L466.2,399.0 L466.4,395.9 L466.7,392.4 L466.9,388.1 L467.2,386.3 L467.5,385.6 L467.7,386.1 L468.0,387.1 L468.2,382.9 L468.5,382.5 L468.8,376.3 L469.0,374.0 L469.3,372.7 L469.5,371.8 L469.8,377.2 L470.1,381.7 L470.3,386.1 L470.6,390.5 L470.8,389.8 L471.1,391.5 L471.4,390.4 L471.6,383.9 L471.9,384.5 L472.1,381.0 L472.4,381.6 L472.7,383.6 L472.9,382.6 L473.2,380.3 L473.4,378.5 L473.7,375.0 L474.0,375.1 L474.2,377.7 L474.5,379.8 L474.7,385.0 L475.0,387.5 L475.3,389.6 L475.5,387.1 L475.8,385.4 L476.1,382.9 L476.3,387.2 L476.6,391.7 L476.8,392.1 L477.1,396.3 L477.4,394.8 L477.6,396.3 L477.9,398.3 L478.1,394.4 L478.4,388.9 L478.7,383.5 L478.9,380.5 L479.2,381.6 L479.4,383.5 L479.7,385.8 L480.0,388.8 L480.2,389.5 L480.5,391.3 L480.7,391.6 L481.0,391.6 L481.3,393.0 L481.5,392.9 L481.8,396.7 L482.0,393.7 L482.3,393.0 L482.6,391.6 L482.8,386.2 L483.1,387.9 L483.3,387.8 L483.6,384.8 L483.9,381.6 L484.1,379.9 L484.4,375.9 L484.6,376.9 L484.9,382.4 L485.2,384.1 L485.4,387.2 L485.7,389.4 L485.9,389.1 L486.2,393.2 L486.5,401.1 L486.7,402.1 L487.0,406.8 L487.2,405.9 L487.5,403.7 L487.8,403.0 L488.0,397.7 L488.3,400.0 L488.5,398.2 L488.8,398.1 L489.1,396.4 L489.3,392.8 L489.6,393.8 L489.9,394.4 L490.1,393.3 L490.4,395.5 L490.6,394.2 L490.9,392.9 L491.2,398.9 L491.4,399.1 L491.7,403.4 L491.9,404.8 L492.2,400.5 L492.5,397.7 L492.7,396.7 L493.0,393.1 L493.2,397.9 L493.5,401.1 L493.8,395.1 L494.0,396.2 L494.3,393.0 L494.5,387.5 L494.8,390.1 L495.1,389.6 L495.3,389.9 L495.6,392.5 L495.8,391.9 L496.1,389.6 L496.4,388.9 L496.6,388.3 L496.9,391.7 L497.1,396.5 L497.4,393.2 L497.7,392.9 L497.9,388.6 L498.2,383.5 L498.4,384.9 L498.7,383.4 L499.0,382.7 L499.2,387.2 L499.5,384.8 L499.7,383.0 L500.0,382.0 L500.3,379.7 L500.5,382.0 L500.8,385.7 L501.0,386.6 L501.3,385.9 L501.6,388.5 L501.8,390.4 L502.1,394.6 L502.3,398.9 L502.6,400.2 L502.9,401.0 L503.1,406.1 L503.4,405.7 L503.7,406.8 L503.9,410.2 L504.2,407.2 L504.4,410.7 L504.7,405.6 L505.0,402.8 L505.2,399.8 L505.5,395.3 L505.7,397.1 L506.0,397.0 L506.3,396.2 L506.5,397.4 L506.8,397.3 L507.0,397.5 L507.3,396.8 L507.6,394.6 L507.8,395.2 L508.1,392.8 L508.3,393.2 L508.6,395.4 L508.9,396.8 L509.1,395.1 L509.4,394.4 L509.6,389.9 L509.9,386.9 L510.2,384.5 L510.4,382.9 L510.7,386.0 L510.9,387.7 L511.2,388.7 L511.5,386.8 L511.7,388.3 L512.0,385.4 L512.2,389.7 L512.5,396.1 L512.8,398.5 L513.0,401.3 L513.3,402.9 L513.5,401.7 L513.8,401.1 L514.1,399.6 L514.3,396.4 L514.6,389.2 L514.8,388.9 L515.1,387.6 L515.4,388.6 L515.6,393.4 L515.9,391.9 L516.1,394.2 L516.4,393.8 L516.7,397.0 L516.9,395.7 L517.2,394.0 L517.5,397.8 L517.7,396.5 L518.0,400.8 L518.2,402.4 L518.5,401.0 L518.8,396.2 L519.0,394.4 L519.3,388.0 L519.5,386.2 L519.8,387.1 L520.1,381.6 L520.3,385.8 L520.6,384.9 L520.8,383.7 L521.1,386.0 L521.4,387.0 L521.6,386.7 L521.9,387.6 L522.1,391.1 L522.4,390.7 L522.7,390.5 L522.9,386.2 L523.2,382.9 L523.4,382.7 L523.7,382.4 L524.0,384.0 L524.2,388.4 L524.5,388.3 L524.7,392.9 L525.0,398.1 L525.3,395.9 L525.5,396.1 L525.8,392.5 L526.0,389.5 L526.3,385.2 L526.6,383.7 L526.8,382.6 L527.1,383.0 L527.3,381.7 L527.6,380.7 L527.9,383.2 L528.1,384.2 L528.4,387.0 L528.6,388.1 L528.9,388.2 L529.2,385.4 L529.4,389.9 L529.7,392.9 L529.9,391.0 L530.2,395.0 L530.5,393.1 L530.7,393.5 L531.0,396.6 L531.3,399.7 L531.5,401.2 L531.8,400.9 L532.0,399.1 L532.3,393.3 L532.6,390.1 L532.8,390.4 L533.1,390.5 L533.3,388.1 L533.6,388.3 L533.9,387.8 L534.1,387.9 L534.4,389.2 L534.6,389.0 L534.9,389.3 L535.2,389.3 L535.4,392.4 L535.7,395.6 L535.9,392.9 L536.2,397.3 L536.5,396.9 L536.7,397.8 L537.0,401.7 L537.2,396.7 L537.5,399.8" fill="none" stroke="#00ffff" stroke-width="1.5999999999999999" stroke-dasharray="3.4 0.9 1.1 0.9" stroke-linejoin="round" />
<rect x="329.2" y="350.25" width="208.3" height="100.3" fill="none" stroke="#3a3a3a" stroke-width="1"/>
<line x1="329.2" y1="450.55" x2="329.2" y2="448.35" stroke="#3a3a3a" stroke-width="0.8"/>
<line x1="329.2" y1="350.25" x2="329.2" y2="352.45" stroke="#3a3a3a" stroke-width="0.8"/>
<text x="329.2" y="466.7" text-anchor="middle" class="tk">0</text>
<line x1="381.3" y1="450.55" x2="381.3" y2="448.35" stroke="#3a3a3a" stroke-width="0.8"/>
<line x1="381.3" y1="350.25" x2="381.3" y2="352.45" stroke="#3a3a3a" stroke-width="0.8"/>
<text x="381.3" y="466.7" text-anchor="middle" class="tk">5</text>
<line x1="433.4" y1="450.55" x2="433.4" y2="448.35" stroke="#3a3a3a" stroke-width="0.8"/>
<line x1="433.4" y1="350.25" x2="433.4" y2="352.45" stroke="#3a3a3a" stroke-width="0.8"/>
<text x="433.4" y="466.7" text-anchor="middle" class="tk">10</text>
<line x1="485.4" y1="450.55" x2="485.4" y2="448.35" stroke="#3a3a3a" stroke-width="0.8"/>
<line x1="485.4" y1="350.25" x2="485.4" y2="352.45" stroke="#3a3a3a" stroke-width="0.8"/>
<text x="485.4" y="466.7" text-anchor="middle" class="tk">15</text>
<line x1="537.5" y1="450.55" x2="537.5" y2="448.35" stroke="#3a3a3a" stroke-width="0.8"/>
<line x1="537.5" y1="350.25" x2="537.5" y2="352.45" stroke="#3a3a3a" stroke-width="0.8"/>
<text x="537.5" y="466.7" text-anchor="middle" class="tk">20</text>
<line x1="329.2" y1="450.6" x2="331.4" y2="450.6" stroke="#3a3a3a" stroke-width="0.8"/>
<line x1="537.5" y1="450.6" x2="535.3" y2="450.6" stroke="#3a3a3a" stroke-width="0.8"/>
<text x="324.7" y="454.9" text-anchor="end" class="tk">2.8</text>
<line x1="329.2" y1="425.5" x2="331.4" y2="425.5" stroke="#3a3a3a" stroke-width="0.8"/>
<line x1="537.5" y1="425.5" x2="535.3" y2="425.5" stroke="#3a3a3a" stroke-width="0.8"/>
<text x="324.7" y="429.9" text-anchor="end" class="tk">3</text>
<line x1="329.2" y1="400.4" x2="331.4" y2="400.4" stroke="#3a3a3a" stroke-width="0.8"/>
<line x1="537.5" y1="400.4" x2="535.3" y2="400.4" stroke="#3a3a3a" stroke-width="0.8"/>
<text x="324.7" y="404.8" text-anchor="end" class="tk">3.2</text>
<line x1="329.2" y1="375.3" x2="331.4" y2="375.3" stroke="#3a3a3a" stroke-width="0.8"/>
<line x1="537.5" y1="375.3" x2="535.3" y2="375.3" stroke="#3a3a3a" stroke-width="0.8"/>
<text x="324.7" y="379.7" text-anchor="end" class="tk">3.4</text>
<line x1="329.2" y1="350.2" x2="331.4" y2="350.2" stroke="#3a3a3a" stroke-width="0.8"/>
<line x1="537.5" y1="350.2" x2="535.3" y2="350.2" stroke="#3a3a3a" stroke-width="0.8"/>
<text x="324.7" y="354.6" text-anchor="end" class="tk">3.6</text>
<rect x="330.2" y="433.8" width="190.1" height="15.9" fill="#ffffff" stroke="#3a3a3a" stroke-width="1"/>
<line x1="334.0" y1="441.9" x2="353.8" y2="441.9" stroke="#ff0000" stroke-width="1.4" stroke-dasharray="2.8 0.9 1.0 0.9"/>
<text x="355.8" y="446.1" class="lg">VC</text>
<line x1="375.8" y1="441.9" x2="395.0" y2="441.9" stroke="#0000ff" stroke-width="1.4" stroke-dasharray="4 1.7"/>
<text x="396.8" y="446.1" class="lg">FLC</text>
<line x1="421.4" y1="441.9" x2="441.1" y2="441.9" stroke="#000000" stroke-width="1.4"/>
<text x="443.0" y="446.1" class="lg">NAC</text>
<line x1="470.8" y1="441.9" x2="490.8" y2="441.9" stroke="#00ffff" stroke-width="1.5999999999999999" stroke-dasharray="3.4 0.9 1.1 0.9"/>
<text x="492.7" y="446.1" class="lg">GSPI</text>
<text x="433.4" y="481.2" text-anchor="middle" class="lb">Time (s)</text>
<text x="433.4" y="496.4" text-anchor="middle" class="lb">(f)</text>
<g transform="translate(298.4,429.1) rotate(-90)">
<text x="0.0" y="0.0" font-size="13px">Q</text>
<text x="10.0" y="6.2" font-size="9.5px">m</text>
<text x="22.0" y="0.0" font-size="13.1px">(VAR)</text>
</g>
<text x="329.4" y="347.8" font-size="14px">&#215;10<tspan dy="-5.2" dx="0.6" font-size="10.5px">4</tspan></text>
</svg>
</body></html>
